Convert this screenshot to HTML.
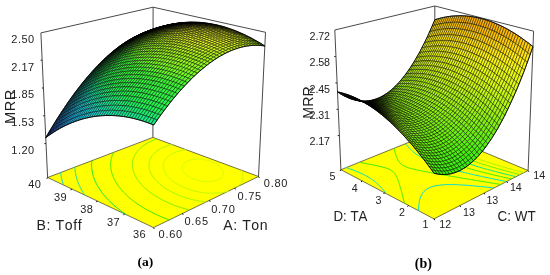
<!DOCTYPE html>
<html><head><meta charset="utf-8"><title>MRR response surfaces</title>
<style>html,body{margin:0;padding:0;background:#fff}svg{display:block}text{font-family:"Liberation Sans",Arial,sans-serif;fill:#222;font-kerning:none}text.cap{font-family:"Liberation Serif",serif;font-weight:bold;fill:#000}</style>
</head><body>
<svg width="550" height="275" viewBox="0 0 550 275">
<rect width="550" height="275" fill="#fff"/>
<g><path d="M153.5 227.6 L258.5 176.5 L152.9 137.4 L47.6 177.5 z" fill="#ffff00" stroke="#3a3a20" stroke-width="0.7"/>
<polyline points="60.6,172.5 60.7,173.2 60.8,173.8 60.9,174.6 61,175.5 61.2,176.3 61.3,176.9 61.4,177.5 61.6,178.2 61.8,179.2 62,180 62.2,180.6 62.3,181.3 62.6,182 62.9,183 63.1,183.7 63.3,184.3 63.6,185.1 63.6,185.1" fill="none" stroke="#00d7e1" stroke-width="1"/>
<polyline points="74.9,167.1 74.9,167.7 75,168.4 75,169.1 75.1,169.9 75.2,170.7 75.2,171.5 75.3,172.2 75.4,172.8 75.5,173.4 75.6,174.1 75.8,175 76,175.9 76.2,176.5 76.3,177.2 76.5,177.8 76.7,178.6 77,179.6 77.2,180.2 77.4,180.8 77.7,181.5 78.1,182.5 78.4,183.3 78.6,183.9 78.9,184.6 79.4,185.7 79.7,186.3 80,186.9 80.4,187.8 80.9,188.7 81.2,189.3 81.6,190.1 82.2,191.1 82.6,191.7 83,192.5 83.7,193.5 84,194.1 84.7,195 84.7,195" fill="none" stroke="#00e1aa" stroke-width="1"/>
<polyline points="92,160.6 91.9,161.3 91.8,161.9 91.7,162.6 91.7,163.3 91.7,163.9 91.6,164.6 91.6,165.2 91.6,165.9 91.6,166.5 91.7,167.3 91.7,168.1 91.8,168.8 91.9,169.6 92,170.3 92.1,171 92.2,171.6 92.3,172.2 92.5,173 92.7,173.8 92.9,174.7 93.1,175.3 93.2,176 93.4,176.6 93.7,177.5 94.1,178.4 94.3,179 94.5,179.6 94.8,180.3 95.2,181.3 95.6,182.1 95.9,182.7 96.2,183.4 96.8,184.4 97.1,185 97.4,185.6 98,186.7 98.5,187.4 98.8,188 99.5,189 100,189.8 100.4,190.3 101.2,191.5 101.6,192.1 102.1,192.8 102.9,193.8 103.4,194.4 104.3,195.5 104.8,196.1 105.5,196.9 106.3,197.8 106.8,198.4 107.9,199.5 108.4,200.1 109.5,201.2 110.1,201.8 111.3,202.9 111.9,203.4 113.1,204.5 113.8,205.2 115,206.2 116.2,207.2 116.9,207.8 118.3,208.9 118.9,209.4 120.3,210.5 121.8,211.5 122.5,212.1 124,213.1 125.5,214.2 126.3,214.7" fill="none" stroke="#00e646" stroke-width="1"/>
<polyline points="113.6,152.4 113.2,153.1 112.9,153.9 112.6,154.6 112.3,155.2 112.1,155.8 111.9,156.4 111.7,157 111.6,157.6 111.4,158.3 111.2,158.9 111.1,159.6 111,160.3 110.9,161 110.8,161.7 110.7,162.4 110.7,163 110.6,163.7 110.6,164.4 110.6,165.1 110.6,165.8 110.7,166.5 110.8,167.3 110.8,168.1 110.9,168.9 111.1,169.6 111.2,170.2 111.3,170.8 111.4,171.4 111.6,172.1 111.9,173 112.1,173.9 112.3,174.6 112.6,175.2 112.8,175.8 113.1,176.6 113.5,177.5 113.8,178.2 114.1,178.8 114.4,179.5 115,180.5 115.3,181.2 115.7,181.8 116.2,182.6 116.7,183.5 117.1,184.1 117.6,184.9 118.3,185.8 118.7,186.4 119.4,187.3 120,188.1 120.5,188.7 121.4,189.8 121.9,190.4 122.6,191.2 123.4,192 124,192.6 125.1,193.7 125.6,194.2 126.7,195.3 127.3,195.9 128.5,196.9 129.1,197.5 130.4,198.5 131.2,199.2 132.3,200.1 133.7,201.2 134.4,201.7 135.8,202.7 136.8,203.5 138,204.3 139.5,205.3 140.9,206.2 141.8,206.8 143.4,207.7 145.1,208.7 146.7,209.7 147.6,210.2 149.4,211.1 151.2,212 153,213 154.9,213.9 156.8,214.8 158.8,215.7 160.8,216.5 162.8,217.4 164.9,218.2 167.1,219.1 168.2,219.5 169.3,219.9" fill="none" stroke="#3ceb00" stroke-width="1"/>
<polyline points="157,138.9 155.4,139.5 153.8,140.1 152.3,140.7 150.8,141.4 149.4,142.1 148,142.8 147.3,143.2 146.1,143.9 144.9,144.6 144.3,145 143.1,145.8 142.6,146.2 141.5,147.1 141,147.5 140,148.4 139.5,148.9 138.9,149.5 138.2,150.3 137.8,150.8 137.3,151.4 136.6,152.2 136.2,152.8 135.9,153.3 135.4,154 135,154.8 134.6,155.4 134.4,156 134.1,156.6 133.8,157.2 133.6,158 133.3,158.7 133.1,159.5 132.9,160.2 132.8,160.8 132.7,161.4 132.6,162.1 132.5,162.8 132.5,163.4 132.4,164.1 132.4,164.8 132.4,165.5 132.5,166.3 132.6,167 132.6,167.7 132.8,168.4 132.9,169 133,169.6 133.2,170.3 133.4,171 133.6,171.8 133.9,172.7 134.2,173.4 134.5,174 134.7,174.6 135.1,175.4 135.6,176.3 135.9,177 136.3,177.6 136.7,178.3 137.3,179.3 137.7,179.9 138.1,180.5 139,181.6 139.4,182.1 139.9,182.7 140.8,183.8 141.3,184.4 142.1,185.3 142.8,186 143.4,186.6 144.5,187.6 145.1,188.1 146.2,189.2 146.8,189.7 148.1,190.7 148.8,191.3 150.1,192.3 151.3,193.2 152.1,193.8 153.6,194.8 154.6,195.4 155.8,196.2 157.4,197.2 159,198.1 159.8,198.6 161.5,199.5 163.2,200.4 165,201.3 166.8,202.1 168.7,203 170.6,203.8 172.6,204.6 174.7,205.4 176.8,206.2 179,207 180.1,207.3 182.4,208 184.7,208.7 186,209.1 188.3,209.7 189.6,210" fill="none" stroke="#7df000" stroke-width="1"/>
<polyline points="258,176.8 257.9,176.3" fill="none" stroke="#a5f500" stroke-width="1"/>
<polyline points="171.9,144.4 170,144.9 168.8,145.3 167.3,145.8 165.7,146.4 164.1,147 162.6,147.7 161.6,148.1 160.5,148.7 159.2,149.5 158.1,150.2 157.4,150.7 156.3,151.5 155.7,151.9 154.8,152.8 154.2,153.3 153.7,153.9 152.9,154.7 152.5,155.2 152,155.8 151.4,156.7 151.1,157.3 150.8,157.8 150.5,158.5 150.1,159.3 149.8,160.1 149.6,160.7 149.4,161.3 149.3,161.9 149.1,162.6 149,163.2 149,163.9 148.9,164.6 148.9,165.2 148.9,165.9 149,166.7 149.1,167.4 149.2,168.2 149.4,168.9 149.6,169.7 149.8,170.5 150,171.1 150.2,171.7 150.5,172.3 150.9,173.1 151.3,174 151.7,174.7 152,175.3 152.5,176 153.2,177 153.6,177.6 154,178.2 154.9,179.2 155.4,179.8 155.9,180.4 156.9,181.4 157.5,182 158.5,183 159.2,183.5 160.2,184.5 161,185.1 162.3,186.1 162.9,186.6 164.3,187.5 165,188 166.5,189 168,189.9 169,190.5 170.4,191.3 172.1,192.1 173.8,193 175.6,193.8 177.5,194.7 179.4,195.5 181.4,196.2 183.5,197 185.6,197.7 187.1,198.1 189,198.7 191.3,199.3 192.5,199.6 195,200.2 196.5,200.5 198.9,201 200.3,201.2 202.9,201.6 204.6,201.8 206.1,202 206.1,202" fill="none" stroke="#a5f500" stroke-width="1"/>
<polyline points="237.4,186.8 238.4,186 239.5,185 239.9,184.4 240.7,183.5 241.2,182.8 241.5,182.2 242.1,181.1 242.3,180.5 242.5,179.9 242.7,179.1 242.9,178.2 243,177.4 243,176.7 243,176.1 242.9,175.4 242.9,174.7 242.7,174 242.5,173.2 242.3,172.5 242,171.7 241.7,170.9 241.3,170.1 241.3,170.1" fill="none" stroke="#c3fa00" stroke-width="1"/>
<polyline points="186.2,149.8 184.2,150 182.7,150.3 181.3,150.6 179.6,151 177.7,151.5 176.2,152 175.1,152.4 173.5,153.1 172.8,153.4 171.4,154.1 170.1,154.9 169.3,155.5 168.4,156.2 167.6,156.9 166.9,157.5 166.4,158 165.6,159 165.2,159.5 164.9,160.1 164.4,160.9 164,161.7 163.8,162.3 163.6,162.9 163.5,163.5 163.3,164.1 163.2,164.8 163.2,165.6 163.2,166.3 163.2,167 163.3,167.6 163.4,168.3 163.6,169.1 163.8,169.9 164.1,170.7 164.5,171.5 164.8,172.1 165.1,172.7 165.5,173.3 166.1,174.3 166.6,175 167,175.6 167.7,176.4 168.4,177.2 168.9,177.7 170,178.8 170.6,179.3 171.7,180.2 172.4,180.8 173.7,181.8 174.4,182.3 175.8,183.2 176.8,183.8 178.1,184.6 179.7,185.4 181.4,186.3 183.2,187.1 185,187.9 187,188.6 189,189.4 191.1,190 193.4,190.7 194.5,191 196.9,191.5 198.2,191.8 200.8,192.3 202.2,192.5 204,192.7 206.5,193 208.1,193.1 209.7,193.2 211.4,193.3 213.2,193.3 215.1,193.2 217.1,193.1 219.3,192.9 220.8,192.8 222.1,192.6 224.6,192.1 225.9,191.9 228.1,191.3 228.4,191.2" fill="none" stroke="#c3fa00" stroke-width="1"/>
<polyline points="214.4,180.9 215.6,180.6 217.5,179.9 219,179.1 220.4,178.3 220.9,177.8 221.9,176.8 222.3,176.3 222.7,175.4 223,174.5 223.2,173.9 223.2,173.2 223.2,172.6 223.1,171.9 222.9,171.1 222.6,170.3 222.2,169.5 221.7,168.8 221.3,168.2 220.9,167.7 220,166.7 219.3,166.1 218.7,165.6 217.4,164.7 216.7,164.2 215.3,163.4 213.7,162.6 212.2,161.9 211.2,161.5 210,161.1 208.3,160.6 206.3,160 204.6,159.7 202.8,159.4 201.5,159.2 199.6,159.1 197.8,159.1 196.2,159.1 194.8,159.2 192.8,159.4 191.2,159.7 189.2,160.3 188.3,160.6 187,161.2 186.1,161.7 184.8,162.5 184.2,163.1 183.4,164 183.1,164.5 182.7,165.2 182.4,166 182.2,166.8 182.1,167.5 182.2,168.2 182.3,168.9 182.5,169.6 182.7,170.3 183,170.9 183.3,171.5 183.9,172.3 184.6,173.2 185.1,173.7 186,174.5 186.9,175.2 188,176 188.9,176.6 190.4,177.5 192.1,178.3 193.9,179.1 195.9,179.7 198,180.4 200.1,180.9 201.6,181.1 203.1,181.3 205.5,181.6 207.4,181.6 209.2,181.6 210.7,181.5 212.1,181.3 214.4,180.9 214.4,180.9" fill="none" stroke="#d7fc00" stroke-width="1"/>
<line x1="47.6" y1="177.5" x2="40.9" y2="32.9" stroke="#4a4a4a" stroke-width="1"/>
<line x1="152.9" y1="137.4" x2="153.1" y2="7.2" stroke="#4a4a4a" stroke-width="1"/>
<line x1="258.5" y1="176.5" x2="265.5" y2="32.3" stroke="#4a4a4a" stroke-width="1"/>
<line x1="40.9" y1="32.9" x2="153.1" y2="7.2" stroke="#4a4a4a" stroke-width="1"/>
<line x1="153.1" y1="7.2" x2="265.5" y2="32.3" stroke="#4a4a4a" stroke-width="1"/>
<line x1="153.5" y1="227.6" x2="154.3" y2="228.9" stroke="#000" stroke-width="1"/>
<line x1="182.4" y1="213.5" x2="183.2" y2="214.8" stroke="#000" stroke-width="1"/>
<line x1="209.4" y1="200.4" x2="210.2" y2="201.7" stroke="#000" stroke-width="1"/>
<line x1="234.7" y1="188.1" x2="235.5" y2="189.4" stroke="#000" stroke-width="1"/>
<line x1="258.5" y1="176.5" x2="259.3" y2="177.8" stroke="#000" stroke-width="1"/>
<line x1="124.4" y1="213.8" x2="123.6" y2="215.1" stroke="#000" stroke-width="1"/>
<line x1="97.2" y1="200.9" x2="96.4" y2="202.2" stroke="#000" stroke-width="1"/>
<line x1="71.6" y1="188.9" x2="70.8" y2="190.2" stroke="#000" stroke-width="1"/>
<line x1="47.6" y1="177.5" x2="46.8" y2="178.8" stroke="#000" stroke-width="1"/>
<g transform="scale(0.1)" stroke="#000" stroke-width="4.6" stroke-linejoin="round"><path d="M1525 298l28-7-22 9-28 7z" fill="#000"/><path d="M1547 289l28-6-22 8-28 7z" fill="#000"/><path d="M1498 306l27-8-22 9-27 8z" fill="#000"/><path d="M1570 281l27-6-22 8-28 6z" fill="#000"/><path d="M1520 297l27-8-22 9-27 8z" fill="#000"/><path d="M1470 315l28-9-22 9-28 9z" fill="#000"/><path d="M1592 274l28-6-23 7-27 6z" fill="#000"/><path d="M1542 289l28-8-23 8-27 8z" fill="#000"/><path d="M1492 306l28-9-22 9-28 9z" fill="#000"/><path d="M1442 325l28-10-22 9-28 11z" fill="#000"/><path d="M1615 267l27-6-22 7-28 6z" fill="#000"/><path d="M1565 281l27-7-22 7-28 8z" fill="#000"/><path d="M1514 297l28-8-22 8-28 9z" fill="#000"/><path d="M1464 316l28-10-22 9-28 10z" fill="#000"/><path d="M1414 337l28-12-22 10-28 12z" fill="#000"/><path d="M1637 260l28-5-23 6-27 6z" fill="#000"/><path d="M1587 274l28-7-23 7-27 7z" fill="#000"/><path d="M1537 289l28-8-23 8-28 8z" fill="#000"/><path d="M1486 307l28-10-22 9-28 10z" fill="#000"/><path d="M1436 327l28-11-22 9-28 12z" fill="#000"/><path d="M1660 255l28-6-23 6-28 5z" fill="#000"/><path d="M1386 350l28-13-22 10-28 13z" fill="#000"/><path d="M1610 267l27-7-22 7-28 7z" fill="#000"/><path d="M1559 282l28-8-22 7-28 8z" fill="#000"/><path d="M1509 299l28-10-23 8-28 10z" fill="#000"/><path d="M1683 249l28-5-23 5-28 6z" fill="#000"/><path d="M1458 318l28-11-22 9-28 11z" fill="#000"/><path d="M1408 340l28-13-22 10-28 13z" fill="#000"/><path d="M1633 261l27-6-23 5-27 7z" fill="#000"/><path d="M1357 364l29-14-22 10-29 14z" fill="#000"/><path d="M1582 275l28-8-23 7-28 8z" fill="#000"/><path d="M1531 291l28-9-22 7-28 10z" fill="#000"/><path d="M1481 310l28-11-23 8-28 11z" fill="#000"/><path d="M1706 244l28-4-23 4-28 5z" fill="#000"/><path d="M1430 331l28-13-22 9-28 13z" fill="#000"/><path d="M1656 255l27-6-23 6-27 6z" fill="#000"/><path d="M1379 354l29-14-22 10-29 14z" fill="#000"/><path d="M1605 269l28-8-23 6-28 8z" fill="#000"/><path d="M1329 379l28-15-22 10-28 16z" fill="#000"/><path d="M1554 284l28-9-23 7-28 9z" fill="#000"/><path d="M1503 302l28-11-22 8-28 11z" fill="#000"/><path d="M1730 240l27-5-23 5-28 4z" fill="#000"/><path d="M1452 322l29-12-23 8-28 13z" fill="#000"/><path d="M1679 250l27-6-23 5-27 6z" fill="#000"/><path d="M1402 344l28-13-22 9-29 14z" fill="#000"/><path d="M1628 263l28-8-23 6-28 8z" fill="#000"/><path d="M1351 369l28-15-22 10-28 15z" fill="#000"/><path d="M1577 277l28-8-23 6-28 9z" fill="#000"/><path d="M1300 396l29-17-22 11-29 17z" fill="#000"/><path d="M1526 295l28-11-23 7-28 11z" fill="#000"/><path d="M1753 236l27-4-23 3-27 5z" fill="#000"/><path d="M1475 314l28-12-22 8-29 12z" fill="#000"/><path d="M1702 245l28-5-24 4-27 6z" fill="#000"/><path d="M1651 257l28-7-23 5-28 8z" fill="#000"/><path d="M1424 336l28-14-22 9-28 13z" fill="#000"/><path d="M1600 271l28-8-23 6-28 8z" fill="#000"/><path d="M1373 359l29-15-23 10-28 15z" fill="#000"/><path d="M1322 386l29-17-22 10-29 17z" fill="#000"/><path d="M1776 233l28-4-24 3-27 4z" fill="#000"/><path d="M1549 288l28-11-23 7-28 11z" fill="#000"/><path d="M1271 414l29-18-22 11-29 18z" fill="#000"/><path d="M1497 306l29-11-23 7-28 12z" fill="#000"/><path d="M1725 241l28-5-23 4-28 5z" fill="#000"/><path d="M1446 327l29-13-23 8-28 14z" fill="#000"/><path d="M1674 252l28-7-23 5-28 7z" fill="#000"/><path d="M1623 266l28-9-23 6-28 8z" fill="#000"/><path d="M1395 350l29-14-22 8-29 15z" fill="#000"/><path d="M1344 376l29-17-22 10-29 17z" fill="#000"/><path d="M1572 281l28-10-23 6-28 11z" fill="#000"/><path d="M1800 230l27-4-23 3-28 4z" fill="#000"/><path d="M1293 403l29-17-22 10-29 18z" fill="#000"/><path d="M1749 238l27-5-23 3-28 5z" fill="#000"/><path d="M1520 299l29-11-23 7-29 11z" fill="#000"/><path d="M1242 433l29-19-22 11-29 20z" fill="#000"/><path d="M1469 319l28-13-22 8-29 13z" fill="#000"/><path d="M1697 248l28-7-23 4-28 7z" fill="#000"/><path d="M1418 342l28-15-22 9-29 14z" fill="#000"/><path d="M1646 261l28-9-23 5-28 9z" fill="#000"/><path d="M1366 366l29-16-22 9-29 17z" fill="#000"/><path d="M1595 275l28-9-23 5-28 10z" fill="#000"/><path d="M1824 228l27-4-24 2-27 4z" fill="#000"/><path d="M1315 393l29-17-22 10-29 17z" fill="#000"/><path d="M1543 292l29-11-23 7-29 11z" fill="#000"/><path d="M1772 235l28-5-24 3-27 5z" fill="#000"/><path d="M1264 423l29-20-22 11-29 19z" fill="#000"/><path d="M1492 312l28-13-23 7-28 13z" fill="#000"/><path d="M1721 244l28-6-24 3-28 7z" fill="#000"/><path d="M1213 454l29-21-22 12-29 20z" fill="#000"/><path d="M1440 334l29-15-23 8-28 15z" fill="#000"/><path d="M1669 256l28-8-23 4-28 9z" fill="#000"/><path d="M1389 358l29-16-23 8-29 16z" fill="#000"/><path d="M1618 270l28-9-23 5-28 9z" fill="#000"/><path d="M1848 226l27-3-24 1-27 4z" fill="#000"/><path d="M1337 384l29-18-22 10-29 17z" fill="#000"/><path d="M1566 286l29-11-23 6-29 11z" fill="#000"/><path d="M1796 232l28-4-24 2-28 5z" fill="#000"/><path d="M1286 412l29-19-22 10-29 20z" fill="#000"/><path d="M1515 305l28-13-23 7-28 13z" fill="#000"/><path d="M1745 241l27-6-23 3-28 6z" fill="#000"/><path d="M1235 443l29-20-22 10-29 21z" fill="#000"/><path d="M1463 326l29-14-23 7-29 15z" fill="#000"/><path d="M1693 252l28-8-24 4-28 8z" fill="#000"/><path d="M1184 476l29-22-22 11-29 23z" fill="#000"/><path d="M1411 349l29-15-22 8-29 16z" fill="#000"/><path d="M1641 265l28-9-23 5-28 9z" fill="#000"/><path d="M1872 225l27-3-24 1-27 3z" fill="#000"/><path d="M1360 375l29-17-23 8-29 18z" fill="#000"/><path d="M1589 281l29-11-23 5-29 11z" fill="#000"/><path d="M1820 230l28-4-24 2-28 4z" fill="#000"/><path d="M1308 402l29-18-22 9-29 19z" fill="#000"/><path d="M1538 299l28-13-23 6-28 13z" fill="#000"/><path d="M1768 238l28-6-24 3-27 6z" fill="#000"/><path d="M1257 433l29-21-22 11-29 20z" fill="#000"/><path d="M1486 319l29-14-23 7-29 14z" fill="#000"/><path d="M1716 248l29-7-24 3-28 8z" fill="#000"/><path d="M1205 465l30-22-22 11-29 22z" fill="#000"/><path d="M1434 341l29-15-23 8-29 15z" fill="#000"/><path d="M1665 261l28-9-24 4-28 9z" fill="#000"/><path d="M1896 224l27-2-24 0-27 3z" fill="#000"/><path d="M1154 499l30-23-22 12-30 23z" fill="#000"/><path d="M1382 366l29-17-22 9-29 17z" fill="#000"/><path d="M1844 229l28-4-24 1-28 4z" fill="#000"/><path d="M1613 276l28-11-23 5-29 11z" fill="#000"/><path d="M1331 393l29-18-23 9-29 18z" fill="#000"/><path d="M1792 236l28-6-24 2-28 6z" fill="#000"/><path d="M1561 293l28-12-23 5-28 13z" fill="#000"/><path d="M1279 423l29-21-22 10-29 21z" fill="#010200"/><path d="M1509 312l29-13-23 6-29 14z" fill="#000"/><path d="M1740 245l28-7-23 3-29 7z" fill="#000"/><path d="M1457 334l29-15-23 7-29 15z" fill="#000"/><path d="M1227 454l30-21-22 10-30 22z" fill="#010601"/><path d="M1688 257l28-9-23 4-28 9z" fill="#000"/><path d="M1920 224l28-2-25 0-27 2z" fill="#000"/><path d="M1176 488l29-23-21 11-30 23z" fill="#020802"/><path d="M1405 358l29-17-23 8-29 17z" fill="#020400"/><path d="M1636 271l29-10-24 4-28 11z" fill="#000"/><path d="M1868 228l28-4-24 1-28 4z" fill="#000"/><path d="M1124 524l30-25-22 12-29 25z" fill="#020a03"/><path d="M1353 384l29-18-22 9-29 18z" fill="#030901"/><path d="M1816 234l28-5-24 1-28 6z" fill="#000"/><path d="M1584 288l29-12-24 5-28 12z" fill="#000"/><path d="M1301 413l30-20-23 9-29 21z" fill="#040c02"/><path d="M1764 243l28-7-24 2-28 7z" fill="#000"/><path d="M1532 306l29-13-23 6-29 13z" fill="#020300"/><path d="M1480 327l29-15-23 7-29 15z" fill="#050901"/><path d="M1945 225l27-2-24-1-28 2z" fill="#000"/><path d="M1249 444l30-21-22 10-30 21z" fill="#040f03"/><path d="M1712 254l28-9-24 3-28 9z" fill="#000"/><path d="M1428 351l29-17-23 7-29 17z" fill="#070f02"/><path d="M1198 477l29-23-22 11-29 23z" fill="#041204"/><path d="M1660 267l28-10-23 4-29 10z" fill="#000"/><path d="M1893 228l27-4-24 0-28 4z" fill="#000"/><path d="M1146 512l30-24-22 11-30 25z" fill="#041405"/><path d="M1376 376l29-18-23 8-29 18z" fill="#091303"/><path d="M1608 283l28-12-23 5-29 12z" fill="#040701"/><path d="M1840 233l28-5-24 1-28 5z" fill="#000"/><path d="M1095 550l29-26-21 12-30 26z" fill="#031506"/><path d="M1324 404l29-20-22 9-30 20z" fill="#081704"/><path d="M1555 301l29-13-23 5-29 13z" fill="#090e01"/><path d="M1788 241l28-7-24 2-28 7z" fill="#000"/><path d="M1272 434l29-21-22 10-30 21z" fill="#071a05"/><path d="M1503 321l29-15-23 6-29 15z" fill="#0c1402"/><path d="M1736 251l28-8-24 2-28 9z" fill="#000"/><path d="M1969 226l27-2-24-1-27 2z" fill="#000"/><path d="M1220 467l29-23-22 10-29 23z" fill="#061c06"/><path d="M1451 344l29-17-23 7-29 17z" fill="#0e1903"/><path d="M1684 264l28-10-24 3-28 10z" fill="#070901"/><path d="M1917 228l28-3-25-1-27 4z" fill="#000"/><path d="M1168 501l30-24-22 11-30 24z" fill="#061e07"/><path d="M1399 368l29-17-23 7-29 18z" fill="#0f1e03"/><path d="M1631 279l29-12-24 4-28 12z" fill="#0c1101"/><path d="M1865 233l28-5-25 0-28 5z" fill="#000"/><path d="M1116 538l30-26-22 12-29 26z" fill="#051f09"/><path d="M1346 396l30-20-23 8-29 20z" fill="#0e2105"/><path d="M1579 296l29-13-24 5-29 13z" fill="#101802"/><path d="M1812 240l28-7-24 1-28 7z" fill="#010100"/><path d="M1065 577l30-27-22 12-30 28z" fill="#05200a"/><path d="M1294 425l30-21-23 9-29 21z" fill="#0c2406"/><path d="M1526 315l29-14-23 5-29 15z" fill="#131e03"/><path d="M1760 249l28-8-24 2-28 8z" fill="#0a0c01"/><path d="M1994 228l27-2-25-2-27 2z" fill="#000"/><path d="M1242 457l30-23-23 10-29 23z" fill="#092608"/><path d="M1474 337l29-16-23 6-29 17z" fill="#142404"/><path d="M1707 261l29-10-24 3-28 10z" fill="#101502"/><path d="M1942 229l27-3-24-1-28 3z" fill="#000"/><path d="M1190 491l30-24-22 10-30 24z" fill="#092809"/><path d="M1421 361l30-17-23 7-29 17z" fill="#152805"/><path d="M1655 275l29-11-24 3-29 12z" fill="#151c03"/><path d="M1889 233l28-5-24 0-28 5z" fill="#010100"/><path d="M1138 527l30-26-22 11-30 26z" fill="#08290b"/><path d="M1369 388l30-20-23 8-30 20z" fill="#142c06"/><path d="M1602 291l29-12-23 4-29 13z" fill="#182303"/><path d="M1837 239l28-6-25 0-28 7z" fill="#0b0c01"/><path d="M1086 566l30-28-21 12-30 27z" fill="#07290c"/><path d="M1317 416l29-20-22 8-30 21z" fill="#112f07"/><path d="M1550 310l29-14-24 5-29 14z" fill="#1a2904"/><path d="M1784 248l28-8-24 1-28 8z" fill="#141703"/><path d="M2019 230l27-1-25-3-27 2z" fill="#000"/><path d="M1035 606l30-29-22 13-30 29z" fill="#052a0d"/><path d="M1264 447l30-22-22 9-30 23z" fill="#0d3109"/><path d="M1497 331l29-16-23 6-29 16z" fill="#1c2f05"/><path d="M1731 259l29-10-24 2-29 10z" fill="#1b2003"/><path d="M1966 231l28-3-25-2-27 3z" fill="#000"/><path d="M1212 481l30-24-22 10-30 24z" fill="#0b320b"/><path d="M1445 355l29-18-23 7-30 17z" fill="#1c3305"/><path d="M1679 272l28-11-23 3-29 11z" fill="#1f2804"/><path d="M1914 234l28-5-25-1-28 5z" fill="#0b0c01"/><path d="M1160 516l30-25-22 10-30 26z" fill="#0a330d"/><path d="M1392 380l29-19-22 7-30 20z" fill="#1b3706"/><path d="M1861 239l28-6-24 0-28 6z" fill="#161803"/><path d="M1626 288l29-13-24 4-29 12z" fill="#222e04"/><path d="M1108 554l30-27-22 11-30 28z" fill="#09330e"/><path d="M1339 408l30-20-23 8-29 20z" fill="#183a08"/><path d="M1573 305l29-14-23 5-29 14z" fill="#233404"/><path d="M2043 233l28-1-25-3-27 1z" fill="#000"/><path d="M1808 247l29-8-25 1-28 8z" fill="#1f2204"/><path d="M1056 594l30-28-21 11-30 29z" fill="#073310"/><path d="M1521 326l29-16-24 5-29 16z" fill="#243905"/><path d="M1991 233l28-3-25-2-28 3z" fill="#090a01"/><path d="M1287 439l30-23-23 9-30 22z" fill="#133b0a"/><path d="M1756 257l28-9-24 1-29 10z" fill="#262c05"/><path d="M1005 636l30-30-22 13-30 30z" fill="#063313"/><path d="M1235 471l29-24-22 10-30 24z" fill="#0f3c0d"/><path d="M1468 348l29-17-23 6-29 18z" fill="#243e06"/><path d="M1703 269l28-10-24 2-28 11z" fill="#2a3305"/><path d="M1938 235l28-4-24-2-28 5z" fill="#161703"/><path d="M1182 506l30-25-22 10-30 25z" fill="#0d3d0e"/><path d="M1415 373l30-18-24 6-29 19z" fill="#234207"/><path d="M1650 284l29-12-24 3-29 13z" fill="#2c3a06"/><path d="M1886 240l28-6-25-1-28 6z" fill="#212304"/><path d="M1130 543l30-27-22 11-30 27z" fill="#0c3d10"/><path d="M1362 401l30-21-23 8-30 20z" fill="#204509"/><path d="M1597 301l29-13-24 3-29 14z" fill="#2c3f05"/><path d="M1833 246l28-7-24 0-29 8z" fill="#2a2e05"/><path d="M2069 237l27-1-25-4-28 1z" fill="#060701"/><path d="M1078 583l30-29-22 12-30 28z" fill="#0a3d12"/><path d="M1310 430l29-22-22 8-30 23z" fill="#1a460b"/><path d="M1544 321l29-16-23 5-29 16z" fill="#2c4406"/><path d="M2016 236l27-3-24-3-28 3z" fill="#141503"/><path d="M1780 256l28-9-24 1-28 9z" fill="#313706"/><path d="M1026 624l30-30-21 12-30 30z" fill="#083d14"/><path d="M1491 343l30-17-24 5-29 17z" fill="#2c4907"/><path d="M1963 237l28-4-25-2-28 4z" fill="#202304"/><path d="M1257 462l30-23-23 8-29 24z" fill="#14470e"/><path d="M1727 267l29-10-25 2-28 10z" fill="#363f07"/><path d="M974 668l31-32-22 13-30 32z" fill="#063b1a"/><path d="M1205 496l30-25-23 10-30 25z" fill="#104810"/><path d="M1438 367l30-19-23 7-30 18z" fill="#2a4d08"/><path d="M1674 281l29-12-24 3-29 12z" fill="#384607"/><path d="M1910 241l28-6-24-1-28 6z" fill="#2c2f06"/><path d="M1152 533l30-27-22 10-30 27z" fill="#0e4812"/><path d="M1621 298l29-14-24 4-29 13z" fill="#384b07"/><path d="M2094 241l27-1-25-4-27 1z" fill="#111202"/><path d="M1385 393l30-20-23 7-30 21z" fill="#285009"/><path d="M1857 247l29-7-25-1-28 7z" fill="#363a07"/><path d="M1100 571l30-28-22 11-30 29z" fill="#0c4714"/><path d="M1333 422l29-21-23 7-29 22z" fill="#22510b"/><path d="M1568 317l29-16-24 4-29 16z" fill="#354f06"/><path d="M1804 255l29-9-25 1-28 9z" fill="#3e4308"/><path d="M2041 239l28-2-26-4-27 3z" fill="#1f2004"/><path d="M1048 612l30-29-22 11-30 30z" fill="#0a4616"/><path d="M1280 454l30-24-23 9-30 23z" fill="#1b520e"/><path d="M1515 338l29-17-23 5-30 17z" fill="#345407"/><path d="M1751 266l29-10-24 1-29 10z" fill="#434b08"/><path d="M1988 239l28-3-25-3-28 4z" fill="#2b2e06"/><path d="M996 655l30-31-21 12-31 32z" fill="#08451a"/><path d="M1227 487l30-25-22 9-30 25z" fill="#145211"/><path d="M1462 361l29-18-23 5-30 19z" fill="#335709"/><path d="M1698 279l29-12-24 2-29 12z" fill="#455209"/><path d="M1935 242l28-5-25-2-28 6z" fill="#373a08"/><path d="M944 701l30-33-21 13-30 33z" fill="#064222"/><path d="M1175 523l30-27-23 10-30 27z" fill="#115213"/><path d="M1409 387l29-20-23 6-30 20z" fill="#305b0a"/><path d="M1645 295l29-14-24 3-29 14z" fill="#445708"/><path d="M1882 248l28-7-24-1-29 7z" fill="#414509"/><path d="M2119 245l27 0-25-5-27 1z" fill="#1b1d04"/><path d="M1122 561l30-28-22 10-30 28z" fill="#0f5216"/><path d="M1356 415l29-22-23 8-29 21z" fill="#2b5d0c"/><path d="M1592 313l29-15-24 3-29 16z" fill="#415b08"/><path d="M1829 255l28-8-24-1-29 9z" fill="#4a4f0a"/><path d="M2066 243l28-2-25-4-28 2z" fill="#292c06"/><path d="M1070 601l30-30-22 12-30 29z" fill="#0d5118"/><path d="M1303 445l30-23-23 8-30 24z" fill="#235d0f"/><path d="M1538 333l30-16-24 4-29 17z" fill="#3e5f08"/><path d="M1776 265l28-10-24 1-29 10z" fill="#50580a"/><path d="M2013 242l28-3-25-3-28 3z" fill="#363a08"/><path d="M1017 643l31-31-22 12-30 31z" fill="#0a4f1a"/><path d="M1250 478l30-24-23 8-30 25z" fill="#195d12"/><path d="M1485 356l30-18-24 5-29 18z" fill="#3c6309"/><path d="M1722 278l29-12-24 1-29 12z" fill="#525e0a"/><path d="M1960 244l28-5-25-2-28 5z" fill="#424609"/><path d="M965 688l31-33-22 13-30 33z" fill="#084c23"/><path d="M1197 513l30-26-22 9-30 27z" fill="#155d15"/><path d="M1432 381l30-20-24 6-29 20z" fill="#38660b"/><path d="M1669 292l29-13-24 2-29 14z" fill="#51640a"/><path d="M1907 249l28-7-25-1-28 7z" fill="#4d510b"/><path d="M2144 251l28-1-26-5-27 0z" fill="#262805"/><path d="M914 735l30-34-21 13-31 34z" fill="#06492c"/><path d="M1144 551l31-28-23 10-30 28z" fill="#125c17"/><path d="M1379 408l30-21-24 6-29 22z" fill="#34680c"/><path d="M1616 310l29-15-24 3-29 15z" fill="#4e680a"/><path d="M1854 256l28-8-25-1-28 8z" fill="#565b0c"/><path d="M2092 247l27-2-25-4-28 2z" fill="#343707"/><path d="M1092 590l30-29-22 10-30 30z" fill="#105b19"/><path d="M1326 438l30-23-23 7-30 23z" fill="#2c690f"/><path d="M1562 329l30-16-24 4-30 16z" fill="#486a09"/><path d="M1800 265l29-10-25 0-28 10z" fill="#5c640c"/><path d="M2039 246l27-3-25-4-28 3z" fill="#42450a"/><path d="M1039 632l31-31-22 11-31 31z" fill="#0d591c"/><path d="M1273 470l30-25-23 9-30 24z" fill="#216813"/><path d="M1509 351l29-18-23 5-30 18z" fill="#456e0a"/><path d="M1747 277l29-12-25 1-29 12z" fill="#606b0c"/><path d="M1985 247l28-5-25-3-28 5z" fill="#4e520b"/><path d="M987 676l30-33-21 12-31 33z" fill="#0a5722"/><path d="M1220 504l30-26-23 9-30 26z" fill="#186716"/><path d="M1455 375l30-19-23 5-30 20z" fill="#41710b"/><path d="M1693 291l29-13-24 1-29 13z" fill="#5f700c"/><path d="M1932 251l28-7-25-2-28 7z" fill="#595d0d"/><path d="M2170 257l27 0-25-7-28 1z" fill="#303307"/><path d="M935 722l30-34-21 13-30 34z" fill="#08532d"/><path d="M1167 541l30-28-22 10-31 28z" fill="#166618"/><path d="M1402 402l30-21-23 6-30 21z" fill="#3d730d"/><path d="M1640 307l29-15-24 3-29 15z" fill="#5c740c"/><path d="M1879 257l28-8-25-1-28 8z" fill="#62670e"/><path d="M2117 252l27-1-25-6-27 2z" fill="#3f4309"/><path d="M883 771l31-36-22 13-30 36z" fill="#074f37"/><path d="M1114 580l30-29-22 10-30 29z" fill="#13651b"/><path d="M1586 326l30-16-24 3-30 16z" fill="#55770b"/><path d="M1349 431l30-23-23 7-30 23z" fill="#36740f"/><path d="M1825 265l29-9-25-1-29 10z" fill="#69700e"/><path d="M2064 250l28-3-26-4-27 3z" fill="#4d510b"/><path d="M1061 621l31-31-22 11-31 31z" fill="#0f641e"/><path d="M1295 462l31-24-23 7-30 25z" fill="#2a7413"/><path d="M1533 347l29-18-24 4-29 18z" fill="#4f790a"/><path d="M1771 276l29-11-24 0-29 12z" fill="#6e780e"/><path d="M2011 251l28-5-26-4-28 5z" fill="#5a5e0d"/><path d="M1242 496l31-26-23 8-30 26z" fill="#1e7216"/><path d="M1718 289l29-12-25 1-29 13z" fill="#6e7d0e"/><path d="M1009 664l30-32-22 11-30 33z" fill="#0c6121"/><path d="M1479 370l30-19-24 5-30 19z" fill="#4b7c0c"/><path d="M1957 253l28-6-25-3-28 7z" fill="#656a0e"/><path d="M2196 263l27 0-26-6-27 0z" fill="#3b3f08"/><path d="M1189 532l31-28-23 9-30 28z" fill="#197119"/><path d="M956 710l31-34-22 12-30 34z" fill="#0a5e2c"/><path d="M1426 396l29-21-23 6-30 21z" fill="#467e0d"/><path d="M1664 305l29-14-24 1-29 15z" fill="#6a810d"/><path d="M1904 259l28-8-25-2-28 8z" fill="#6e7410"/><path d="M2143 258l27-1-26-6-27 1z" fill="#4b4f0a"/><path d="M904 758l31-36-21 13-31 36z" fill="#085938"/><path d="M1136 570l31-29-23 10-30 29z" fill="#16701c"/><path d="M1372 425l30-23-23 6-30 23z" fill="#3f800f"/><path d="M1610 323l30-16-24 3-30 16z" fill="#64830c"/><path d="M1850 266l29-9-25-1-29 9z" fill="#757d10"/><path d="M2089 255l28-3-25-5-28 3z" fill="#595d0d"/><path d="M852 808l31-37-21 13-31 37z" fill="#085442"/><path d="M1083 611l31-31-22 10-31 31z" fill="#136e1f"/><path d="M1319 455l30-24-23 7-31 24z" fill="#348012"/><path d="M1557 343l29-17-24 3-29 18z" fill="#5a850b"/><path d="M2036 255l28-5-25-4-28 5z" fill="#666a0f"/><path d="M1796 276l29-11-25 0-29 11z" fill="#7b8411"/><path d="M1031 653l30-32-22 11-30 32z" fill="#0f6c22"/><path d="M1265 488l30-26-22 8-31 26z" fill="#277e16"/><path d="M1503 366l30-19-24 4-30 19z" fill="#55870c"/><path d="M1742 289l29-13-24 1-29 12z" fill="#7d8a10"/><path d="M1982 257l29-6-26-4-28 6z" fill="#717611"/><path d="M2221 270l28 1-26-8-27 0z" fill="#454a09"/><path d="M1212 523l30-27-22 8-31 28z" fill="#1d7c1a"/><path d="M1689 303l29-14-25 2-29 14z" fill="#798e0f"/><path d="M2168 264l28-1-26-6-27 1z" fill="#555a0c"/><path d="M978 698l31-34-22 12-31 34z" fill="#0c682b"/><path d="M1449 391l30-21-24 5-29 21z" fill="#4f890e"/><path d="M1929 261l28-8-25-2-28 8z" fill="#7a8012"/><path d="M926 745l30-35-21 12-31 36z" fill="#096437"/><path d="M1159 561l30-29-22 9-31 29z" fill="#1a7a1e"/><path d="M1395 419l31-23-24 6-30 23z" fill="#498b10"/><path d="M1635 321l29-16-24 2-30 16z" fill="#72910e"/><path d="M1875 268l29-9-25-2-29 9z" fill="#828912"/><path d="M2115 261l28-3-26-6-28 3z" fill="#64690f"/><path d="M873 795l31-37-21 13-31 37z" fill="#085e44"/><path d="M1342 448l30-23-23 6-30 24z" fill="#3f8b12"/><path d="M1106 601l30-31-22 10-31 31z" fill="#167821"/><path d="M1581 340l29-17-24 3-29 17z" fill="#68920d"/><path d="M1821 277l29-11-25-1-29 11z" fill="#889113"/><path d="M2061 259l28-4-25-5-28 5z" fill="#717611"/><path d="M821 846l31-38-21 13-31 39z" fill="#08584f"/><path d="M1053 643l30-32-22 10-30 32z" fill="#127624"/><path d="M1288 481l31-26-24 7-30 26z" fill="#318917"/><path d="M1527 362l30-19-24 4-30 19z" fill="#60930d"/><path d="M1767 289l29-13-25 0-29 13z" fill="#8c9712"/><path d="M2008 260l28-5-25-4-29 6z" fill="#7d8213"/><path d="M2247 278l27 1-25-8-28-1z" fill="#50560b"/><path d="M1000 687l31-34-22 11-31 34z" fill="#0e7329"/><path d="M1235 515l30-27-23 8-30 27z" fill="#22871b"/><path d="M1473 387l30-21-24 4-30 21z" fill="#5a950e"/><path d="M1713 303l29-14-24 0-29 14z" fill="#899b11"/><path d="M1954 264l28-7-25-4-28 8z" fill="#878d14"/><path d="M2194 271l27-1-25-7-28 1z" fill="#60660e"/><path d="M947 733l31-35-22 12-30 35z" fill="#0b6e37"/><path d="M1181 552l31-29-23 9-30 29z" fill="#1d851f"/><path d="M1419 413l30-22-23 5-31 23z" fill="#529610"/><path d="M1659 319l30-16-25 2-29 16z" fill="#829e10"/><path d="M1900 270l29-9-25-2-29 9z" fill="#8f9615"/><path d="M2141 267l27-3-25-6-28 3z" fill="#707511"/><path d="M895 782l31-37-22 13-31 37z" fill="#096944"/><path d="M1128 591l31-30-23 9-30 31z" fill="#198322"/><path d="M1365 442l30-23-23 6-30 23z" fill="#4a9712"/><path d="M1605 338l30-17-25 2-29 17z" fill="#789f0f"/><path d="M1846 278l29-10-25-2-29 11z" fill="#959d15"/><path d="M2087 265l28-4-26-6-28 4z" fill="#7e8312"/><path d="M843 833l30-38-21 13-31 38z" fill="#096251"/><path d="M1075 632l31-31-23 10-30 32z" fill="#158125"/><path d="M1311 474l31-26-23 7-31 26z" fill="#3c9516"/><path d="M1551 359l30-19-24 3-30 19z" fill="#6b9f0d"/><path d="M1792 289l29-12-25-1-29 13z" fill="#99a415"/><path d="M2033 265l28-6-25-4-28 5z" fill="#898f15"/><path d="M2273 287l27 1-26-9-27-1z" fill="#585f0c"/><path d="M791 886l30-40-21 14-30 40z" fill="#095c5d"/><path d="M1022 676l31-33-22 10-31 34z" fill="#117e28"/><path d="M1258 508l30-27-23 7-30 27z" fill="#2c931b"/><path d="M1497 382l30-20-24 4-30 21z" fill="#64a00e"/><path d="M1738 302l29-13-25 0-29 14z" fill="#9aa914"/><path d="M1979 268l29-8-26-3-28 7z" fill="#949a16"/><path d="M2220 279l27-1-26-8-27 1z" fill="#6c720f"/><path d="M969 722l31-35-22 11-31 35z" fill="#0d7935"/><path d="M1204 544l31-29-23 8-31 29z" fill="#22911f"/><path d="M1443 408l30-21-24 4-30 22z" fill="#5da210"/><path d="M1684 318l29-15-24 0-30 16z" fill="#92ab12"/><path d="M1925 273l29-9-25-3-29 9z" fill="#9ca317"/><path d="M2166 274l28-3-26-7-27 3z" fill="#7b8112"/><path d="M916 770l31-37-21 12-31 37z" fill="#0a7343"/><path d="M1151 582l30-30-22 9-31 30z" fill="#1d8e23"/><path d="M1389 437l30-24-24 6-30 23z" fill="#53a212"/><path d="M1629 336l30-17-24 2-30 17z" fill="#88ac11"/><path d="M1871 280l29-10-25-2-29 10z" fill="#a2aa17"/><path d="M2113 271l28-4-26-6-28 4z" fill="#8a8f15"/><path d="M864 820l31-38-22 13-30 38z" fill="#0a6d52"/><path d="M1097 623l31-32-22 10-31 31z" fill="#198b26"/><path d="M1335 467l30-25-23 6-31 26z" fill="#47a215"/><path d="M1575 356l30-18-24 2-30 19z" fill="#7aab0f"/><path d="M1817 290l29-12-25-1-29 12z" fill="#a6b117"/><path d="M2059 270l28-5-26-6-28 6z" fill="#969c17"/><path d="M2299 296l27 1-26-9-27-1z" fill="#60670d"/><path d="M812 873l31-40-22 13-30 40z" fill="#09665f"/><path d="M1044 666l31-34-22 11-31 33z" fill="#14882a"/><path d="M1281 501l30-27-23 7-30 27z" fill="#379f1b"/><path d="M1521 379l30-20-24 3-30 20z" fill="#6fac0f"/><path d="M1763 302l29-13-25 0-29 13z" fill="#a8b616"/><path d="M2005 272l28-7-25-5-29 8z" fill="#a0a618"/><path d="M2246 287l27 0-26-9-27 1z" fill="#767e10"/><path d="M760 927l31-41-21 14-31 41z" fill="#0a5e66"/><path d="M991 711l31-35-22 11-31 35z" fill="#0f8432"/><path d="M1227 536l31-28-23 7-31 29z" fill="#269c20"/><path d="M1467 404l30-22-24 5-30 21z" fill="#67ad11"/><path d="M1708 317l30-15-25 1-29 15z" fill="#a3b814"/><path d="M2192 281l28-2-26-8-28 3z" fill="#878e13"/><path d="M1951 276l28-8-25-4-29 9z" fill="#a9b019"/><path d="M938 758l31-36-22 11-31 37z" fill="#0c7e42"/><path d="M1173 574l31-30-23 8-30 30z" fill="#219924"/><path d="M1412 432l31-24-24 5-30 24z" fill="#5eae13"/><path d="M1654 334l30-16-25 1-30 17z" fill="#98ba13"/><path d="M2139 277l27-3-25-7-28 4z" fill="#969c16"/><path d="M1896 283l29-10-25-3-29 10z" fill="#afb71a"/><path d="M1120 614l31-32-23 9-31 32z" fill="#1c9627"/><path d="M1358 462l31-25-24 5-30 25z" fill="#54ae15"/><path d="M1600 354l29-18-24 2-30 18z" fill="#8ab911"/><path d="M1842 292l29-12-25-2-29 12z" fill="#b3be19"/><path d="M2326 306l27 1-27-10-27-1z" fill="#67700d"/><path d="M885 808l31-38-21 12-31 38z" fill="#0a7851"/><path d="M2085 276l28-5-26-6-28 5z" fill="#a2a818"/><path d="M833 860l31-40-21 13-31 40z" fill="#0a7060"/><path d="M1066 656l31-33-22 9-31 34z" fill="#17932c"/><path d="M1304 494l31-27-24 7-30 27z" fill="#42ab1a"/><path d="M1788 303l29-13-25-1-29 13z" fill="#b6c318"/><path d="M1545 376l30-20-24 3-30 20z" fill="#7bb80f"/><path d="M2031 277l28-7-26-5-28 7z" fill="#adb31a"/><path d="M2272 296l27 0-26-9-27 0z" fill="#7e8611"/><path d="M781 914l31-41-21 13-31 41z" fill="#0a696c"/><path d="M1250 529l31-28-23 7-31 28z" fill="#2fa820"/><path d="M1733 317l30-15-25 0-30 15z" fill="#b4c617"/><path d="M1013 701l31-35-22 10-31 35z" fill="#128f2f"/><path d="M1491 401l30-22-24 3-30 22z" fill="#72b911"/><path d="M1976 280l29-8-26-4-28 8z" fill="#b6bd1b"/><path d="M2219 289l27-2-26-8-28 2z" fill="#929a15"/><path d="M729 970l31-43-21 14-31 43z" fill="#0b606f"/><path d="M1436 427l31-23-24 4-31 24z" fill="#69ba13"/><path d="M960 747l31-36-22 11-31 36z" fill="#0e8940"/><path d="M1196 566l31-30-23 8-31 30z" fill="#26a524"/><path d="M1679 334l29-17-24 1-30 16z" fill="#a9c715"/><path d="M1922 286l29-10-26-3-29 10z" fill="#bcc51c"/><path d="M2165 284l27-3-26-7-27 3z" fill="#a1a818"/><path d="M1382 457l30-25-23 5-31 25z" fill="#5eb916"/><path d="M907 796l31-38-22 12-31 38z" fill="#0b8350"/><path d="M1143 605l30-31-22 8-31 32z" fill="#20a128"/><path d="M1624 353l30-19-25 2-29 18z" fill="#9bc713"/><path d="M1867 294l29-11-25-3-29 12z" fill="#c1cb1c"/><path d="M2111 282l28-5-26-6-28 5z" fill="#afb51a"/><path d="M2352 316l27 2-26-11-27-1z" fill="#6d770e"/><path d="M854 848l31-40-21 12-31 40z" fill="#0b7b60"/><path d="M1089 647l31-33-23 9-31 33z" fill="#1b9e2d"/><path d="M1328 488l30-26-23 5-31 27z" fill="#4eb81a"/><path d="M1570 374l30-20-25 2-30 20z" fill="#8ac511"/><path d="M1813 305l29-13-25-2-29 13z" fill="#c3d01b"/><path d="M2056 282l29-6-26-6-28 7z" fill="#bac01d"/><path d="M2299 306l27 0-27-10-27 0z" fill="#858f12"/><path d="M802 901l31-41-21 13-31 41z" fill="#0b7370"/><path d="M1035 691l31-35-22 10-31 35z" fill="#169a30"/><path d="M1274 522l30-28-23 7-31 28z" fill="#3ab41f"/><path d="M1758 318l30-15-25-1-30 15z" fill="#c4d419"/><path d="M2245 298l27-2-26-9-27 2z" fill="#9da616"/><path d="M1515 397l30-21-24 3-30 22z" fill="#7ec512"/><path d="M2002 285l29-8-26-5-29 8z" fill="#c3ca1d"/><path d="M749 957l32-43-21 13-31 43z" fill="#0b6a75"/><path d="M982 737l31-36-22 10-31 36z" fill="#11943c"/><path d="M1219 558l31-29-23 7-31 30z" fill="#2ab025"/><path d="M1460 423l31-22-24 3-31 23z" fill="#74c513"/><path d="M1704 334l29-17-25 0-29 17z" fill="#bbd518"/><path d="M2191 292l28-3-27-8-27 3z" fill="#adb51a"/><path d="M1947 290l29-10-25-4-29 10z" fill="#cad21e"/><path d="M697 1014l32-44-21 14-31 44z" fill="#0c6078"/><path d="M929 785l31-38-22 11-31 38z" fill="#0d8e4e"/><path d="M1406 452l30-25-24 5-30 25z" fill="#69c515"/><path d="M1893 297l29-11-26-3-29 11z" fill="#ced91f"/><path d="M2379 327l26 2-26-11-27-2z" fill="#717f0f"/><path d="M1165 597l31-31-23 8-30 31z" fill="#24ac2a"/><path d="M1649 352l30-18-25 0-30 19z" fill="#acd415"/><path d="M2137 289l28-5-26-7-28 5z" fill="#bbc21c"/><path d="M876 836l31-40-22 12-31 40z" fill="#0c8660"/><path d="M1351 483l31-26-24 5-30 26z" fill="#5bc418"/><path d="M1838 307l29-13-25-2-29 13z" fill="#d1de1e"/><path d="M2325 316l27 0-26-10-27 0z" fill="#8c9712"/><path d="M1112 638l31-33-23 9-31 33z" fill="#1fa82e"/><path d="M1594 372l30-19-24 1-30 20z" fill="#9bd213"/><path d="M2082 288l29-6-26-6-29 6z" fill="#c6ce1f"/><path d="M1058 681l31-34-23 9-31 35z" fill="#19a532"/><path d="M823 888l31-40-21 12-31 41z" fill="#0b7e70"/><path d="M1297 516l31-28-24 6-30 28z" fill="#46c01f"/><path d="M1539 395l31-21-25 2-30 21z" fill="#8ad112"/><path d="M1783 319l30-14-25-2-30 15z" fill="#d2e11c"/><path d="M2028 290l28-8-25-5-29 8z" fill="#d1d720"/><path d="M2271 307l28-1-27-10-27 2z" fill="#a4ae17"/><path d="M1004 727l31-36-22 10-31 36z" fill="#13a038"/><path d="M771 943l31-42-21 13-32 43z" fill="#0c747b"/><path d="M1243 551l31-29-24 7-31 29z" fill="#30bb25"/><path d="M1485 420l30-23-24 4-31 22z" fill="#7fd114"/><path d="M1729 334l29-16-25-1-29 17z" fill="#cde31a"/><path d="M1973 294l29-9-26-5-29 10z" fill="#d8df20"/><path d="M2217 300l28-2-26-9-28 3z" fill="#b9c21b"/><path d="M718 1001l31-44-20 13-32 44z" fill="#0c6a7f"/><path d="M951 774l31-37-22 10-31 38z" fill="#10994c"/><path d="M1188 589l31-31-23 8-31 31z" fill="#29b82a"/><path d="M1430 448l30-25-24 4-30 25z" fill="#73d116"/><path d="M1674 351l30-17-25 0-30 18z" fill="#bee318"/><path d="M1918 301l29-11-25-4-29 11z" fill="#dce620"/><path d="M2163 296l28-4-26-8-28 5z" fill="#c7cf1e"/><path d="M2405 339l27 2-27-12-26-2z" fill="#74860f"/><path d="M666 1060l31-46-20 14-31 46z" fill="#0d5f81"/><path d="M898 824l31-39-22 11-31 40z" fill="#0d915e"/><path d="M1134 630l31-33-22 8-31 33z" fill="#23b42f"/><path d="M1375 478l31-26-24 5-31 26z" fill="#67d118"/><path d="M1619 371l30-19-25 1-30 19z" fill="#ace116"/><path d="M1864 310l29-13-26-3-29 13z" fill="#dfeb20"/><path d="M2108 295l29-6-26-7-29 6z" fill="#d3db21"/><path d="M2351 327l28 0-27-11-27 0z" fill="#939f13"/><path d="M845 876l31-40-22 12-31 40z" fill="#0c8870"/><path d="M1080 672l32-34-23 9-31 34z" fill="#1db033"/><path d="M1321 510l30-27-23 5-31 28z" fill="#53cc1e"/><path d="M1564 393l30-21-24 2-31 21z" fill="#97dd12"/><path d="M1809 321l29-14-25-2-30 14z" fill="#e0ef1f"/><path d="M2054 296l28-8-26-6-28 8z" fill="#dee522"/><path d="M2297 317l28-1-26-10-28 1z" fill="#abb718"/><path d="M792 931l31-43-21 13-31 42z" fill="#0c8081"/><path d="M1027 717l31-36-23 10-31 36z" fill="#17ab37"/><path d="M1266 545l31-29-23 6-31 29z" fill="#3cc825"/><path d="M1509 417l30-22-24 2-30 23z" fill="#8bdd14"/><path d="M1754 335l29-16-25-1-29 16z" fill="#dff21c"/><path d="M1999 299l29-9-26-5-29 9z" fill="#e5ed23"/><path d="M2243 309l28-2-26-9-28 2z" fill="#c4cf1c"/><path d="M739 987l32-44-22 14-31 44z" fill="#0d7584"/><path d="M973 764l31-37-22 10-31 37z" fill="#12a448"/><path d="M1212 582l31-31-24 7-31 31z" fill="#2ec42a"/><path d="M1454 444l31-24-25 3-30 25z" fill="#7fdd16"/><path d="M1699 351l30-17-25 0-30 17z" fill="#d0f11b"/><path d="M1944 305l29-11-26-4-29 11z" fill="#eaf423"/><path d="M2189 305l28-5-26-8-28 4z" fill="#d3dd1f"/><path d="M2432 351l27 2-27-12-27-2z" fill="#778d0f"/><path d="M687 1046l31-45-21 13-31 46z" fill="#0d6a88"/><path d="M919 813l32-39-22 11-31 39z" fill="#0e9d5c"/><path d="M1157 622l31-33-23 8-31 33z" fill="#27bf2f"/><path d="M1399 474l31-26-24 4-31 26z" fill="#72dc19"/><path d="M1644 370l30-19-25 1-30 19z" fill="#beef18"/><path d="M1889 313l29-12-25-4-29 13z" fill="#edf922"/><path d="M2134 302l29-6-26-7-29 6z" fill="#e0e822"/><path d="M2378 338l27 1-26-12-28 0z" fill="#96a613"/><path d="M635 1107l31-47-20 14-32 47z" fill="#0f5b86"/><path d="M866 865l32-41-22 12-31 40z" fill="#0d936f"/><path d="M1103 664l31-34-22 8-32 34z" fill="#21bb33"/><path d="M1344 505l31-27-24 5-30 27z" fill="#60d91d"/><path d="M1588 392l31-21-25 1-30 21z" fill="#a8ec15"/><path d="M1834 324l30-14-26-3-29 14z" fill="#eefd21"/><path d="M2080 302l28-7-26-7-28 8z" fill="#ebf324"/><path d="M2324 327l27 0-26-11-28 1z" fill="#b2bf18"/><path d="M813 919l32-43-22 12-31 43z" fill="#0d8a82"/><path d="M1049 708l31-36-22 9-31 36z" fill="#1ab638"/><path d="M1290 539l31-29-24 6-31 29z" fill="#48d424"/><path d="M1533 415l31-22-25 2-30 22z" fill="#97ea14"/><path d="M1779 337l30-16-26-2-29 16z" fill="#edff1f"/><path d="M2025 305l29-9-26-6-29 9z" fill="#f3fb25"/><path d="M2270 319l27-2-26-10-28 2z" fill="#cbd71d"/><path d="M760 975l32-44-21 12-32 44z" fill="#0d808a"/><path d="M995 754l32-37-23 10-31 37z" fill="#15b044"/><path d="M1235 576l31-31-23 6-31 31z" fill="#32cf2b"/><path d="M1478 441l31-24-24 3-31 24z" fill="#8be917"/><path d="M1724 352l30-17-25-1-30 17z" fill="#e1fe1d"/><path d="M1970 309l29-10-26-5-29 11z" fill="#f6ff25"/><path d="M2215 313l28-4-26-9-28 5z" fill="#e0ea21"/><path d="M2459 364l26 2-26-13-27-2z" fill="#78940f"/><path d="M708 1033l31-46-21 14-31 45z" fill="#0e748e"/><path d="M942 803l31-39-22 10-32 39z" fill="#10a859"/><path d="M1180 615l32-33-24 7-31 33z" fill="#2ccb2f"/><path d="M1423 470l31-26-24 4-31 26z" fill="#7de819"/><path d="M1668 370l31-19-25 0-30 19z" fill="#cefb1a"/><path d="M1915 317l29-12-26-4-29 12z" fill="#f4ff24"/><path d="M2405 350l27 1-27-12-27-1z" fill="#98ad13"/><path d="M2161 310l28-5-26-9-29 6z" fill="#ecf624"/><path d="M655 1093l32-47-21 14-31 47z" fill="#0f6690"/><path d="M888 854l31-41-21 11-32 41z" fill="#0e9f6d"/><path d="M1126 656l31-34-23 8-31 34z" fill="#25c735"/><path d="M1368 501l31-27-24 4-31 27z" fill="#6ee71c"/><path d="M1613 391l31-21-25 1-31 21z" fill="#b9f817"/><path d="M1860 327l29-14-25-3-30 14z" fill="#f1ff22"/><path d="M2106 309l28-7-26-7-28 7z" fill="#f6ff26"/><path d="M2351 339l27-1-27-11-27 0z" fill="#b8c618"/><path d="M603 1155l32-48-21 14-31 48z" fill="#11558b"/><path d="M835 907l31-42-21 11-32 43z" fill="#0e9582"/><path d="M1313 534l31-29-23 5-31 29z" fill="#55e123"/><path d="M1558 414l30-22-24 1-31 22z" fill="#a3f514"/><path d="M1072 699l31-35-23 8-31 36z" fill="#1ec239"/><path d="M1804 339l30-15-25-3-30 16z" fill="#eeff20"/><path d="M2051 311l29-9-26-6-29 9z" fill="#f7ff26"/><path d="M2296 330l28-3-27-10-27 2z" fill="#d2df1d"/><path d="M782 962l31-43-21 12-32 44z" fill="#0e8b90"/><path d="M1259 570l31-31-24 6-31 31z" fill="#3cdc2b"/><path d="M1503 439l30-24-24 2-31 24z" fill="#97f517"/><path d="M1996 315l29-10-26-6-29 10z" fill="#f6ff25"/><path d="M1018 745l31-37-22 9-32 37z" fill="#17bc3f"/><path d="M1749 354l30-17-25-2-30 17z" fill="#e6fe1d"/><path d="M2242 323l28-4-27-10-28 4z" fill="#ecf722"/><path d="M2486 378l26 2-27-14-26-2z" fill="#78990f"/><path d="M964 793l31-39-22 10-31 39z" fill="#13b455"/><path d="M1448 467l30-26-24 3-31 26z" fill="#89f41a"/><path d="M729 1020l31-45-21 12-31 46z" fill="#0f7f95"/><path d="M1204 608l31-32-23 6-32 33z" fill="#30d730"/><path d="M1694 371l30-19-25-1-31 19z" fill="#d5fc1b"/><path d="M1941 321l29-12-26-4-29 12z" fill="#f4ff24"/><path d="M2187 319l28-6-26-8-28 5z" fill="#f5ff24"/><path d="M2432 363l27 1-27-13-27-1z" fill="#99b313"/><path d="M910 843l32-40-23 10-31 41z" fill="#0fab6b"/><path d="M676 1079l32-46-21 13-32 47z" fill="#0f7399"/><path d="M1149 648l31-33-23 7-31 34z" fill="#29d235"/><path d="M1392 497l31-27-24 4-31 27z" fill="#7af21c"/><path d="M1638 391l30-21-24 0-31 21z" fill="#c1f918"/><path d="M1885 330l30-13-26-4-29 14z" fill="#f2ff23"/><path d="M2132 317l29-7-27-8-28 7z" fill="#f6ff25"/><path d="M2378 351l27-1-27-12-27 1z" fill="#bbce18"/><path d="M1583 413l30-22-25 1-30 22z" fill="#a9f615"/><path d="M624 1141l31-48-20 14-32 48z" fill="#116094"/><path d="M857 896l31-42-22 11-31 42z" fill="#0ea180"/><path d="M1095 691l31-35-23 8-31 35z" fill="#23cd3a"/><path d="M1337 530l31-29-24 4-31 29z" fill="#63ef22"/><path d="M1830 342l30-15-26-3-30 15z" fill="#efff21"/><path d="M2077 318l29-9-26-7-29 9z" fill="#f6ff26"/><path d="M2323 341l28-2-27-12-28 3z" fill="#d7e71d"/><path d="M572 1205l31-50-20 14-31 50z" fill="#124e8f"/><path d="M803 950l32-43-22 12-31 43z" fill="#0e9696"/><path d="M1040 736l32-37-23 9-31 37z" fill="#1bc73f"/><path d="M1282 565l31-31-23 5-31 31z" fill="#49e829"/><path d="M1527 437l31-23-25 1-30 24z" fill="#9cf616"/><path d="M1774 356l30-17-25-2-30 17z" fill="#ebff1e"/><path d="M2022 321l29-10-26-6-29 10z" fill="#f6ff25"/><path d="M2269 333l27-3-26-11-28 4z" fill="#f1ff22"/><path d="M2513 392l26 3-27-15-26-2z" fill="#789f0f"/><path d="M750 1007l32-45-22 13-31 45z" fill="#0f8a9b"/><path d="M986 784l32-39-23 9-31 39z" fill="#16c051"/><path d="M1227 602l32-32-24 6-31 32z" fill="#35e331"/><path d="M1472 464l31-25-25 2-30 26z" fill="#8ff719"/><path d="M1719 372l30-18-25-2-30 19z" fill="#dbfd1c"/><path d="M1967 327l29-12-26-6-29 12z" fill="#f5ff25"/><path d="M2214 328l28-5-27-10-28 6z" fill="#f4ff24"/><path d="M2459 376l27 2-27-14-27-1z" fill="#99b913"/><path d="M697 1066l32-46-21 13-32 46z" fill="#107e9f"/><path d="M932 833l32-40-22 10-32 40z" fill="#10b668"/><path d="M1172 642l32-34-24 7-31 33z" fill="#2edd36"/><path d="M1417 494l31-27-25 3-31 27z" fill="#82f91c"/><path d="M1911 335l30-14-26-4-30 13z" fill="#f3ff23"/><path d="M2404 363l28 0-27-13-27 1z" fill="#bcd418"/><path d="M1663 391l31-20-26-1-30 21z" fill="#c8fa19"/><path d="M2159 325l28-6-26-9-29 7z" fill="#f5ff25"/><path d="M645 1127l31-48-21 14-31 48z" fill="#116d9e"/><path d="M878 885l32-42-22 11-31 42z" fill="#0fac7f"/><path d="M1118 684l31-36-23 8-31 35z" fill="#26d83c"/><path d="M1608 412l30-21-25 0-30 22z" fill="#b2f716"/><path d="M1361 526l31-29-24 4-31 29z" fill="#70f921"/><path d="M1856 345l29-15-25-3-30 15z" fill="#f0ff21"/><path d="M2104 325l28-8-26-8-29 9z" fill="#f6ff25"/><path d="M2350 352l28-1-27-12-28 2z" fill="#dcee1d"/><path d="M592 1191l32-50-21 14-31 50z" fill="#135998"/><path d="M1063 728l32-37-23 8-32 37z" fill="#1fd340"/><path d="M1552 436l31-23-25 1-31 23z" fill="#a0f615"/><path d="M2048 328l29-10-26-7-29 10z" fill="#f6ff25"/><path d="M2540 407l26 3-27-15-26-3z" fill="#76a40f"/><path d="M825 939l32-43-22 11-32 43z" fill="#0fa295"/><path d="M1306 560l31-30-24 4-31 31z" fill="#56f529"/><path d="M1800 358l30-16-26-3-30 17z" fill="#ecff1f"/><path d="M2295 344l28-3-27-11-27 3z" fill="#f0ff21"/><path d="M540 1256l32-51-20 14-32 52z" fill="#154693"/><path d="M772 995l31-45-21 12-32 45z" fill="#0f96a0"/><path d="M1009 775l31-39-22 9-32 39z" fill="#18cc4c"/><path d="M1251 596l31-31-23 5-32 32z" fill="#3aef31"/><path d="M1497 462l30-25-24 2-31 25z" fill="#94f718"/><path d="M1744 374l30-18-25-2-30 18z" fill="#e0fd1c"/><path d="M1993 332l29-11-26-6-29 12z" fill="#f5ff25"/><path d="M2240 338l29-5-27-10-28 5z" fill="#f3ff23"/><path d="M2486 391l27 1-27-14-27-2z" fill="#98bf13"/><path d="M719 1054l31-47-21 13-32 46z" fill="#1088a5"/><path d="M1196 635l31-33-23 6-32 34z" fill="#33e936"/><path d="M955 824l31-40-22 9-32 40z" fill="#13c264"/><path d="M1441 491l31-27-24 3-31 27z" fill="#87f81b"/><path d="M1689 392l30-20-25-1-31 20z" fill="#cefb1a"/><path d="M1937 340l30-13-26-6-30 14z" fill="#f3ff24"/><path d="M2185 334l29-6-27-9-28 6z" fill="#f4ff24"/><path d="M2431 376l28 0-27-13-28 0z" fill="#bcda18"/><path d="M666 1114l31-48-21 13-31 48z" fill="#127aa7"/><path d="M901 875l31-42-22 10-32 42z" fill="#10b87c"/><path d="M1141 677l31-35-23 6-31 36z" fill="#2be43c"/><path d="M1385 522l32-28-25 3-31 29z" fill="#78fa1e"/><path d="M1633 413l30-22-25 0-30 21z" fill="#b9f817"/><path d="M1881 349l30-14-26-5-29 15z" fill="#f1ff22"/><path d="M2130 333l29-8-27-8-28 8z" fill="#f5ff25"/><path d="M2377 365l27-2-26-12-28 1z" fill="#e1f51d"/><path d="M613 1177l32-50-21 14-32 50z" fill="#1365a2"/><path d="M847 928l31-43-21 11-32 43z" fill="#10ad93"/><path d="M1086 720l32-36-23 7-32 37z" fill="#23de42"/><path d="M1330 556l31-30-24 4-31 30z" fill="#60f826"/><path d="M1577 436l31-24-25 1-31 23z" fill="#a3f514"/><path d="M1826 362l30-17-26-3-30 16z" fill="#edff20"/><path d="M2075 335l29-10-27-7-29 10z" fill="#f6ff25"/><path d="M2322 355l28-3-27-11-28 3z" fill="#eeff20"/><path d="M2567 423l27 3-28-16-26-3z" fill="#73a90e"/><path d="M561 1242l31-51-20 14-32 51z" fill="#15519c"/><path d="M793 984l32-45-22 11-31 45z" fill="#0fa1a6"/><path d="M1032 766l31-38-23 8-31 39z" fill="#1bd847"/><path d="M1275 591l31-31-24 5-31 31z" fill="#45f62f"/><path d="M1521 461l31-25-25 1-30 25z" fill="#98f617"/><path d="M1770 376l30-18-26-2-30 18z" fill="#e5fe1d"/><path d="M2019 339l29-11-26-7-29 11z" fill="#f5ff25"/><path d="M2267 349l28-5-26-11-29 5z" fill="#f1ff22"/><path d="M2513 405l27 2-27-15-27-1z" fill="#95c312"/><path d="M509 1308l31-52-20 15-31 52z" fill="#123893"/><path d="M740 1042l32-47-22 12-31 47z" fill="#1194ab"/><path d="M977 815l32-40-23 9-31 40z" fill="#16ce60"/><path d="M1219 630l32-34-24 6-31 33z" fill="#37f537"/><path d="M1466 489l31-27-25 2-31 27z" fill="#8bf81a"/><path d="M1714 394l30-20-25-2-30 20z" fill="#d4fc1b"/><path d="M1963 345l30-13-26-5-30 13z" fill="#f4ff24"/><path d="M2212 344l28-6-26-10-29 6z" fill="#f3ff24"/><path d="M2459 390l27 1-27-15-28 0z" fill="#badf17"/><path d="M687 1102l32-48-22 12-31 48z" fill="#1286b0"/><path d="M923 865l32-41-23 9-31 42z" fill="#11c479"/><path d="M1164 670l32-35-24 7-31 35z" fill="#2ff03d"/><path d="M1410 519l31-28-24 3-32 28z" fill="#7df91d"/><path d="M1658 413l31-21-26-1-30 22z" fill="#c0f918"/><path d="M1907 354l30-14-26-5-30 14z" fill="#f1ff22"/><path d="M2404 378l27-2-27-13-27 2z" fill="#e0fb1d"/><path d="M2157 342l28-8-26-9-29 8z" fill="#f5ff24"/><path d="M634 1164l32-50-21 13-32 50z" fill="#1372ac"/><path d="M869 918l32-43-23 10-31 43z" fill="#11b991"/><path d="M1109 713l32-36-23 7-32 36z" fill="#27ea42"/><path d="M1354 552l31-30-24 4-31 30z" fill="#68f923"/><path d="M1602 436l31-23-25-1-31 24z" fill="#a9f615"/><path d="M1852 366l29-17-25-4-30 17z" fill="#eeff20"/><path d="M2101 343l29-10-26-8-29 10z" fill="#f5ff25"/><path d="M2594 439l27 4-27-17-27-3z" fill="#73ae0f"/><path d="M2349 368l28-3-27-13-28 3z" fill="#ecff1f"/><path d="M581 1228l32-51-21 14-31 51z" fill="#155ca6"/><path d="M815 973l32-45-22 11-32 45z" fill="#10ada9"/><path d="M1055 759l31-39-23 8-31 38z" fill="#1fe348"/><path d="M1546 460l31-24-25 0-31 25z" fill="#9cf616"/><path d="M2045 346l30-11-27-7-29 11z" fill="#f5ff25"/><path d="M1299 587l31-31-24 4-31 31z" fill="#4ef62c"/><path d="M1796 380l30-18-26-4-30 18z" fill="#e9ff1e"/><path d="M2294 360l28-5-27-11-28 5z" fill="#f0ff21"/><path d="M2540 421l27 2-27-16-27-2z" fill="#91c912"/><path d="M529 1294l32-52-21 14-31 52z" fill="#15459f"/><path d="M761 1030l32-46-21 11-32 47z" fill="#119fb1"/><path d="M1000 806l32-40-23 9-32 40z" fill="#19db5b"/><path d="M1243 625l32-34-24 5-32 34z" fill="#3af534"/><path d="M1490 487l31-26-24 1-31 27z" fill="#8ff719"/><path d="M1990 352l29-13-26-7-30 13z" fill="#f4ff24"/><path d="M1740 396l30-20-26-2-30 20z" fill="#d9fc1b"/><path d="M2239 355l28-6-27-11-28 6z" fill="#f2ff23"/><path d="M2486 405l27 0-27-14-27-1z" fill="#b7e417"/><path d="M477 1362l32-54-20 15-32 54z" fill="#0e2891"/><path d="M708 1090l32-48-21 12-32 48z" fill="#1291b6"/><path d="M1188 664l31-34-23 5-32 35z" fill="#33f43b"/><path d="M1683 415l31-21-25-2-31 21z" fill="#c6fa19"/><path d="M945 856l32-41-22 9-32 41z" fill="#14d175"/><path d="M1434 517l32-28-25 2-31 28z" fill="#82f91c"/><path d="M1934 360l29-15-26-5-30 14z" fill="#f2ff22"/><path d="M2431 391l28-1-28-14-27 2z" fill="#dafd1c"/><path d="M2183 352l29-8-27-10-28 8z" fill="#f4ff24"/><path d="M655 1151l32-49-21 12-32 50z" fill="#147fb6"/><path d="M1133 707l31-37-23 7-32 36z" fill="#2cf342"/><path d="M1627 436l31-23-25 0-31 23z" fill="#b0f716"/><path d="M891 908l32-43-22 10-32 43z" fill="#11c58f"/><path d="M1379 549l31-30-25 3-31 30z" fill="#70f921"/><path d="M1878 370l29-16-26-5-29 17z" fill="#efff21"/><path d="M2128 352l29-10-27-9-29 10z" fill="#f4ff24"/><path d="M2376 380l28-2-27-13-28 3z" fill="#e9ff1e"/><path d="M2622 456l26 4-27-17-27-4z" fill="#72b510"/><path d="M602 1215l32-51-21 13-32 51z" fill="#1568b0"/><path d="M837 963l32-45-22 10-32 45z" fill="#11b9a7"/><path d="M1078 751l31-38-23 7-31 39z" fill="#23ef49"/><path d="M1323 583l31-31-24 4-31 31z" fill="#57f729"/><path d="M1571 460l31-24-25 0-31 24z" fill="#9ff615"/><path d="M2072 354l29-11-26-8-30 11z" fill="#f4ff24"/><path d="M2568 437l26 2-27-16-27-2z" fill="#8dcd12"/><path d="M1821 383l31-17-26-4-30 18z" fill="#ebff1e"/><path d="M2321 372l28-4-27-13-28 5z" fill="#eeff20"/><path d="M783 1019l32-46-22 11-32 46z" fill="#11acb6"/><path d="M550 1280l31-52-20 14-32 52z" fill="#1752aa"/><path d="M1023 798l32-39-23 7-32 40z" fill="#1ce855"/><path d="M1515 486l31-26-25 1-31 26z" fill="#93f718"/><path d="M1267 620l32-33-24 4-32 34z" fill="#3cf532"/><path d="M1765 399l31-19-26-4-30 20z" fill="#ddfd1c"/><path d="M2016 358l29-12-26-7-29 13z" fill="#f4ff24"/><path d="M2266 366l28-6-27-11-28 6z" fill="#f1ff22"/><path d="M2513 420l27 1-27-16-27 0z" fill="#b2e916"/><path d="M498 1348l31-54-20 14-32 54z" fill="#11359d"/><path d="M968 847l32-41-23 9-32 41z" fill="#16dc71"/><path d="M1459 515l31-28-24 2-32 28z" fill="#86f81b"/><path d="M1709 417l31-21-26-2-31 21z" fill="#cbfa19"/><path d="M730 1078l31-48-21 12-32 48z" fill="#129cbc"/><path d="M1212 659l31-34-24 5-31 34z" fill="#35f439"/><path d="M1960 366l30-14-27-7-29 15z" fill="#f2ff23"/><path d="M2210 362l29-7-27-11-29 8z" fill="#f2ff23"/><path d="M2458 406l28-1-27-15-28 1z" fill="#d1fb1a"/><path d="M676 1139l32-49-21 12-32 49z" fill="#148cc0"/><path d="M913 899l32-43-22 9-32 43z" fill="#12d18c"/><path d="M1156 701l32-37-24 6-31 37z" fill="#2ef440"/><path d="M1403 546l31-29-24 2-31 30z" fill="#78fa1e"/><path d="M1653 437l30-22-25-2-31 23z" fill="#b6f716"/><path d="M1904 375l30-15-27-6-29 16z" fill="#efff21"/><path d="M2154 361l29-9-26-10-29 10z" fill="#f4ff24"/><path d="M2404 394l27-3-27-13-28 2z" fill="#e1fe1d"/><path d="M623 1202l32-51-21 13-32 51z" fill="#1675b9"/><path d="M1101 745l32-38-24 6-31 38z" fill="#26f348"/><path d="M859 953l32-45-22 10-32 45z" fill="#12c4a6"/><path d="M1347 580l32-31-25 3-31 31z" fill="#5ff826"/><path d="M1596 460l31-24-25 0-31 24z" fill="#a2f515"/><path d="M1847 388l31-18-26-4-31 17z" fill="#ecff1f"/><path d="M2099 362l29-10-27-9-29 11z" fill="#f4ff24"/><path d="M2348 384l28-4-27-12-28 4z" fill="#ecff1f"/><path d="M2595 454l27 2-28-17-26-2z" fill="#8bd212"/><path d="M570 1267l32-52-21 13-31 52z" fill="#185db3"/><path d="M805 1009l32-46-22 10-32 46z" fill="#11b8bc"/><path d="M1046 791l32-40-23 8-32 39z" fill="#1ef250"/><path d="M1291 616l32-33-24 4-32 33z" fill="#44f62f"/><path d="M1540 486l31-26-25 0-31 26z" fill="#97f717"/><path d="M1791 402l30-19-25-3-31 19z" fill="#e1fe1d"/><path d="M2042 366l30-12-27-8-29 12z" fill="#f3ff24"/><path d="M2541 436l27 1-28-16-27-1z" fill="#aded15"/><path d="M2293 377l28-5-27-12-28 6z" fill="#efff21"/><path d="M518 1334l32-54-21 14-31 54z" fill="#1542a9"/><path d="M751 1067l32-48-22 11-31 48z" fill="#12a8c2"/><path d="M991 839l32-41-23 8-32 41z" fill="#19e96b"/><path d="M1235 654l32-34-24 5-31 34z" fill="#37f537"/><path d="M1484 514l31-28-25 1-31 28z" fill="#8af81a"/><path d="M1735 420l30-21-25-3-31 21z" fill="#d0fb1a"/><path d="M1986 372l30-14-26-6-30 14z" fill="#f2ff23"/><path d="M2237 373l29-7-27-11-29 7z" fill="#f1ff22"/><path d="M2486 421l27-1-27-15-28 1z" fill="#c8fa19"/><path d="M698 1127l32-49-22 12-32 49z" fill="#1499c7"/><path d="M936 890l32-43-23 9-32 43z" fill="#13de88"/><path d="M1180 695l32-36-24 5-32 37z" fill="#30f43e"/><path d="M1428 544l31-29-25 2-31 29z" fill="#7cfa1d"/><path d="M1678 439l31-22-26-2-30 22z" fill="#bcf817"/><path d="M1930 381l30-15-26-6-30 15z" fill="#f0ff21"/><path d="M2181 371l29-9-27-10-29 9z" fill="#f2ff23"/><path d="M2431 408l27-2-27-15-27 3z" fill="#d9fc1b"/><path d="M644 1190l32-51-21 12-32 51z" fill="#1682c3"/><path d="M1124 738l32-37-23 6-32 38z" fill="#29f345"/><path d="M1622 462l31-25-26-1-31 24z" fill="#a5f514"/><path d="M2125 371l29-10-26-9-29 10z" fill="#f3ff23"/><path d="M881 943l32-44-22 9-32 45z" fill="#13d1a3"/><path d="M1372 577l31-31-24 3-32 31z" fill="#67f924"/><path d="M1874 393l30-18-26-5-31 18z" fill="#edff1f"/><path d="M2376 398l28-4-28-14-28 4z" fill="#e7fe1d"/><path d="M591 1254l32-52-21 13-32 52z" fill="#1869bd"/><path d="M827 999l32-46-22 10-32 46z" fill="#12c4be"/><path d="M1069 784l32-39-23 6-32 40z" fill="#21f24d"/><path d="M1315 613l32-33-24 3-32 33z" fill="#4df62c"/><path d="M1565 486l31-26-25 0-31 26z" fill="#9af616"/><path d="M1817 407l30-19-26-5-30 19z" fill="#e4fe1d"/><path d="M2069 374l30-12-27-8-30 12z" fill="#f3ff23"/><path d="M2320 390l28-6-27-12-28 5z" fill="#edff1f"/><path d="M2568 453l27 1-27-17-27-1z" fill="#a6f115"/><path d="M773 1056l32-47-22 10-32 48z" fill="#13b5c7"/><path d="M1259 650l32-34-24 4-32 34z" fill="#39f535"/><path d="M1760 423l31-21-26-3-30 21z" fill="#d4fc1b"/><path d="M538 1321l32-54-20 13-32 54z" fill="#1950b5"/><path d="M1014 832l32-41-23 7-32 41z" fill="#1bef63"/><path d="M1509 513l31-27-25 0-31 28z" fill="#8ef819"/><path d="M2013 380l29-14-26-8-30 14z" fill="#f2ff22"/><path d="M2513 437l28-1-28-16-27 1z" fill="#bdf817"/><path d="M2264 384l29-7-27-11-29 7z" fill="#f0ff21"/><path d="M719 1116l32-49-21 11-32 49z" fill="#15a4cd"/><path d="M959 882l32-43-23 8-32 43z" fill="#16ea83"/><path d="M1452 543l32-29-25 1-31 29z" fill="#80f91c"/><path d="M1704 442l31-22-26-3-31 22z" fill="#c1f918"/><path d="M2208 381l29-8-27-11-29 9z" fill="#f1ff22"/><path d="M1204 690l31-36-23 5-32 36z" fill="#33f43b"/><path d="M1956 388l30-16-26-6-30 15z" fill="#f0ff21"/><path d="M2458 423l28-2-28-15-27 2z" fill="#d0fb1a"/><path d="M666 1178l32-51-22 12-32 51z" fill="#168fce"/><path d="M904 934l32-44-23 9-32 44z" fill="#14dea0"/><path d="M1148 733l32-38-24 6-32 37z" fill="#2bf343"/><path d="M1396 575l32-31-25 2-31 31z" fill="#6ef921"/><path d="M1647 463l31-24-25-2-31 25z" fill="#abf615"/><path d="M2152 381l29-10-27-10-29 10z" fill="#f2ff23"/><path d="M1900 398l30-17-26-6-30 18z" fill="#edff1f"/><path d="M2403 412l28-4-27-14-28 4z" fill="#dffd1c"/><path d="M612 1242l32-52-21 12-32 52z" fill="#1876c7"/><path d="M1092 778l32-40-23 7-32 39z" fill="#24f34a"/><path d="M849 989l32-46-22 10-32 46z" fill="#13d0bc"/><path d="M1340 610l32-33-25 3-32 33z" fill="#55f72a"/><path d="M1591 487l31-25-26-2-31 26z" fill="#9df616"/><path d="M1843 411l31-18-27-5-30 19z" fill="#e6fe1d"/><path d="M2096 383l29-12-26-9-30 12z" fill="#f2ff23"/><path d="M2347 403l29-5-28-14-28 6z" fill="#ebff1e"/><path d="M559 1308l32-54-21 13-32 54z" fill="#1a5ec1"/><path d="M1037 825l32-41-23 7-32 41z" fill="#1df159"/><path d="M1786 427l31-20-26-5-31 21z" fill="#d7fc1b"/><path d="M795 1046l32-47-22 10-32 47z" fill="#13c1cd"/><path d="M1284 647l31-34-24 3-32 34z" fill="#3bf533"/><path d="M1534 514l31-28-25 0-31 27z" fill="#91f718"/><path d="M2039 388l30-14-27-8-29 14z" fill="#f1ff22"/><path d="M2292 397l28-7-27-13-29 7z" fill="#eeff20"/><path d="M2541 453l27 0-27-17-28 1z" fill="#b3f716"/><path d="M741 1105l32-49-22 11-32 49z" fill="#15b0d4"/><path d="M982 874l32-42-23 7-32 43z" fill="#17eb78"/><path d="M1228 686l31-36-24 4-31 36z" fill="#35f439"/><path d="M1477 542l32-29-25 1-32 29z" fill="#84f91b"/><path d="M1730 445l30-22-25-3-31 22z" fill="#c5fa19"/><path d="M1983 395l30-15-27-8-30 16z" fill="#f0ff21"/><path d="M2235 393l29-9-27-11-29 8z" fill="#f0ff21"/><path d="M2486 439l27-2-27-16-28 2z" fill="#c6fa19"/><path d="M687 1166l32-50-21 11-32 51z" fill="#169ed8"/><path d="M927 926l32-44-23 8-32 44z" fill="#14e599"/><path d="M1172 728l32-38-24 5-32 38z" fill="#2ef440"/><path d="M1421 574l31-31-24 1-32 31z" fill="#75fa1f"/><path d="M1673 466l31-24-26-3-31 24z" fill="#b0f716"/><path d="M1926 405l30-17-26-7-30 17z" fill="#edff1f"/><path d="M2179 391l29-10-27-10-29 10z" fill="#f1ff22"/><path d="M2430 426l28-3-27-15-28 4z" fill="#d6fc1b"/><path d="M633 1230l33-52-22 12-32 52z" fill="#1884d1"/><path d="M872 980l32-46-23 9-32 46z" fill="#14dcba"/><path d="M1116 772l32-39-24 5-32 40z" fill="#26f348"/><path d="M1364 607l32-32-24 2-32 33z" fill="#5cf827"/><path d="M1616 489l31-26-25-1-31 25z" fill="#a0f615"/><path d="M1869 417l31-19-26-5-31 18z" fill="#e8ff1e"/><path d="M2123 393l29-12-27-10-29 12z" fill="#f1ff22"/><path d="M2375 417l28-5-27-14-29 5z" fill="#e3fe1d"/><path d="M580 1295l32-53-21 12-32 54z" fill="#1b6aca"/><path d="M817 1036l32-47-22 10-32 47z" fill="#13ced3"/><path d="M1060 818l32-40-23 6-32 41z" fill="#1ef250"/><path d="M1308 644l32-34-25 3-31 34z" fill="#42f530"/><path d="M1559 514l32-27-26-1-31 28z" fill="#94f718"/><path d="M1813 431l30-20-26-4-31 20z" fill="#d9fc1b"/><path d="M2066 396l30-13-27-9-30 14z" fill="#f1ff22"/><path d="M2319 409l28-6-27-13-28 7z" fill="#ecff1f"/><path d="M763 1095l32-49-22 10-32 49z" fill="#15bcd9"/><path d="M1005 867l32-42-23 7-32 42z" fill="#19ed6e"/><path d="M1252 682l32-35-25 3-31 36z" fill="#37f437"/><path d="M1503 542l31-28-25-1-32 29z" fill="#88f81a"/><path d="M1756 449l30-22-26-4-30 22z" fill="#c8fa19"/><path d="M2263 405l29-8-28-13-29 9z" fill="#eeff20"/><path d="M2010 403l29-15-26-8-30 15z" fill="#efff21"/><path d="M2514 455l27-2-28-16-27 2z" fill="#bbf817"/><path d="M709 1156l32-51-22 11-32 50z" fill="#17abdf"/><path d="M1196 723l32-37-24 4-32 38z" fill="#30f43e"/><path d="M1699 468l31-23-26-3-31 24z" fill="#b5f716"/><path d="M949 918l33-44-23 8-32 44z" fill="#14e78f"/><path d="M1446 573l31-31-25 1-31 31z" fill="#7afa1e"/><path d="M1953 412l30-17-27-7-30 17z" fill="#edff1f"/><path d="M2206 403l29-10-27-12-29 10z" fill="#efff21"/><path d="M2458 442l28-3-28-16-28 3z" fill="#ccfb1a"/><path d="M655 1218l32-52-21 12-33 52z" fill="#1992db"/><path d="M894 972l33-46-23 8-32 46z" fill="#14e0b0"/><path d="M1389 606l32-32-25 1-32 32z" fill="#63f825"/><path d="M1140 767l32-39-24 5-32 39z" fill="#28f346"/><path d="M1642 491l31-25-26-3-31 26z" fill="#a2f515"/><path d="M2150 403l29-12-27-10-29 12z" fill="#f0ff21"/><path d="M1896 423l30-18-26-7-31 19z" fill="#e8ff1e"/><path d="M2402 431l28-5-27-14-28 5z" fill="#dbfd1c"/><path d="M839 1027l33-47-23 9-32 47z" fill="#14d8d3"/><path d="M1333 641l31-34-24 3-32 34z" fill="#49f62e"/><path d="M1839 437l30-20-26-6-30 20z" fill="#dbfd1c"/><path d="M601 1283l32-53-21 12-32 53z" fill="#1b77d4"/><path d="M1084 812l32-40-24 6-32 40z" fill="#21f24d"/><path d="M1585 516l31-27-25-2-32 27z" fill="#97f717"/><path d="M2093 406l30-13-27-10-30 13z" fill="#f0ff21"/><path d="M2346 423l29-6-28-14-28 6z" fill="#e6fe1d"/><path d="M785 1085l32-49-22 10-32 49z" fill="#16c8df"/><path d="M1028 861l32-43-23 7-32 42z" fill="#1bef64"/><path d="M1782 453l31-22-27-4-30 22z" fill="#cbfa19"/><path d="M2290 417l29-8-27-12-29 8z" fill="#ecff1f"/><path d="M1276 679l32-35-24 3-32 35z" fill="#39f535"/><path d="M1528 543l31-29-25 0-31 28z" fill="#8bf81a"/><path d="M2036 411l30-15-27-8-29 15z" fill="#efff21"/><path d="M730 1145l33-50-22 10-32 51z" fill="#17b7e5"/><path d="M972 911l33-44-23 7-33 44z" fill="#15e984"/><path d="M1220 719l32-37-24 4-32 37z" fill="#32f43c"/><path d="M1725 472l31-23-26-4-31 23z" fill="#b9f817"/><path d="M2234 414l29-9-28-12-29 10z" fill="#eeff20"/><path d="M1471 573l32-31-26 0-31 31z" fill="#7ef91d"/><path d="M1979 419l31-16-27-8-30 17z" fill="#edff1f"/><path d="M2486 458l28-3-28-16-28 3z" fill="#c2f918"/><path d="M676 1207l33-51-22 10-32 52z" fill="#19a0e6"/><path d="M1163 762l33-39-24 5-32 39z" fill="#2bf343"/><path d="M917 964l32-46-22 8-33 46z" fill="#14e2a5"/><path d="M1414 605l32-32-25 1-32 32z" fill="#6af923"/><path d="M1668 493l31-25-26-2-31 25z" fill="#a4f514"/><path d="M1922 430l31-18-27-7-30 18z" fill="#e9ff1e"/><path d="M2177 414l29-11-27-12-29 12z" fill="#efff20"/><path d="M2430 446l28-4-28-16-28 5z" fill="#d1fb1a"/><path d="M623 1272l32-54-22 12-32 53z" fill="#1b84df"/><path d="M862 1019l32-47-22 8-33 47z" fill="#14dbc7"/><path d="M1107 807l33-40-24 5-32 40z" fill="#23f34b"/><path d="M1357 639l32-33-25 1-31 34z" fill="#51f72b"/><path d="M1610 517l32-26-26-2-31 27z" fill="#9af617"/><path d="M1865 443l31-20-27-6-30 20z" fill="#dcfd1c"/><path d="M2120 416l30-13-27-10-30 13z" fill="#efff21"/><path d="M2374 437l28-6-27-14-29 6z" fill="#defd1c"/><path d="M807 1076l32-49-22 9-32 49z" fill="#15d0de"/><path d="M1051 855l33-43-24 6-32 43z" fill="#1cf05b"/><path d="M1301 677l32-36-25 3-32 35z" fill="#3af534"/><path d="M1553 544l32-28-26-2-31 29z" fill="#8ef819"/><path d="M1808 458l31-21-26-6-31 22z" fill="#cdfb1a"/><path d="M2063 420l30-14-27-10-30 15z" fill="#eeff20"/><path d="M2318 431l28-8-27-14-29 8z" fill="#e8ff1e"/><path d="M752 1135l33-50-22 10-33 50z" fill="#17c3eb"/><path d="M996 904l32-43-23 6-33 44z" fill="#17eb7b"/><path d="M1244 716l32-37-24 3-32 37z" fill="#34f43a"/><path d="M1496 573l32-30-25-1-32 31z" fill="#81f91c"/><path d="M1751 476l31-23-26-4-31 23z" fill="#bcf817"/><path d="M2006 427l30-16-26-8-31 16z" fill="#ecff1f"/><path d="M2261 427l29-10-27-12-29 9z" fill="#ecff1f"/><path d="M698 1197l32-52-21 11-33 51z" fill="#19aff0"/><path d="M940 956l32-45-23 7-32 46z" fill="#14e59b"/><path d="M1187 758l33-39-24 4-33 39z" fill="#2df341"/><path d="M1439 604l32-31-25 0-32 32z" fill="#70f921"/><path d="M1694 497l31-25-26-4-31 25z" fill="#a7f514"/><path d="M2204 425l30-11-28-11-29 11z" fill="#edff1f"/><path d="M1949 437l30-18-26-7-31 18z" fill="#e8ff1e"/><path d="M2458 462l28-4-28-16-28 4z" fill="#c7fa19"/><path d="M644 1261l32-54-21 11-32 54z" fill="#1b92e9"/><path d="M885 1011l32-47-23 8-32 47z" fill="#14ddbd"/><path d="M1131 802l32-40-23 5-33 40z" fill="#25f349"/><path d="M1382 638l32-33-25 1-32 33z" fill="#57f729"/><path d="M1636 520l32-27-26-2-32 26z" fill="#9cf616"/><path d="M1892 449l30-19-26-7-31 20z" fill="#ddfd1c"/><path d="M2148 427l29-13-27-11-30 13z" fill="#eeff20"/><path d="M2402 452l28-6-28-15-28 6z" fill="#d5fc1b"/><path d="M830 1067l32-48-23 8-32 49z" fill="#14d4da"/><path d="M1325 675l32-36-24 2-32 36z" fill="#3df532"/><path d="M1835 464l30-21-26-6-31 21z" fill="#cffb1a"/><path d="M1075 849l32-42-23 5-33 43z" fill="#1ef252"/><path d="M1579 546l31-29-25-1-32 28z" fill="#91f719"/><path d="M2090 430l30-14-27-10-30 14z" fill="#edff1f"/><path d="M2345 445l29-8-28-14-28 8z" fill="#e0fd1c"/><path d="M775 1126l32-50-22 9-33 50z" fill="#17c8e8"/><path d="M1268 713l33-36-25 2-32 37z" fill="#36f438"/><path d="M1777 481l31-23-26-5-31 23z" fill="#bef918"/><path d="M1019 898l32-43-23 6-32 43z" fill="#18ec71"/><path d="M1522 574l31-30-25-1-32 30z" fill="#84f91b"/><path d="M2033 436l30-16-27-9-30 16z" fill="#ecff1f"/><path d="M2289 440l29-9-28-14-29 10z" fill="#e8ff1e"/><path d="M963 950l33-46-24 7-32 45z" fill="#14e791"/><path d="M720 1187l32-52-22 10-32 52z" fill="#19bbf6"/><path d="M1212 755l32-39-24 3-33 39z" fill="#2ff43f"/><path d="M1464 604l32-31-25 0-32 31z" fill="#75fa1f"/><path d="M1720 501l31-25-26-4-31 25z" fill="#abf615"/><path d="M2232 438l29-11-27-13-30 11z" fill="#ecff1e"/><path d="M1976 445l30-18-27-8-30 18z" fill="#e7fe1d"/><path d="M907 1003l33-47-23 8-32 47z" fill="#14dfb2"/><path d="M666 1250l32-53-22 10-32 54z" fill="#1ba1f3"/><path d="M1155 798l32-40-24 4-32 40z" fill="#27f347"/><path d="M1407 638l32-34-25 1-32 33z" fill="#5ef827"/><path d="M1662 523l32-26-26-4-32 27z" fill="#9ef616"/><path d="M1919 456l30-19-27-7-30 19z" fill="#ddfd1c"/><path d="M2175 438l29-13-27-11-29 13z" fill="#ecff1f"/><path d="M2429 468l29-6-28-16-28 6z" fill="#cbfa19"/><path d="M852 1059l33-48-23 8-32 48z" fill="#14d7d5"/><path d="M1099 844l32-42-24 5-32 42z" fill="#20f24e"/><path d="M1861 470l31-21-27-6-30 21z" fill="#d0fb1a"/><path d="M2373 460l29-8-28-15-29 8z" fill="#d7fc1b"/><path d="M1350 673l32-35-25 1-32 36z" fill="#44f62f"/><path d="M1605 548l31-28-26-3-31 29z" fill="#93f718"/><path d="M2118 441l30-14-28-11-30 14z" fill="#ecff1f"/><path d="M797 1117l33-50-23 9-32 50z" fill="#16cce3"/><path d="M1293 711l32-36-24 2-33 36z" fill="#37f537"/><path d="M1042 893l33-44-24 6-32 43z" fill="#1aee68"/><path d="M1547 575l32-29-26-2-31 30z" fill="#87f81b"/><path d="M1804 487l31-23-27-6-31 23z" fill="#c0f918"/><path d="M2060 446l30-16-27-10-30 16z" fill="#ebff1e"/><path d="M2316 454l29-9-27-14-29 9z" fill="#e0fd1c"/><path d="M742 1178l33-52-23 9-32 52z" fill="#18bff1"/><path d="M1236 752l32-39-24 3-32 39z" fill="#31f43d"/><path d="M986 943l33-45-23 6-33 46z" fill="#15e988"/><path d="M1490 605l32-31-26-1-32 31z" fill="#7afa1e"/><path d="M1746 506l31-25-26-5-31 25z" fill="#adf615"/><path d="M2003 454l30-18-27-9-30 18z" fill="#e5fe1d"/><path d="M2259 451l30-11-28-13-29 11z" fill="#e6fe1d"/><path d="M687 1240l33-53-22 10-32 53z" fill="#1bacf8"/><path d="M931 996l32-46-23 6-33 47z" fill="#14e2a8"/><path d="M1179 795l33-40-25 3-32 40z" fill="#2af344"/><path d="M1432 638l32-34-25 0-32 34z" fill="#63f825"/><path d="M1688 527l32-26-26-4-32 26z" fill="#9ff615"/><path d="M1945 464l31-19-27-8-30 19z" fill="#dcfd1c"/><path d="M2202 450l30-12-28-13-29 13z" fill="#e9ff1e"/><path d="M875 1052l32-49-22 8-33 48z" fill="#14dacb"/><path d="M1123 840l32-42-24 4-32 42z" fill="#22f24c"/><path d="M1375 672l32-34-25 0-32 35z" fill="#4af62d"/><path d="M1631 551l31-28-26-3-31 28z" fill="#95f718"/><path d="M1888 477l31-21-27-7-31 21z" fill="#d0fb1a"/><path d="M2145 452l30-14-27-11-30 14z" fill="#eaff1e"/><path d="M2401 475l28-7-27-16-29 8z" fill="#cefb1a"/><path d="M819 1109l33-50-22 8-33 50z" fill="#15cfdf"/><path d="M1066 888l33-44-24 5-33 44z" fill="#1bef5f"/><path d="M1318 710l32-37-25 2-32 36z" fill="#39f535"/><path d="M1573 578l32-30-26-2-32 29z" fill="#89f81a"/><path d="M1830 493l31-23-26-6-31 23z" fill="#c1f918"/><path d="M2344 468l29-8-28-15-29 9z" fill="#d8fc1b"/><path d="M2088 456l30-15-28-11-30 16z" fill="#e7fe1d"/><path d="M764 1169l33-52-22 9-33 52z" fill="#17c3ed"/><path d="M1010 938l32-45-23 5-33 45z" fill="#16ea7e"/><path d="M1261 749l32-38-25 2-32 39z" fill="#33f43b"/><path d="M1515 607l32-32-25-1-32 31z" fill="#7df91d"/><path d="M1772 511l32-24-27-6-31 25z" fill="#aff615"/><path d="M2030 463l30-17-27-10-30 18z" fill="#e2fe1d"/><path d="M2287 464l29-10-27-14-30 11z" fill="#dffd1c"/><path d="M709 1231l33-53-22 9-33 53z" fill="#1ab3f8"/><path d="M954 990l32-47-23 7-32 46z" fill="#14e49f"/><path d="M1204 792l32-40-24 3-33 40z" fill="#2bf343"/><path d="M1458 638l32-33-26-1-32 34z" fill="#69f923"/><path d="M1715 532l31-26-26-5-32 26z" fill="#a1f515"/><path d="M1972 473l31-19-27-9-31 19z" fill="#dafd1c"/><path d="M2230 463l29-12-27-13-30 12z" fill="#e3fe1d"/><path d="M898 1045l33-49-24 7-32 49z" fill="#14dcc0"/><path d="M1915 485l30-21-26-8-31 21z" fill="#cffb1a"/><path d="M1147 836l32-41-24 3-32 42z" fill="#24f34a"/><path d="M1400 672l32-34-25 0-32 34z" fill="#50f72b"/><path d="M1657 555l31-28-26-4-31 28z" fill="#97f717"/><path d="M2173 464l29-14-27-12-30 14z" fill="#e4fe1d"/><path d="M842 1101l33-49-23 7-33 50z" fill="#15d3dc"/><path d="M1343 709l32-37-25 1-32 37z" fill="#3bf533"/><path d="M1090 883l33-43-24 4-33 44z" fill="#1df157"/><path d="M1599 580l32-29-26-3-32 30z" fill="#8cf81a"/><path d="M1857 500l31-23-27-7-31 23z" fill="#c1f918"/><path d="M2115 467l30-15-27-11-30 15z" fill="#e3fe1d"/><path d="M2372 484l29-9-28-15-29 8z" fill="#cffb1a"/><path d="M1033 932l33-44-24 5-32 45z" fill="#18ec76"/><path d="M787 1161l32-52-22 8-33 52z" fill="#17c7e9"/><path d="M1285 748l33-38-25 1-32 38z" fill="#34f43a"/><path d="M1541 609l32-31-26-3-32 32z" fill="#7ff91c"/><path d="M1799 517l31-24-26-6-32 24z" fill="#b1f716"/><path d="M2315 479l29-11-28-14-29 10z" fill="#d7fc1b"/><path d="M2057 473l31-17-28-10-30 17z" fill="#dffd1c"/><path d="M732 1222l32-53-22 9-33 53z" fill="#19baf7"/><path d="M1228 789l33-40-25 3-32 40z" fill="#2df441"/><path d="M2000 482l30-19-27-9-31 19z" fill="#d8fc1b"/><path d="M977 984l33-46-24 5-32 47z" fill="#14e696"/><path d="M1483 639l32-32-25-2-32 33z" fill="#6ef921"/><path d="M1741 537l31-26-26-5-31 26z" fill="#a2f515"/><path d="M2258 476l29-12-28-13-29 12z" fill="#dcfd1c"/><path d="M921 1038l33-48-23 6-33 49z" fill="#14deb7"/><path d="M1171 833l33-41-25 3-32 41z" fill="#26f348"/><path d="M1942 493l30-20-27-9-30 21z" fill="#cefb1a"/><path d="M1426 673l32-35-26 0-32 34z" fill="#56f729"/><path d="M1683 559l32-27-27-5-31 28z" fill="#98f617"/><path d="M2200 476l30-13-28-13-29 14z" fill="#defd1c"/><path d="M865 1094l33-49-23 7-33 49z" fill="#14d6d8"/><path d="M1114 879l33-43-24 4-33 43z" fill="#1ef250"/><path d="M1368 708l32-36-25 0-32 37z" fill="#3cf532"/><path d="M1625 584l32-29-26-4-32 29z" fill="#8df819"/><path d="M1884 507l31-22-27-8-31 23z" fill="#c1f918"/><path d="M2143 479l30-15-28-12-30 15z" fill="#defd1c"/><path d="M809 1153l33-52-23 8-32 52z" fill="#16cae5"/><path d="M1057 928l33-45-24 5-33 44z" fill="#19ed6d"/><path d="M1310 747l33-38-25 1-33 38z" fill="#36f438"/><path d="M1567 611l32-31-26-2-32 31z" fill="#81f91c"/><path d="M1826 524l31-24-27-7-31 24z" fill="#b1f716"/><path d="M2085 484l30-17-27-11-31 17z" fill="#dbfd1c"/><path d="M2343 494l29-10-28-16-29 11z" fill="#cefb1a"/><path d="M754 1213l33-52-23 8-32 53z" fill="#18bef3"/><path d="M1001 979l32-47-23 6-33 46z" fill="#14e88d"/><path d="M1253 787l32-39-24 1-33 40z" fill="#2ff43f"/><path d="M1509 641l32-32-26-2-32 32z" fill="#72f920"/><path d="M1767 543l32-26-27-6-31 26z" fill="#a2f515"/><path d="M2027 492l30-19-27-10-30 19z" fill="#d5fc1b"/><path d="M2286 490l29-11-28-15-29 12z" fill="#d4fc1b"/><path d="M944 1032l33-48-23 6-33 48z" fill="#14e0ad"/><path d="M1195 830l33-41-24 3-33 41z" fill="#28f346"/><path d="M1451 674l32-35-25-1-32 35z" fill="#5bf828"/><path d="M1709 564l32-27-26-5-32 27z" fill="#99f617"/><path d="M1969 502l31-20-28-9-30 20z" fill="#ccfb1a"/><path d="M2228 490l30-14-28-13-30 13z" fill="#d8fc1b"/><path d="M888 1088l33-50-23 7-33 49z" fill="#14d9cf"/><path d="M1138 876l33-43-24 3-33 43z" fill="#20f24e"/><path d="M1393 709l33-36-26-1-32 36z" fill="#42f530"/><path d="M1651 588l32-29-26-4-32 29z" fill="#8ff719"/><path d="M1911 515l31-22-27-8-31 22z" fill="#c0f918"/><path d="M2170 491l30-15-27-12-30 15z" fill="#d8fc1b"/><path d="M832 1146l33-52-23 7-33 52z" fill="#16cee1"/><path d="M1081 924l33-45-24 4-33 45z" fill="#1aee65"/><path d="M1335 746l33-38-25 1-33 38z" fill="#37f537"/><path d="M1593 615l32-31-26-4-32 31z" fill="#83f91b"/><path d="M1852 531l32-24-27-7-31 24z" fill="#b1f716"/><path d="M2112 496l31-17-28-12-30 17z" fill="#d6fc1b"/><path d="M777 1206l32-53-22 8-33 52z" fill="#18c1ef"/><path d="M1024 974l33-46-24 4-32 47z" fill="#15e984"/><path d="M1278 786l32-39-25 1-32 39z" fill="#31f43d"/><path d="M1535 644l32-33-26-2-32 32z" fill="#76fa1f"/><path d="M2054 503l31-19-28-11-30 19z" fill="#d1fb1a"/><path d="M1794 549l32-25-27-7-32 26z" fill="#a3f514"/><path d="M2314 505l29-11-28-15-29 11z" fill="#ccfb1a"/><path d="M968 1027l33-48-24 5-33 48z" fill="#14e2a4"/><path d="M1220 828l33-41-25 2-33 41z" fill="#2af344"/><path d="M1477 676l32-35-26-2-32 35z" fill="#60f826"/><path d="M1736 570l31-27-26-6-32 27z" fill="#9af616"/><path d="M1996 512l31-20-27-10-31 20z" fill="#c9fa19"/><path d="M2256 504l30-14-28-14-30 14z" fill="#d0fb1a"/><path d="M911 1082l33-50-23 6-33 50z" fill="#14dbc6"/><path d="M1163 873l32-43-24 3-33 43z" fill="#22f24c"/><path d="M1419 710l32-36-25-1-33 36z" fill="#47f62e"/><path d="M1938 524l31-22-27-9-31 22z" fill="#bef918"/><path d="M1677 593l32-29-26-5-32 29z" fill="#90f719"/><path d="M2198 505l30-15-28-14-30 15z" fill="#d2fb1a"/><path d="M1105 920l33-44-24 3-33 45z" fill="#1cf05d"/><path d="M855 1139l33-51-23 6-33 52z" fill="#15d1dd"/><path d="M1361 746l32-37-25-1-33 38z" fill="#39f535"/><path d="M1619 619l32-31-26-4-32 31z" fill="#85f91b"/><path d="M1879 539l32-24-27-8-32 24z" fill="#b1f716"/><path d="M2140 508l30-17-27-12-31 17z" fill="#d1fb1a"/><path d="M799 1198l33-52-23 7-32 53z" fill="#17c5eb"/><path d="M2082 514l30-18-27-12-31 19z" fill="#ccfb1a"/><path d="M1048 970l33-46-24 4-33 46z" fill="#17eb7c"/><path d="M1303 786l32-40-25 1-32 39z" fill="#32f43c"/><path d="M1561 647l32-32-26-4-32 33z" fill="#79fa1e"/><path d="M1821 556l31-25-26-7-32 25z" fill="#a3f514"/><path d="M991 1022l33-48-23 5-33 48z" fill="#14e49c"/><path d="M2024 523l30-20-27-11-31 20z" fill="#c6fa19"/><path d="M1245 827l33-41-25 1-33 41z" fill="#2bf343"/><path d="M1502 678l33-34-26-3-32 35z" fill="#64f825"/><path d="M1763 576l31-27-27-6-31 27z" fill="#9bf616"/><path d="M2284 518l30-13-28-15-30 14z" fill="#c8fa19"/><path d="M935 1076l33-49-24 5-33 50z" fill="#14ddbd"/><path d="M1187 871l33-43-25 2-32 43z" fill="#24f34a"/><path d="M1444 711l33-35-26-2-32 36z" fill="#4cf62d"/><path d="M1704 598l32-28-27-6-32 29z" fill="#91f718"/><path d="M1965 534l31-22-27-10-31 22z" fill="#bcf817"/><path d="M2226 518l30-14-28-14-30 15z" fill="#cbfa19"/><path d="M878 1133l33-51-23 6-33 51z" fill="#14d4da"/><path d="M1130 918l33-45-25 3-33 44z" fill="#1df156"/><path d="M1386 747l33-37-26-1-32 37z" fill="#3af534"/><path d="M1645 623l32-30-26-5-32 31z" fill="#87f81b"/><path d="M1907 548l31-24-27-9-32 24z" fill="#aff615"/><path d="M2168 521l30-16-28-14-30 17z" fill="#cafa19"/><path d="M822 1191l33-52-23 7-33 52z" fill="#16c8e7"/><path d="M1072 966l33-46-24 4-33 46z" fill="#18ec74"/><path d="M1328 786l33-40-26 0-32 40z" fill="#34f43a"/><path d="M1587 651l32-32-26-4-32 32z" fill="#7bfa1d"/><path d="M1848 564l31-25-27-8-31 25z" fill="#a3f514"/><path d="M2110 526l30-18-28-12-30 18z" fill="#c7fa19"/><path d="M1015 1018l33-48-24 4-33 48z" fill="#14e694"/><path d="M1270 826l33-40-25 0-33 41z" fill="#2df341"/><path d="M1528 681l33-34-26-3-33 34z" fill="#67f924"/><path d="M1789 583l32-27-27-7-31 27z" fill="#9bf616"/><path d="M2051 534l31-20-28-11-30 20z" fill="#c1f918"/><path d="M958 1071l33-49-23 5-33 49z" fill="#14dfb4"/><path d="M1212 870l33-43-25 1-33 43z" fill="#26f348"/><path d="M1470 713l32-35-25-2-33 35z" fill="#50f72b"/><path d="M1993 544l31-21-28-11-31 22z" fill="#b9f817"/><path d="M1731 605l32-29-27-6-32 28z" fill="#92f718"/><path d="M2254 533l30-15-28-14-30 14z" fill="#c3f918"/><path d="M902 1127l33-51-24 6-33 51z" fill="#14d7d6"/><path d="M1154 915l33-44-24 2-33 45z" fill="#1ef250"/><path d="M1412 749l32-38-25-1-33 37z" fill="#3bf533"/><path d="M1672 629l32-31-27-5-32 30z" fill="#88f81b"/><path d="M1934 557l31-23-27-10-31 24z" fill="#adf615"/><path d="M2196 534l30-16-28-13-30 16z" fill="#c4f918"/><path d="M1097 963l33-45-25 2-33 46z" fill="#19ed6d"/><path d="M845 1185l33-52-23 6-33 52z" fill="#16cce3"/><path d="M1353 786l33-39-25-1-33 40z" fill="#35f439"/><path d="M1613 655l32-32-26-4-32 32z" fill="#7cfa1d"/><path d="M1875 573l32-25-28-9-31 25z" fill="#a2f515"/><path d="M2137 539l31-18-28-13-30 18z" fill="#c1f918"/><path d="M1039 1014l33-48-24 4-33 48z" fill="#14e88c"/><path d="M1295 826l33-40-25 0-33 40z" fill="#2ef440"/><path d="M1555 685l32-34-26-4-33 34z" fill="#6af923"/><path d="M1816 591l32-27-27-8-32 27z" fill="#9bf616"/><path d="M2079 546l31-20-28-12-31 20z" fill="#bdf817"/><path d="M982 1067l33-49-24 4-33 49z" fill="#14e1ab"/><path d="M1237 869l33-43-25 1-33 43z" fill="#27f347"/><path d="M1496 716l32-35-26-3-32 35z" fill="#54f72a"/><path d="M2020 555l31-21-27-11-31 21z" fill="#b5f716"/><path d="M1757 611l32-28-26-7-32 29z" fill="#92f718"/><path d="M925 1122l33-51-23 5-33 51z" fill="#14d9cd"/><path d="M1179 914l33-44-25 1-33 44z" fill="#20f24e"/><path d="M1437 751l33-38-26-2-32 38z" fill="#3cf532"/><path d="M1699 635l32-30-27-7-32 31z" fill="#88f81a"/><path d="M1961 567l32-23-28-10-31 23z" fill="#aaf615"/><path d="M2224 549l30-16-28-15-30 16z" fill="#bcf817"/><path d="M869 1180l33-53-24 6-33 52z" fill="#15cfe0"/><path d="M2165 552l31-18-28-13-31 18z" fill="#bbf817"/><path d="M1121 961l33-46-24 3-33 45z" fill="#1aee66"/><path d="M1379 787l33-38-26-2-33 39z" fill="#36f438"/><path d="M1640 660l32-31-27-6-32 32z" fill="#7df91d"/><path d="M1902 582l32-25-27-9-32 25z" fill="#a2f515"/><path d="M1064 1011l33-48-25 3-33 48z" fill="#15e984"/><path d="M1320 827l33-41-25 0-33 40z" fill="#30f43e"/><path d="M1581 689l32-34-26-4-32 34z" fill="#6df922"/><path d="M1843 599l32-26-27-9-32 27z" fill="#9bf616"/><path d="M2107 558l30-19-27-13-31 20z" fill="#b7f817"/><path d="M1006 1063l33-49-24 4-33 49z" fill="#14e3a4"/><path d="M1262 869l33-43-25 0-33 43z" fill="#29f345"/><path d="M1522 720l33-35-27-4-32 35z" fill="#58f729"/><path d="M1784 619l32-28-27-8-32 28z" fill="#92f718"/><path d="M2048 567l31-21-28-12-31 21z" fill="#b0f716"/><path d="M949 1118l33-51-24 4-33 51z" fill="#14dbc4"/><path d="M1204 913l33-44-25 1-33 44z" fill="#22f24c"/><path d="M1463 753l33-37-26-3-33 38z" fill="#40f531"/><path d="M1725 641l32-30-26-6-32 30z" fill="#89f81a"/><path d="M1989 578l31-23-27-11-32 23z" fill="#a7f514"/><path d="M892 1174l33-52-23 5-33 53z" fill="#15d2dd"/><path d="M1146 959l33-45-25 1-33 46z" fill="#1bef5f"/><path d="M1404 789l33-38-25-2-33 38z" fill="#37f537"/><path d="M1666 666l33-31-27-6-32 31z" fill="#7ef91d"/><path d="M1930 592l31-25-27-10-32 25z" fill="#a0f615"/><path d="M2193 566l31-17-28-15-31 18z" fill="#b4f716"/><path d="M1088 1008l33-47-24 2-33 48z" fill="#17eb7d"/><path d="M1346 828l33-41-26-1-33 41z" fill="#31f43d"/><path d="M1607 694l33-34-27-5-32 34z" fill="#6ff921"/><path d="M2135 571l30-19-28-13-30 19z" fill="#b1f716"/><path d="M1871 608l31-26-27-9-32 26z" fill="#9af616"/><path d="M1030 1060l34-49-25 3-33 49z" fill="#14e49c"/><path d="M1548 724l33-35-26-4-33 35z" fill="#5af828"/><path d="M1287 869l33-42-25-1-33 43z" fill="#2af344"/><path d="M1812 627l31-28-27-8-32 28z" fill="#92f718"/><path d="M2076 579l31-21-28-12-31 21z" fill="#abf615"/><path d="M973 1114l33-51-24 4-33 51z" fill="#14ddbc"/><path d="M1229 912l33-43-25 0-33 44z" fill="#23f34b"/><path d="M1489 757l33-37-26-4-33 37z" fill="#44f62f"/><path d="M1752 649l32-30-27-8-32 30z" fill="#89f81a"/><path d="M2017 589l31-22-28-12-31 23z" fill="#a4f514"/><path d="M916 1170l33-52-24 4-33 52z" fill="#14d5da"/><path d="M1171 958l33-45-25 1-33 45z" fill="#1df159"/><path d="M1430 792l33-39-26-2-33 38z" fill="#38f536"/><path d="M1693 673l32-32-26-6-33 31z" fill="#7ff91c"/><path d="M1957 602l32-24-28-11-31 25z" fill="#9ff615"/><path d="M1113 1007l33-48-25 2-33 47z" fill="#18ec76"/><path d="M1371 830l33-41-25-2-33 41z" fill="#32f43c"/><path d="M1634 699l32-33-26-6-33 34z" fill="#71f920"/><path d="M1898 618l32-26-28-10-31 26z" fill="#99f617"/><path d="M2163 585l30-19-28-14-30 19z" fill="#aaf615"/><path d="M1055 1057l33-49-24 3-34 49z" fill="#14e695"/><path d="M1313 870l33-42-26-1-33 42z" fill="#2cf342"/><path d="M1575 729l32-35-26-5-33 35z" fill="#5df827"/><path d="M2104 592l31-21-28-13-31 21z" fill="#a5f514"/><path d="M1839 636l32-28-28-9-31 28z" fill="#92f718"/><path d="M997 1111l33-51-24 3-33 51z" fill="#14dfb4"/><path d="M1254 913l33-44-25 0-33 43z" fill="#25f349"/><path d="M1515 761l33-37-26-4-33 37z" fill="#47f62e"/><path d="M1780 657l32-30-28-8-32 30z" fill="#89f81a"/><path d="M2045 601l31-22-28-12-31 22z" fill="#a2f515"/><path d="M939 1166l34-52-24 4-33 52z" fill="#14d7d6"/><path d="M1196 958l33-46-25 1-33 45z" fill="#1ef253"/><path d="M1456 795l33-38-26-4-33 39z" fill="#39f535"/><path d="M1720 680l32-31-27-8-32 32z" fill="#7ff91c"/><path d="M1985 613l32-24-28-11-32 24z" fill="#9df616"/><path d="M1137 1005l34-47-25 1-33 48z" fill="#19ed70"/><path d="M1397 832l33-40-26-3-33 41z" fill="#33f43b"/><path d="M1661 706l32-33-27-7-32 33z" fill="#72fa20"/><path d="M1926 628l31-26-27-10-32 26z" fill="#98f617"/><path d="M1079 1055l34-48-25 1-33 49z" fill="#14e88e"/><path d="M1338 871l33-41-25-2-33 42z" fill="#2df341"/><path d="M1601 734l33-35-27-5-32 35z" fill="#5ff826"/><path d="M2132 606l31-21-28-14-31 21z" fill="#a2f515"/><path d="M1866 645l32-27-27-10-32 28z" fill="#91f718"/><path d="M1021 1108l34-51-25 3-33 51z" fill="#14e1ad"/><path d="M1279 913l34-43-26-1-33 44z" fill="#26f348"/><path d="M1542 765l33-36-27-5-33 37z" fill="#49f62e"/><path d="M1807 665l32-29-27-9-32 30z" fill="#89f81a"/><path d="M2073 614l31-22-28-13-31 22z" fill="#9ff615"/><path d="M963 1163l34-52-24 3-34 52z" fill="#14d9ce"/><path d="M1221 958l33-45-25-1-33 46z" fill="#1ff24f"/><path d="M1483 799l32-38-26-4-33 38z" fill="#3af534"/><path d="M1747 688l33-31-28-8-32 31z" fill="#7ff91c"/><path d="M2013 625l32-24-28-12-32 24z" fill="#9bf616"/><path d="M1162 1005l34-47-25 0-34 47z" fill="#1aee6a"/><path d="M1423 835l33-40-26-3-33 40z" fill="#34f43a"/><path d="M1688 713l32-33-27-7-32 33z" fill="#73fa20"/><path d="M1954 639l31-26-28-11-31 26z" fill="#96f717"/><path d="M1628 740l33-34-27-7-33 35z" fill="#60f826"/><path d="M1104 1054l33-49-24 2-34 48z" fill="#15e987"/><path d="M1364 874l33-42-26-2-33 41z" fill="#2ef440"/><path d="M1894 656l32-28-28-10-32 27z" fill="#90f719"/><path d="M1046 1106l33-51-24 2-34 51z" fill="#14e2a6"/><path d="M1305 915l33-44-25-1-34 43z" fill="#27f347"/><path d="M1568 771l33-37-26-5-33 36z" fill="#4cf62d"/><path d="M1834 675l32-30-27-9-32 29z" fill="#88f81a"/><path d="M2101 628l31-22-28-14-31 22z" fill="#9df616"/><path d="M988 1160l33-52-24 3-34 52z" fill="#14dbc6"/><path d="M1246 959l33-46-25 0-33 45z" fill="#20f24e"/><path d="M1509 803l33-38-27-4-32 38z" fill="#3af534"/><path d="M1774 696l33-31-27-8-33 31z" fill="#7ff91c"/><path d="M2041 638l32-24-28-13-32 24z" fill="#99f617"/><path d="M1187 1005l34-47-25 0-34 47z" fill="#1bef64"/><path d="M1449 839l34-40-27-4-33 40z" fill="#35f439"/><path d="M1715 720l32-32-27-8-32 33z" fill="#73fa20"/><path d="M1981 651l32-26-28-12-31 26z" fill="#94f718"/><path d="M1129 1053l33-48-25 0-33 49z" fill="#16ea81"/><path d="M1390 877l33-42-26-3-33 42z" fill="#2ff43f"/><path d="M1655 747l33-34-27-7-33 34z" fill="#61f826"/><path d="M1922 667l32-28-28-11-32 28z" fill="#8ef819"/><path d="M1070 1104l34-50-25 1-33 51z" fill="#14e49f"/><path d="M1331 917l33-43-26-3-33 44z" fill="#28f346"/><path d="M1595 777l33-37-27-6-33 37z" fill="#4df62c"/><path d="M1862 685l32-29-28-11-32 30z" fill="#87f81b"/><path d="M1012 1158l34-52-25 2-33 52z" fill="#14dcbf"/><path d="M1272 960l33-45-26-2-33 46z" fill="#21f24d"/><path d="M1535 809l33-38-26-6-33 38z" fill="#3bf533"/><path d="M1802 705l32-30-27-10-33 31z" fill="#7ff91d"/><path d="M2069 652l32-24-28-14-32 24z" fill="#97f717"/><path d="M1213 1005l33-46-25-1-34 47z" fill="#1cf05f"/><path d="M1476 843l33-40-26-4-34 40z" fill="#35f439"/><path d="M1742 729l32-33-27-8-32 32z" fill="#73fa20"/><path d="M2009 664l32-26-28-13-32 26z" fill="#92f718"/><path d="M1154 1053l33-48-25 0-33 48z" fill="#17eb7b"/><path d="M1416 880l33-41-26-4-33 42z" fill="#30f43e"/><path d="M1682 755l33-35-27-7-33 34z" fill="#62f825"/><path d="M1950 678l31-27-27-12-32 28z" fill="#8df819"/><path d="M1095 1103l34-50-25 1-34 50z" fill="#14e599"/><path d="M1357 920l33-43-26-3-33 43z" fill="#29f345"/><path d="M1622 783l33-36-27-7-33 37z" fill="#4ef72c"/><path d="M1890 695l32-28-28-11-32 29z" fill="#86f81b"/><path d="M1036 1156l34-52-24 2-34 52z" fill="#14deb8"/><path d="M1297 962l34-45-26-2-33 45z" fill="#23f24b"/><path d="M1562 814l33-37-27-6-33 38z" fill="#3bf533"/><path d="M1829 715l33-30-28-10-32 30z" fill="#7ef91d"/><path d="M1238 1007l34-47-26-1-33 46z" fill="#1cf05a"/><path d="M1502 848l33-39-26-6-33 40z" fill="#36f438"/><path d="M1769 738l33-33-28-9-32 33z" fill="#72fa20"/><path d="M2038 677l31-25-28-14-32 26z" fill="#90f719"/><path d="M1179 1054l34-49-26 0-33 48z" fill="#18ec76"/><path d="M1442 884l34-41-27-4-33 41z" fill="#30f43e"/><path d="M1709 763l33-34-27-9-33 35z" fill="#62f825"/><path d="M1978 691l31-27-28-13-31 27z" fill="#8bf81a"/><path d="M1120 1103l34-50-25 0-34 50z" fill="#14e693"/><path d="M1383 923l33-43-26-3-33 43z" fill="#2af344"/><path d="M1649 791l33-36-27-8-33 36z" fill="#4ff72c"/><path d="M1917 707l33-29-28-11-32 28z" fill="#84f91b"/><path d="M1061 1155l34-52-25 1-34 52z" fill="#14dfb2"/><path d="M1323 965l34-45-26-3-34 45z" fill="#24f34a"/><path d="M1589 821l33-38-27-6-33 37z" fill="#3cf532"/><path d="M1857 726l33-31-28-10-33 30z" fill="#7df91d"/><path d="M1264 1009l33-47-25-2-34 47z" fill="#1df155"/><path d="M1529 854l33-40-27-5-33 39z" fill="#37f437"/><path d="M1797 748l32-33-27-10-33 33z" fill="#71f920"/><path d="M1204 1055l34-48-25-2-34 49z" fill="#19ed71"/><path d="M1469 889l33-41-26-5-34 41z" fill="#31f43d"/><path d="M1737 772l32-34-27-9-33 34z" fill="#61f826"/><path d="M2006 704l32-27-29-13-31 27z" fill="#88f81a"/><path d="M1145 1104l34-50-25-1-34 50z" fill="#14e88e"/><path d="M1409 927l33-43-26-4-33 43z" fill="#2bf343"/><path d="M1676 799l33-36-27-8-33 36z" fill="#4ff72c"/><path d="M1945 719l33-28-28-13-33 29z" fill="#82f91c"/><path d="M1086 1155l34-52-25 0-34 52z" fill="#14e1ac"/><path d="M1349 968l34-45-26-3-34 45z" fill="#24f34a"/><path d="M1616 828l33-37-27-8-33 38z" fill="#3cf532"/><path d="M1885 737l32-30-27-12-33 31z" fill="#7bfa1d"/><path d="M1289 1011l34-46-26-3-33 47z" fill="#1ef251"/><path d="M1556 860l33-39-27-7-33 40z" fill="#37f437"/><path d="M1825 758l32-32-28-11-32 33z" fill="#70f921"/><path d="M1230 1057l34-48-26-2-34 48z" fill="#19ed6c"/><path d="M1496 895l33-41-27-6-33 41z" fill="#31f43d"/><path d="M1764 781l33-33-28-10-32 34z" fill="#60f826"/><path d="M1170 1105l34-50-25-1-34 50z" fill="#15e989"/><path d="M1435 932l34-43-27-5-33 43z" fill="#2cf342"/><path d="M1704 807l33-35-28-9-33 36z" fill="#4ff72c"/><path d="M1974 732l32-28-28-13-33 28z" fill="#80f91c"/><path d="M1111 1155l34-51-25-1-34 52z" fill="#14e2a6"/><path d="M1375 972l34-45-26-4-34 45z" fill="#25f349"/><path d="M1643 836l33-37-27-8-33 37z" fill="#3cf532"/><path d="M1913 749l32-30-28-12-32 30z" fill="#79fa1e"/><path d="M1315 1014l34-46-26-3-34 46z" fill="#1ff24f"/><path d="M1583 867l33-39-27-7-33 39z" fill="#37f537"/><path d="M1853 769l32-32-28-11-32 32z" fill="#6ef921"/><path d="M1256 1059l33-48-25-2-34 48z" fill="#1aee68"/><path d="M1522 901l34-41-27-6-33 41z" fill="#32f43c"/><path d="M1792 792l33-34-28-10-33 33z" fill="#5ff826"/><path d="M1196 1106l34-49-26-2-34 50z" fill="#15e984"/><path d="M1462 938l34-43-27-6-34 43z" fill="#2cf342"/><path d="M1731 817l33-36-27-9-33 35z" fill="#4ef72c"/><path d="M1136 1156l34-51-25-1-34 51z" fill="#14e3a1"/><path d="M1402 977l33-45-26-5-34 45z" fill="#26f348"/><path d="M1671 845l33-38-28-8-33 37z" fill="#3cf532"/><path d="M1941 762l33-30-29-13-32 30z" fill="#77fa1e"/><path d="M1342 1018l33-46-26-4-34 46z" fill="#1ff24f"/><path d="M1610 875l33-39-27-8-33 39z" fill="#37f537"/><path d="M1881 781l32-32-28-12-32 32z" fill="#6bf922"/><path d="M1820 803l33-34-28-11-33 34z" fill="#5df827"/><path d="M1282 1062l33-48-26-3-33 48z" fill="#1bef64"/><path d="M1549 908l34-41-27-7-34 41z" fill="#32f43c"/><path d="M1222 1109l34-50-26-2-34 49z" fill="#16ea80"/><path d="M1489 944l33-43-26-6-34 43z" fill="#2df341"/><path d="M1759 827l33-35-28-11-33 36z" fill="#4df62c"/><path d="M1162 1158l34-52-26-1-34 51z" fill="#14e49c"/><path d="M1428 982l34-44-27-6-33 45z" fill="#27f347"/><path d="M1698 854l33-37-27-10-33 38z" fill="#3cf532"/><path d="M1368 1023l34-46-27-5-33 46z" fill="#20f24e"/><path d="M1637 884l34-39-28-9-33 39z" fill="#37f537"/><path d="M1909 794l32-32-28-13-32 32z" fill="#68f923"/><path d="M1308 1066l34-48-27-4-33 48z" fill="#1bef61"/><path d="M1576 916l34-41-27-8-34 41z" fill="#32f43c"/><path d="M1848 814l33-33-28-12-33 34z" fill="#5bf828"/><path d="M1247 1112l35-50-26-3-34 50z" fill="#17eb7c"/><path d="M1516 951l33-43-27-7-33 43z" fill="#2df441"/><path d="M1787 838l33-35-28-11-33 35z" fill="#4bf62d"/><path d="M1187 1160l35-51-26-3-34 52z" fill="#14e598"/><path d="M1455 988l34-44-27-6-34 44z" fill="#27f347"/><path d="M1726 864l33-37-28-10-33 37z" fill="#3cf532"/><path d="M1394 1028l34-46-26-5-34 46z" fill="#21f24d"/><path d="M1665 893l33-39-27-9-34 39z" fill="#37f537"/><path d="M1334 1070l34-47-26-5-34 48z" fill="#1cf05e"/><path d="M1604 924l33-40-27-9-34 41z" fill="#32f43c"/><path d="M1876 827l33-33-28-13-33 33z" fill="#58f729"/><path d="M1274 1115l34-49-26-4-35 50z" fill="#17eb78"/><path d="M1543 958l33-42-27-8-33 43z" fill="#2df441"/><path d="M1815 849l33-35-28-11-33 35z" fill="#49f62e"/><path d="M1213 1163l34-51-25-3-35 51z" fill="#14e694"/><path d="M1482 995l34-44-27-7-34 44z" fill="#28f346"/><path d="M1754 875l33-37-28-11-33 37z" fill="#3bf533"/><path d="M1421 1034l34-46-27-6-34 46z" fill="#21f24d"/><path d="M1692 903l34-39-28-10-33 39z" fill="#37f537"/><path d="M1360 1075l34-47-26-5-34 47z" fill="#1cf05b"/><path d="M1631 933l34-40-28-9-33 40z" fill="#32f43c"/><path d="M1300 1120l34-50-26-4-34 49z" fill="#18ec75"/><path d="M1570 966l34-42-28-8-33 42z" fill="#2df441"/><path d="M1843 862l33-35-28-13-33 35z" fill="#47f62e"/><path d="M1239 1166l35-51-27-3-34 51z" fill="#14e790"/><path d="M1509 1002l34-44-27-7-34 44z" fill="#28f346"/><path d="M1782 886l33-37-28-11-33 37z" fill="#3bf533"/><path d="M1448 1040l34-45-27-7-34 46z" fill="#22f24c"/><path d="M1720 913l34-38-28-11-34 39z" fill="#37f437"/><path d="M1387 1081l34-47-27-6-34 47z" fill="#1cf059"/><path d="M1659 943l33-40-27-10-34 40z" fill="#32f43c"/><path d="M1326 1124l34-49-26-5-34 50z" fill="#18ec72"/><path d="M1597 975l34-42-27-9-34 42z" fill="#2df441"/><path d="M1265 1170l35-50-26-5-35 51z" fill="#14e88d"/><path d="M1536 1010l34-44-27-8-34 44z" fill="#28f346"/><path d="M1810 898l33-36-28-13-33 37z" fill="#3af534"/><path d="M1475 1047l34-45-27-7-34 45z" fill="#22f24c"/><path d="M1748 924l34-38-28-11-34 38z" fill="#36f438"/><path d="M1414 1087l34-47-27-6-34 47z" fill="#1df157"/><path d="M1687 953l33-40-28-10-33 40z" fill="#32f43c"/><path d="M1353 1130l34-49-27-6-34 49z" fill="#19ed70"/><path d="M1625 985l34-42-28-10-34 42z" fill="#2df441"/><path d="M1292 1175l34-51-26-4-35 50z" fill="#14e88a"/><path d="M1564 1019l33-44-27-9-34 44z" fill="#28f346"/><path d="M1502 1055l34-45-27-8-34 45z" fill="#22f24c"/><path d="M1776 936l34-38-28-12-34 38z" fill="#36f438"/><path d="M1441 1095l34-48-27-7-34 47z" fill="#1df156"/><path d="M1715 964l33-40-28-11-33 40z" fill="#32f43c"/><path d="M1379 1136l35-49-27-6-34 49z" fill="#19ed6e"/><path d="M1653 995l34-42-28-10-34 42z" fill="#2df441"/><path d="M1318 1181l35-51-27-6-34 51z" fill="#15e987"/><path d="M1591 1028l34-43-28-10-33 44z" fill="#28f346"/><path d="M1529 1064l35-45-28-9-34 45z" fill="#23f24b"/><path d="M1468 1102l34-47-27-8-34 48z" fill="#1df155"/><path d="M1743 976l33-40-28-12-33 40z" fill="#31f43d"/><path d="M1681 1006l34-42-28-11-34 42z" fill="#2df341"/><path d="M1406 1143l35-48-27-8-35 49z" fill="#19ed6c"/><path d="M1345 1187l34-51-26-6-35 51z" fill="#15e985"/><path d="M1619 1038l34-43-28-10-34 43z" fill="#28f346"/><path d="M1557 1073l34-45-27-9-35 45z" fill="#23f24b"/><path d="M1495 1111l34-47-27-9-34 47z" fill="#1df154"/><path d="M1433 1151l35-49-27-7-35 48z" fill="#1aee6b"/><path d="M1709 1018l34-42-28-12-34 42z" fill="#2cf342"/><path d="M1372 1194l34-51-27-7-34 51z" fill="#15e983"/><path d="M1647 1049l34-43-28-11-34 43z" fill="#28f346"/><path d="M1585 1083l34-45-28-10-34 45z" fill="#23f24b"/><path d="M1523 1120l34-47-28-9-34 47z" fill="#1df154"/><path d="M1461 1160l34-49-27-9-35 49z" fill="#1aee6a"/><path d="M1399 1201l34-50-27-8-34 51z" fill="#16ea82"/><path d="M1675 1061l34-43-28-12-34 43z" fill="#27f347"/><path d="M1613 1094l34-45-28-11-34 45z" fill="#22f24c"/><path d="M1550 1130l35-47-28-10-34 47z" fill="#1df154"/><path d="M1488 1169l35-49-28-9-34 49z" fill="#1aee6a"/><path d="M1426 1210l35-50-28-9-34 50z" fill="#16ea81"/><path d="M1641 1106l34-45-28-12-34 45z" fill="#22f24c"/><path d="M1578 1141l35-47-28-11-35 47z" fill="#1df155"/><path d="M1516 1178l34-48-27-10-35 49z" fill="#1aee6a"/><path d="M1454 1219l34-50-27-9-35 50z" fill="#16ea80"/><path d="M1606 1152l35-46-28-12-35 47z" fill="#1df156"/><path d="M1544 1189l34-48-28-11-34 48z" fill="#1aee6a"/><path d="M1481 1229l35-51-28-9-34 50z" fill="#16ea80"/><path d="M1572 1200l34-48-28-11-34 48z" fill="#1aee6b"/><path d="M1509 1239l35-50-28-11-35 51z" fill="#16ea81"/><path d="M1537 1250l35-50-28-11-35 50z" fill="#16ea81"/></g>
<polyline points="153.7,125 151.6,124.2 149.5,123.4 147.4,122.6 145.4,121.9 143.3,121.2 141.3,120.6 139.2,120 137.2,119.4 135.2,118.9 133.2,118.4 131.2,117.9 129.2,117.5 127.2,117.2 125.2,116.8 123.3,116.5 121.3,116.3 119.4,116 117.5,115.9 115.5,115.7 113.6,115.6 111.7,115.5 109.9,115.5 108,115.5 106.1,115.5 104.3,115.6 102.4,115.7 100.6,115.8 98.8,116 96.9,116.2 95.1,116.4 93.3,116.7 91.6,117 89.8,117.3 88,117.7 86.3,118.1 84.5,118.5 82.8,119 81.1,119.5 79.4,120 77.7,120.6 76,121.1 74.3,121.8 72.6,122.4 70.9,123.1 69.3,123.8 67.7,124.5 66,125.3 64.4,126.1 62.8,126.9 61.2,127.7 59.6,128.6 58,129.5 56.4,130.5 54.9,131.4 53.3,132.4 51.8,133.4 50.3,134.4 48.7,135.5 47.2,136.6 45.7,137.7" fill="none" stroke="#000" stroke-width="0.9"/>
<polyline points="153.7,125 155.8,122 157.9,119.1 159.9,116.2 162,113.3 164.1,110.6 166.1,107.9 168.2,105.2 170.2,102.6 172.2,100.1 174.3,97.6 176.3,95.2 178.3,92.9 180.3,90.6 182.3,88.4 184.3,86.2 186.3,84.1 188.3,82 190.2,80 192.2,78.1 194.1,76.2 196.1,74.4 198,72.6 199.9,70.9 201.9,69.3 203.8,67.7 205.7,66.2 207.6,64.7 209.4,63.3 211.3,61.9 213.2,60.6 215,59.3 216.9,58.1 218.7,57 220.6,55.9 222.4,54.9 224.2,53.9 226,53 227.8,52.1 229.6,51.3 231.4,50.5 233.1,49.8 234.9,49.2 236.6,48.6 238.4,48 240.1,47.5 241.8,47.1 243.5,46.7 245.2,46.3 246.9,46 248.6,45.8 250.2,45.6 251.9,45.4 253.6,45.3 255.2,45.3 256.8,45.3 258.4,45.3 260.1,45.4 261.7,45.6 263.2,45.8 264.8,46" fill="none" stroke="#000" stroke-width="0.9"/>
<polyline points="264.8,46 262.8,44.7 260.7,43.4 258.7,42.2 256.6,41 254.6,39.9 252.6,38.8 250.6,37.7 248.5,36.6 246.5,35.7 244.5,34.7 242.5,33.8 240.5,32.9 238.6,32 236.6,31.2 234.6,30.4 232.6,29.7 230.7,29 228.7,28.3 226.8,27.7 224.9,27.1 222.9,26.5 221,26 219.1,25.5 217.2,25 215.3,24.6 213.4,24.2 211.5,23.9 209.6,23.6 207.7,23.3 205.8,23 204,22.8 202.1,22.6 200.3,22.4 198.4,22.3 196.6,22.2 194.8,22.2 192.9,22.2 191.1,22.2 189.3,22.2 187.5,22.3 185.7,22.4 183.9,22.5 182.2,22.7 180.4,22.9 178.6,23.1 176.9,23.3 175.1,23.6 173.4,24 171.6,24.3 169.9,24.7 168.2,25.1 166.5,25.5 164.8,26 163.1,26.5 161.4,27 159.7,27.5 158,28.1 156.4,28.7 154.7,29.3 153.1,30" fill="none" stroke="#000" stroke-width="0.9"/>
<polyline points="45.7,137.7 47.6,134.5 49.5,131.2 51.4,128.1 53.3,125 55.2,121.9 57,118.9 58.9,116 60.8,113.1 62.7,110.2 64.6,107.4 66.4,104.7 68.3,101.9 70.2,99.3 72,96.7 73.9,94.1 75.7,91.6 77.6,89.2 79.4,86.8 81.3,84.4 83.1,82.1 85,79.9 86.8,77.7 88.6,75.5 90.5,73.4 92.3,71.4 94.1,69.4 95.9,67.4 97.7,65.5 99.5,63.7 101.3,61.9 103.1,60.1 104.9,58.4 106.7,56.8 108.5,55.2 110.3,53.6 112.1,52.1 113.8,50.6 115.6,49.2 117.4,47.9 119.1,46.5 120.9,45.3 122.6,44 124.4,42.9 126.1,41.7 127.8,40.7 129.5,39.6 131.3,38.7 133,37.7 134.7,36.8 136.4,36 138.1,35.2 139.8,34.4 141.4,33.7 143.1,33 144.8,32.4 146.5,31.8 148.1,31.3 149.8,30.8 151.4,30.4 153.1,30" fill="none" stroke="#000" stroke-width="0.9"/></g>
<g><path d="M434 218.9 L528.1 170.5 L435 131.8 L340.9 169.7 z" fill="#ffff00" stroke="#3a3a20" stroke-width="0.7"/>
<polyline points="418.5,210.7 418.6,209.8 418.6,208.9 418.6,208 418.7,207.2 418.7,206.3 418.8,205.4 418.9,204.6 419,203.8 419.1,203 419.2,202.2 419.4,201.4 419.5,200.6 419.7,199.8 419.9,199 420.2,198 420.6,197.1 421,196.2 421.3,195.5 421.6,194.8 422.2,193.9 422.8,192.9 423.3,192.3 424.1,191.4 424.9,190.7 426,189.7 426.8,189.2 428.2,188.3 429.9,187.5 431.7,186.8 432.9,186.4 434.8,186 436.2,185.7 438.3,185.3 439.6,185.2 440.9,185 442.9,184.8 444.8,184.7 446.6,184.6 448.1,184.6 449.7,184.6 451.3,184.6 452.9,184.6 454.6,184.6 456.3,184.7 457.8,184.7 459.3,184.8 460.8,184.9 462.3,185 463.7,185.1 465.4,185.2 467.3,185.3 469.2,185.5 470.9,185.6 472.3,185.7 473.7,185.8 475.2,186 477.2,186.2 479.2,186.4 480.5,186.5 481.9,186.6 483.4,186.8 485.6,187 487.3,187.2 488.7,187.4 490,187.5 492,187.8 494.1,188 494.1,188" fill="none" stroke="#00d7e1" stroke-width="1"/>
<polyline points="404.5,203.3 404.3,202.4 404.1,201.7 403.9,201 403.7,200.2 403.5,199.2 403.2,198.2 403,197.4 402.8,196.7 402.6,196 402.4,195.2 402.2,194.2 401.9,193.2 401.7,192.5 401.6,191.8 401.4,191.1 401.1,190.3 400.9,189.3 400.6,188.4 400.4,187.7 400.2,187.1 400,186.4 399.7,185.4 399.5,184.5 399.3,183.8 399.1,183.2 398.8,182.5 398.5,181.5 398.2,180.6 398,180 397.7,179.4 397.4,178.6 397,177.6 396.7,177 396.4,176.4 395.9,175.5 395.5,174.7 395.1,174.2 394.4,173.1 393.9,172.6 393,171.7 392.4,171.2 391.2,170.4 389.9,169.6 388.3,168.9 386.7,168.3 385.1,167.8 384,167.5 382.1,166.9 381.1,166.7 379.1,166.2 378.1,166 376,165.5 375,165.3 373.3,165 371.9,164.7 370.7,164.5 368.7,164.1 367.6,163.9 365.8,163.5 364.4,163.3 363.4,163.1 361.2,162.7 360.2,162.5 359.1,162.3" fill="none" stroke="#3ceb00" stroke-width="1"/>
<polyline points="393.8,148.4 393.9,148.9 394.1,149.4 394.2,150 394.5,150.7 394.7,151.5 394.9,152.1 395.1,152.7 395.3,153.2 395.5,154 395.8,154.8 396,155.4 396.2,155.9 396.4,156.5 396.8,157.3 397.1,158.1 397.3,158.6 397.6,159.2 398.1,160.1 398.4,160.7 398.8,161.2 399.4,162.2 399.8,162.7 400.5,163.4 401.2,164.1 402.3,165 402.9,165.4 404.3,166.1 405.8,166.8 407.3,167.4 408.4,167.8 410.2,168.3 411.5,168.6 413.2,169.1 414.7,169.4 416.3,169.8 417.6,170.1 419.4,170.5 420.5,170.7 422.7,171.1 423.8,171.4 425.7,171.7 427.1,172 428.3,172.2 430.5,172.6 431.7,172.8 433.3,173.1 435.1,173.4 436.2,173.6 438.3,174 439.7,174.3 440.8,174.5 443.1,174.9 444.3,175.1 445.8,175.3 447.8,175.7 449,175.9 450.8,176.2 452.5,176.5 453.7,176.7 455.8,177 457.2,177.3 458.4,177.5 460.7,177.8 462,178.1 463.2,178.3 465.6,178.7 466.8,178.9 468.2,179.1 470.4,179.5 471.6,179.7 473.2,179.9 475.2,180.3 476.4,180.5 478.2,180.8 480,181.1 481.2,181.3 483.2,181.6 484.9,181.9 486.1,182.1 488.2,182.4 489.8,182.7 491,182.9 493.3,183.3 494.7,183.5 495.9,183.7 498.3,184.1 499.6,184.3 500.9,184.5" fill="none" stroke="#3ceb00" stroke-width="1"/>
<polyline points="385.9,193.5 385.2,192.4 384.7,191.8 383.9,190.7 383.5,190.1 382.6,189.1 382.1,188.5 381.3,187.6 380.7,186.9 379.7,185.9 379.2,185.4 378.2,184.4 377.6,183.9 376.6,183 375.5,182 374.9,181.6 373.7,180.7 372.5,179.8 371.6,179.2 370.6,178.5 369.3,177.7 368,176.9 366.6,176.1 365.2,175.4 363.8,174.6 362.3,173.9 360.8,173.2 359.3,172.5 357.7,171.8 356.5,171.3 355.3,170.9 353.7,170.2 352,169.6 350.8,169.2 349.5,168.7 347.8,168.1 346.5,167.7 346,167.6" fill="none" stroke="#00e1c8" stroke-width="1"/>
<polyline points="405.5,143.7 405.8,144.1 406.5,145 406.9,145.4 407.4,146 408.1,146.8 408.5,147.2 409.3,148.1 409.7,148.5 410.6,149.4 411.1,149.8 412,150.7 412.5,151.1 413.4,151.9 413.9,152.3 415,153.1 415.9,153.8 416.6,154.4 417.8,155.2 418.8,155.8 419.6,156.3 420.8,157.1 422.1,157.8 423.4,158.6 424.1,158.9 425.5,159.7 426.9,160.4 428.4,161.1 429.9,161.7 431.5,162.4 433.1,163.1 433.9,163.4 435.6,164 437.3,164.6 439,165.3 440.8,165.9 441.7,166.2 443.5,166.8 445.3,167.3 446.3,167.6 448.1,168.2 450.1,168.7 451,169 453,169.6 454.4,169.9 456,170.4 458,170.9 459,171.2 461,171.7 462.1,172 464.2,172.5 465.2,172.7 467.3,173.2 468.4,173.5 470.5,174 471.6,174.2 473.7,174.7 474.8,175 477,175.5 478.1,175.7 480.3,176.2 481.4,176.4 483.6,176.9 484.8,177.1 487,177.6 488.1,177.8 489.9,178.2 491.5,178.5 492.9,178.8 495,179.3 496.1,179.5 498.4,179.9 499.6,180.2 501.6,180.6 503.1,180.9 504.5,181.1 506.6,181.6 506.6,181.6" fill="none" stroke="#00e1c8" stroke-width="1"/>
<polyline points="413.3,140.5 414.2,141.3 414.6,141.7 415.5,142.6 415.9,143 416.8,143.8 417.3,144.2 418.3,145 418.7,145.4 419.7,146.2 420.2,146.6 421.3,147.4 422.3,148.2 422.9,148.6 424,149.4 424.8,149.9 425.7,150.5 426.9,151.3 428.1,152 428.7,152.4 430,153.2 431.3,153.9 432.6,154.6 433.9,155.3 434.7,155.7 436.1,156.4 437.5,157.1 439,157.8 440.5,158.5 442,159.1 443.6,159.8 445.2,160.4 446.8,161.1 447.7,161.5 449.3,162.1 450.9,162.7 452.7,163.3 454.4,163.9 455.7,164.4 457.1,164.8 458.9,165.4 460.7,166 461.6,166.3 463.5,166.9 465.4,167.5 466.4,167.7 468.3,168.3 470.2,168.9 471.2,169.1 473.2,169.7 474.9,170.2 476.2,170.5 478.2,171.1 479.2,171.3 481.3,171.9 482.6,172.2 484.4,172.7 486.3,173.1 487.5,173.4 489.6,174 490.7,174.2 492.8,174.7 493.9,175 496.1,175.5 497.2,175.7 499.3,176.3 500.4,176.5 502.6,177 503.7,177.3 506,177.8 507.1,178 509.3,178.5 510.5,178.7 511.6,179" fill="none" stroke="#3ceb00" stroke-width="1"/>
<polyline points="419.7,137.9 420.3,138.5 421,139.1 421.8,139.8 422.4,140.3 423.4,141.1 423.9,141.5 424.9,142.3 425.4,142.7 426.5,143.4 427.2,144 428.1,144.6 429.2,145.4 429.7,145.7 430.9,146.5 432,147.2 432.7,147.6 433.8,148.3 435.1,149.1 436.3,149.8 437,150.2 438.3,150.9 439.6,151.6 440.9,152.3 442.3,153 443.7,153.7 444.5,154.1 445.9,154.8 447.3,155.4 448.8,156.1 450.4,156.8 451.9,157.4 453.5,158.1 454.9,158.7 455.9,159.1 457.5,159.7 459.2,160.3 460.9,161 462.6,161.6 464.3,162.2 465.2,162.5 466.9,163.1 468.7,163.7 470.5,164.3 471.6,164.7 473.3,165.2 475.2,165.8 477,166.4 478,166.7 479.9,167.2 481.8,167.8 482.8,168.1 484.7,168.7 486.4,169.1 487.7,169.5 489.7,170 490.7,170.3 492.8,170.9 494.7,171.4 495.8,171.7 497.9,172.2 498.9,172.5 501,173 502.3,173.4 504.2,173.8 506,174.3 507.4,174.6 509.5,175.1 510.6,175.4 512.8,175.9 513.9,176.2 516.1,176.7 516.1,176.7" fill="none" stroke="#00e696" stroke-width="1"/>
<polyline points="425,135.8 426,136.5 426.5,137 427.4,137.7 428.2,138.3 428.9,138.8 430,139.6 430.5,140 431.6,140.7 432.4,141.3 433.2,141.9 434.3,142.6 434.9,143 436,143.7 437.2,144.4 438,145 439,145.5 440.2,146.3 441.5,147 442.1,147.3 443.4,148.1 444.7,148.8 446.1,149.5 447.4,150.2 448.8,150.9 449.5,151.2 450.9,151.9 452.4,152.6 453.8,153.2 455.3,153.9 456.8,154.6 458.4,155.2 459.9,155.9 461.5,156.5 463.1,157.2 464.7,157.8 466.4,158.5 467.2,158.8 468.9,159.4 470.6,160 472.3,160.6 474,161.3 475.6,161.8 476.7,162.2 478.5,162.8 480.3,163.4 482.1,164 483,164.3 484.9,164.9 486.8,165.4 487.7,165.7 489.6,166.3 491.5,166.9 492.8,167.2 494.5,167.7 496.4,168.3 497.5,168.6 499.4,169.1 501.4,169.7 502.4,170 504.4,170.5 506.1,171 507.5,171.4 509.6,171.9 510.6,172.2 512.7,172.7 514.1,173.1 515.9,173.5 517.9,174 519.1,174.3 520.1,174.6" fill="none" stroke="#64f000" stroke-width="1"/>
<polyline points="429.8,133.9 430.8,134.6 431.3,135 432.3,135.7 432.8,136.1 433.8,136.9 434.7,137.5 435.4,138 436.5,138.7 437,139.1 438.2,139.8 439.3,140.5 439.9,140.9 441,141.6 442.2,142.3 442.9,142.8 444,143.4 445.3,144.1 446.5,144.8 447.2,145.2 448.5,145.9 449.8,146.6 451.1,147.3 452.5,148 453.6,148.5 454.5,149 455.9,149.7 457.4,150.4 458.8,151 460.3,151.7 461.8,152.4 463.3,153 464.9,153.7 466.4,154.3 468,155 469.6,155.6 471.2,156.3 472.8,156.9 474.5,157.5 475.4,157.9 477,158.5 478.7,159.1 480.5,159.7 482.2,160.3 484,160.9 484.9,161.2 486.7,161.8 488.5,162.4 490.3,163 491.2,163.3 493.1,163.9 495,164.5 496.8,165.1 497.8,165.4 499.7,165.9 501.6,166.5 502.6,166.8 504.6,167.4 506.5,167.9 507.5,168.2 509.5,168.8 511.4,169.3 512.5,169.6 514.6,170.2 515.8,170.5 517.7,171 519.7,171.6 520.8,171.8 522.9,172.4 523.9,172.7" fill="none" stroke="#aaf500" stroke-width="1"/>
<line x1="340.9" y1="169.7" x2="334.8" y2="30" stroke="#4a4a4a" stroke-width="1"/>
<line x1="435" y1="131.8" x2="434.8" y2="6" stroke="#4a4a4a" stroke-width="1"/>
<line x1="528.1" y1="170.5" x2="533.6" y2="31.2" stroke="#4a4a4a" stroke-width="1"/>
<line x1="334.8" y1="30" x2="434.8" y2="6" stroke="#4a4a4a" stroke-width="1"/>
<line x1="434.8" y1="6" x2="533.6" y2="31.2" stroke="#4a4a4a" stroke-width="1"/>
<line x1="434" y1="218.9" x2="434.8" y2="220.2" stroke="#000" stroke-width="1"/>
<line x1="459.9" y1="205.6" x2="460.7" y2="206.9" stroke="#000" stroke-width="1"/>
<line x1="484.1" y1="193.1" x2="484.9" y2="194.4" stroke="#000" stroke-width="1"/>
<line x1="506.8" y1="181.5" x2="507.6" y2="182.8" stroke="#000" stroke-width="1"/>
<line x1="528.1" y1="170.5" x2="528.9" y2="171.8" stroke="#000" stroke-width="1"/>
<line x1="408.4" y1="205.4" x2="407.6" y2="206.7" stroke="#000" stroke-width="1"/>
<line x1="384.5" y1="192.7" x2="383.7" y2="194" stroke="#000" stroke-width="1"/>
<line x1="362" y1="180.8" x2="361.2" y2="182.1" stroke="#000" stroke-width="1"/>
<line x1="340.9" y1="169.7" x2="340.1" y2="171" stroke="#000" stroke-width="1"/>
<g transform="scale(0.1)" stroke="#000" stroke-width="4.6" stroke-linejoin="round"><path d="M4342 253l26-62-20 7-26 61z" fill="#ffd309"/><path d="M4362 248l26-62-20 5-26 62z" fill="#ffd009"/><path d="M4316 312l26-59-20 6-26 59z" fill="#ffe20c"/><path d="M4382 243l26-63-20 6-26 62z" fill="#ffcc08"/><path d="M4336 307l26-59-20 5-26 59z" fill="#ffdf0c"/><path d="M4290 369l26-57-20 6-26 56z" fill="#fff00f"/><path d="M4402 239l26-63-20 4-26 63z" fill="#ffc907"/><path d="M4356 303l26-60-20 5-26 59z" fill="#ffdc0b"/><path d="M4310 364l26-57-20 5-26 57z" fill="#ffed0e"/><path d="M4264 423l26-54-20 5-26 54z" fill="#f6f50f"/><path d="M4422 235l26-63-20 4-26 63z" fill="#ffc607"/><path d="M4376 299l26-60-20 4-26 60z" fill="#ffda0b"/><path d="M4330 360l26-57-20 4-26 57z" fill="#ffea0e"/><path d="M4284 419l26-55-20 5-26 54z" fill="#f8f40f"/><path d="M4443 231l26-63-21 4-26 63z" fill="#ffc306"/><path d="M4238 475l26-52-20 5-26 51z" fill="#edf90f"/><path d="M4396 295l26-60-20 4-26 60z" fill="#ffd70a"/><path d="M4350 357l26-58-20 4-26 57z" fill="#ffe80d"/><path d="M4304 415l26-55-20 4-26 55z" fill="#faf30f"/><path d="M4463 229l26-64-20 3-26 63z" fill="#ffc005"/><path d="M4257 471l27-52-20 4-26 52z" fill="#eff80f"/><path d="M4416 293l27-62-21 4-26 60z" fill="#ffd409"/><path d="M4211 525l27-50-20 4-26 50z" fill="#e5fa0f"/><path d="M4370 354l26-59-20 4-26 58z" fill="#ffe50d"/><path d="M4324 412l26-55-20 3-26 55z" fill="#fcf20f"/><path d="M4484 227l26-65-21 3-26 64z" fill="#ffbe05"/><path d="M4277 468l27-53-20 4-27 52z" fill="#f1f70f"/><path d="M4437 290l26-61-20 2-27 62z" fill="#ffd209"/><path d="M4231 521l26-50-19 4-27 50z" fill="#e7fa0f"/><path d="M4390 351l26-58-20 2-26 59z" fill="#ffe30c"/><path d="M4185 572l26-47-19 4-27 47z" fill="#ddfa0f"/><path d="M4344 410l26-56-20 3-26 55z" fill="#fdf10f"/><path d="M4505 225l26-65-21 2-26 65z" fill="#ffbc05"/><path d="M4297 465l27-53-20 3-27 53z" fill="#f3f60f"/><path d="M4458 289l26-62-21 2-26 61z" fill="#ffcf08"/><path d="M4251 518l26-50-20 3-26 50z" fill="#e9fa0f"/><path d="M4411 349l26-59-21 3-26 58z" fill="#ffe10c"/><path d="M4205 569l26-48-20 4-26 47z" fill="#dffa0f"/><path d="M4364 408l26-57-20 3-26 56z" fill="#fff00f"/><path d="M4525 224l27-65-21 1-26 65z" fill="#feba04"/><path d="M4158 617l27-45-20 4-26 44z" fill="#d5fa0f"/><path d="M4317 463l27-53-20 2-27 53z" fill="#f4f50f"/><path d="M4478 287l27-62-21 2-26 62z" fill="#ffcd08"/><path d="M4271 516l26-51-20 3-26 50z" fill="#eafa0f"/><path d="M4431 348l27-59-21 1-26 59z" fill="#ffdf0c"/><path d="M4224 566l27-48-20 3-26 48z" fill="#e1fa0f"/><path d="M4384 406l27-57-21 2-26 57z" fill="#ffee0f"/><path d="M4546 223l27-65-21 1-27 65z" fill="#feb804"/><path d="M4178 614l27-45-20 3-27 45z" fill="#d8fa0f"/><path d="M4337 462l27-54-20 2-27 53z" fill="#f6f50f"/><path d="M4499 287l26-63-20 1-27 62z" fill="#ffcb08"/><path d="M4132 659l26-42-19 3-27 42z" fill="#caf90f"/><path d="M4291 514l26-51-20 2-26 51z" fill="#ecf90f"/><path d="M4452 347l26-60-20 2-27 59z" fill="#ffdd0b"/><path d="M4244 564l27-48-20 2-27 48z" fill="#e3fa0f"/><path d="M4405 405l26-57-20 1-27 57z" fill="#ffec0e"/><path d="M4568 223l26-66-21 1-27 65z" fill="#feb704"/><path d="M4198 612l26-46-19 3-27 45z" fill="#dafa0f"/><path d="M4358 460l26-54-20 2-27 54z" fill="#f7f40f"/><path d="M4520 287l26-64-21 1-26 63z" fill="#ffc907"/><path d="M4151 657l27-43-20 3-26 42z" fill="#cdf90f"/><path d="M4311 513l26-51-20 1-26 51z" fill="#eef90f"/><path d="M4473 347l26-60-21 0-26 60z" fill="#ffdb0b"/><path d="M4105 699l27-40-20 3-26 40z" fill="#c0f80f"/><path d="M4264 563l27-49-20 2-27 48z" fill="#e4fa0f"/><path d="M4425 405l27-58-21 1-26 57z" fill="#ffea0e"/><path d="M4589 224l26-67-21 0-26 66z" fill="#fdb503"/><path d="M4218 610l26-46-20 2-26 46z" fill="#dbfa0f"/><path d="M4378 460l27-55-21 1-26 54z" fill="#f9f30f"/><path d="M4541 287l27-64-22 0-26 64z" fill="#ffc707"/><path d="M4171 655l27-43-20 2-27 43z" fill="#d0f90f"/><path d="M4331 512l27-52-21 2-26 51z" fill="#eff80f"/><path d="M4493 347l27-60-21 0-26 60z" fill="#ffd90a"/><path d="M4125 697l26-40-19 2-27 40z" fill="#c2f80f"/><path d="M4284 562l27-49-20 1-27 49z" fill="#e6fa0f"/><path d="M4446 405l27-58-21 0-27 58z" fill="#ffe90e"/><path d="M4078 737l27-38-19 3-27 37z" fill="#b6f70f"/><path d="M4610 225l27-67-22-1-26 67z" fill="#fdb403"/><path d="M4238 609l26-46-20 1-26 46z" fill="#ddfa0f"/><path d="M4399 460l26-55-20 0-27 55z" fill="#faf30f"/><path d="M4562 288l27-64-21-1-27 64z" fill="#ffc506"/><path d="M4191 654l27-44-20 2-27 43z" fill="#d2fa0f"/><path d="M4352 512l26-52-20 0-27 52z" fill="#f0f70f"/><path d="M4514 348l27-61-21 0-27 60z" fill="#ffd80a"/><path d="M4144 696l27-41-20 2-26 40z" fill="#c5f80f"/><path d="M4305 562l26-50-20 1-27 49z" fill="#e7fa0f"/><path d="M4467 406l26-59-20 0-27 58z" fill="#ffe70d"/><path d="M4098 736l27-39-20 2-27 38z" fill="#b9f70f"/><path d="M4632 227l26-68-21-1-27 67z" fill="#fdb303"/><path d="M4258 609l26-47-20 1-26 46z" fill="#defa0f"/><path d="M4419 460l27-55-21 0-26 55z" fill="#fbf20f"/><path d="M4051 773l27-36-19 2-27 35z" fill="#adf60f"/><path d="M4583 290l27-65-21-1-27 64z" fill="#ffc406"/><path d="M4211 653l27-44-20 1-27 44z" fill="#d5fa0f"/><path d="M4372 513l27-53-21 0-26 52z" fill="#f1f70f"/><path d="M4536 350l26-62-21-1-27 61z" fill="#ffd60a"/><path d="M4164 695l27-41-20 1-27 41z" fill="#c8f80f"/><path d="M4325 562l27-50-21 0-26 50z" fill="#e8fa0f"/><path d="M4488 407l26-59-21-1-26 59z" fill="#ffe60d"/><path d="M4117 734l27-38-19 1-27 39z" fill="#bbf70f"/><path d="M4653 229l27-68-22-2-26 68z" fill="#fdb203"/><path d="M4278 609l27-47-21 0-26 47z" fill="#dffa0f"/><path d="M4440 462l27-56-21-1-27 55z" fill="#fcf10f"/><path d="M4071 771l27-35-20 1-27 36z" fill="#b0f60f"/><path d="M4605 292l27-65-22-2-27 65z" fill="#ffc306"/><path d="M4231 653l27-44-20 0-27 44z" fill="#d7fa0f"/><path d="M4393 513l26-53-20 0-27 53z" fill="#f3f60f"/><path d="M4024 806l27-33-19 1-27 33z" fill="#a4f30f"/><path d="M4557 352l26-62-21-2-26 62z" fill="#ffd50a"/><path d="M4184 695l27-42-20 1-27 41z" fill="#caf90f"/><path d="M4345 563l27-50-20-1-27 50z" fill="#e9fa0f"/><path d="M4509 409l27-59-22-2-26 59z" fill="#ffe40d"/><path d="M4137 734l27-39-20 1-27 38z" fill="#bef70f"/><path d="M4675 232l27-68-22-3-27 68z" fill="#fcb102"/><path d="M4298 609l27-47-20 0-27 47z" fill="#e1fa0f"/><path d="M4461 463l27-56-21-1-27 56z" fill="#fdf10f"/><path d="M4090 771l27-37-19 2-27 35z" fill="#b2f60f"/><path d="M4626 295l27-66-21-2-27 65z" fill="#ffc206"/><path d="M4251 653l27-44-20 0-27 44z" fill="#d8fa0f"/><path d="M4413 515l27-53-21-2-26 53z" fill="#f4f60f"/><path d="M4043 805l28-34-20 2-27 33z" fill="#a8f50f"/><path d="M4578 354l27-62-22-2-26 62z" fill="#ffd409"/><path d="M4204 695l27-42-20 0-27 42z" fill="#ccf90f"/><path d="M4366 564l27-51-21 0-27 50z" fill="#eafa0f"/><path d="M3996 836l28-30-19 1-28 30z" fill="#97e90e"/><path d="M4530 411l27-59-21-2-27 59z" fill="#ffe30c"/><path d="M4157 734l27-39-20 0-27 39z" fill="#c0f80f"/><path d="M4697 236l26-69-21-3-27 68z" fill="#fcb002"/><path d="M4319 611l26-48-20-1-27 47z" fill="#e2fa0f"/><path d="M4482 465l27-56-21-2-27 56z" fill="#fef10f"/><path d="M4110 770l27-36-20 0-27 37z" fill="#b5f70f"/><path d="M4648 298l27-66-22-3-27 66z" fill="#ffc106"/><path d="M4271 654l27-45-20 0-27 44z" fill="#dafa0f"/><path d="M4434 517l27-54-21-1-27 53z" fill="#f4f50f"/><path d="M4063 804l27-33-19 0-28 34z" fill="#aaf60f"/><path d="M4600 357l26-62-21-3-27 62z" fill="#ffd309"/><path d="M4224 696l27-43-20 0-27 42z" fill="#cef90f"/><path d="M4387 566l26-51-20-2-27 51z" fill="#ebfa0f"/><path d="M4016 836l27-31-19 1-28 30z" fill="#a0f50f"/><path d="M4551 414l27-60-21-2-27 59z" fill="#ffe20c"/><path d="M4177 734l27-39-20 0-27 39z" fill="#c2f80f"/><path d="M4719 240l26-69-22-4-26 69z" fill="#fcb002"/><path d="M4339 612l27-48-21-1-26 48z" fill="#e3fa0f"/><path d="M3969 864l27-28-19 1-27 28z" fill="#8adf0e"/><path d="M4503 468l27-57-21-2-27 56z" fill="#fff00f"/><path d="M4130 771l27-37-20 0-27 36z" fill="#b7f70f"/><path d="M4670 302l27-66-22-4-27 66z" fill="#ffc005"/><path d="M4292 656l27-45-21-2-27 45z" fill="#dbfa0f"/><path d="M4455 520l27-55-21-2-27 54z" fill="#f5f50f"/><path d="M4082 804l28-34-20 1-27 33z" fill="#adf60f"/><path d="M4621 361l27-63-22-3-26 62z" fill="#ffd209"/><path d="M4244 697l27-43-20-1-27 43z" fill="#d0f90f"/><path d="M4408 568l26-51-21-2-26 51z" fill="#ecf90f"/><path d="M4035 835l28-31-20 1-27 31z" fill="#a3f50f"/><path d="M4573 418l27-61-22-3-27 60z" fill="#ffe10c"/><path d="M4197 736l27-40-20-1-27 39z" fill="#c4f80f"/><path d="M4741 244l27-69-23-4-26 69z" fill="#fcaf02"/><path d="M4360 614l27-48-21-2-27 48z" fill="#e4fa0f"/><path d="M3988 864l28-28-20 0-27 28z" fill="#95ec0f"/><path d="M4525 472l26-58-21-3-27 57z" fill="#fff00f"/><path d="M4150 772l27-38-20 0-27 37z" fill="#b9f70f"/><path d="M4692 306l27-66-22-4-27 66z" fill="#ffbf05"/><path d="M4312 658l27-46-20-1-27 45z" fill="#dcfa0f"/><path d="M3941 890l28-26-19 1-28 26z" fill="#7ed20d"/><path d="M4476 523l27-55-21-3-27 55z" fill="#f6f50f"/><path d="M4102 805l28-34-20-1-28 34z" fill="#aff60f"/><path d="M4643 366l27-64-22-4-27 63z" fill="#ffd109"/><path d="M4265 699l27-43-21-2-27 43z" fill="#d2fa0f"/><path d="M4428 571l27-51-21-3-26 51z" fill="#edf90f"/><path d="M4055 836l27-32-19 0-28 31z" fill="#a5f50f"/><path d="M4594 422l27-61-21-4-27 61z" fill="#ffe10c"/><path d="M4217 737l27-40-20-1-27 40z" fill="#c6f80f"/><path d="M4763 250l27-70-22-5-27 69z" fill="#fcaf02"/><path d="M4381 617l27-49-21-2-27 48z" fill="#e4fa0f"/><path d="M4008 864l27-29-19 1-28 28z" fill="#9cf40f"/><path d="M4546 476l27-58-22-4-26 58z" fill="#ffef0f"/><path d="M4170 773l27-37-20-2-27 38z" fill="#bbf70f"/><path d="M4714 311l27-67-22-4-27 66z" fill="#ffbf05"/><path d="M4333 661l27-47-21-2-27 46z" fill="#dcfa0f"/><path d="M3960 890l28-26-19 0-28 26z" fill="#88e00e"/><path d="M4498 527l27-55-22-4-27 55z" fill="#f6f40f"/><path d="M4122 806l28-34-20-1-28 34z" fill="#b1f60f"/><path d="M4665 370l27-64-22-4-27 64z" fill="#ffd109"/><path d="M4285 701l27-43-20-2-27 43z" fill="#d4fa0f"/><path d="M3913 914l28-24-19 1-28 23z" fill="#72c50c"/><path d="M4450 575l26-52-21-3-27 51z" fill="#eef90f"/><path d="M4075 837l27-32-20-1-27 32z" fill="#a7f50f"/><path d="M4616 427l27-61-22-5-27 61z" fill="#ffe00c"/><path d="M4237 739l28-40-21-2-27 40z" fill="#c8f80f"/><path d="M4785 256l27-71-22-5-27 70z" fill="#fcaf02"/><path d="M4401 621l27-50-20-3-27 49z" fill="#e5fa0f"/><path d="M4027 865l28-29-20-1-27 29z" fill="#9ef40f"/><path d="M4567 480l27-58-21-4-27 58z" fill="#ffee0f"/><path d="M4190 775l27-38-20-1-27 37z" fill="#bdf70f"/><path d="M4736 317l27-67-22-6-27 67z" fill="#ffbf05"/><path d="M4354 664l27-47-21-3-27 47z" fill="#ddfa0f"/><path d="M3980 891l28-27-20 0-28 26z" fill="#93ee0f"/><path d="M4519 531l27-55-21-4-27 55z" fill="#f7f40f"/><path d="M4142 808l28-35-20-1-28 34z" fill="#b3f60f"/><path d="M4687 376l27-65-22-5-27 64z" fill="#ffd109"/><path d="M4306 704l27-43-21-3-27 43z" fill="#d5fa0f"/><path d="M3932 914l28-24-19 0-28 24z" fill="#7cd30d"/><path d="M4471 579l27-52-22-4-26 52z" fill="#eef80f"/><path d="M4095 838l27-32-20-1-27 32z" fill="#a9f50f"/><path d="M4638 432l27-62-22-4-27 61z" fill="#ffe00c"/><path d="M4258 742l27-41-20-2-28 40z" fill="#c9f90f"/><path d="M3885 935l28-21-19 0-28 21z" fill="#66b40b"/><path d="M4807 262l27-71-22-6-27 71z" fill="#fcaf02"/><path d="M4422 625l28-50-22-4-27 50z" fill="#e6fa0f"/><path d="M4047 866l28-29-20-1-28 29z" fill="#a0f50f"/><path d="M4589 485l27-58-22-5-27 58z" fill="#ffee0f"/><path d="M4210 777l27-38-20-2-27 38z" fill="#bef80f"/><path d="M4758 324l27-68-22-6-27 67z" fill="#ffbf05"/><path d="M4374 668l27-47-20-4-27 47z" fill="#defa0f"/><path d="M3999 892l28-27-19-1-28 27z" fill="#99f40f"/><path d="M4540 536l27-56-21-4-27 55z" fill="#f7f40f"/><path d="M4162 810l28-35-20-2-28 35z" fill="#b4f70f"/><path d="M4709 382l27-65-22-6-27 65z" fill="#ffd009"/><path d="M4326 708l28-44-21-3-27 43z" fill="#d6fa0f"/><path d="M3952 915l28-24-20-1-28 24z" fill="#86e10e"/><path d="M4492 584l27-53-21-4-27 52z" fill="#eff80f"/><path d="M4115 841l27-33-20-2-27 32z" fill="#abf60f"/><path d="M4660 438l27-62-22-6-27 62z" fill="#ffe00c"/><path d="M4278 746l28-42-21-3-27 41z" fill="#cbf90f"/><path d="M3904 935l28-21-19 0-28 21z" fill="#70c30c"/><path d="M4830 269l27-71-23-7-27 71z" fill="#fcaf02"/><path d="M4444 629l27-50-21-4-28 50z" fill="#e6fa0f"/><path d="M4067 868l28-30-20-1-28 29z" fill="#a2f50f"/><path d="M4611 491l27-59-22-5-27 58z" fill="#ffee0f"/><path d="M4230 781l28-39-21-3-27 38z" fill="#c0f80f"/><path d="M3856 953l29-18-19 0-29 18z" fill="#5aa30a"/><path d="M4780 330l27-68-22-6-27 68z" fill="#ffbf05"/><path d="M4395 672l27-47-21-4-27 47z" fill="#defa0f"/><path d="M4019 893l28-27-20-1-28 27z" fill="#9bf40f"/><path d="M4562 542l27-57-22-5-27 56z" fill="#f8f40f"/><path d="M4183 813l27-36-20-2-28 35z" fill="#b6f70f"/><path d="M4731 389l27-65-22-7-27 65z" fill="#ffd009"/><path d="M4347 712l27-44-20-4-28 44z" fill="#d7fa0f"/><path d="M3971 916l28-24-19-1-28 24z" fill="#92ef0f"/><path d="M4513 589l27-53-21-5-27 53z" fill="#eff80f"/><path d="M4135 843l27-33-20-2-27 33z" fill="#acf60f"/><path d="M4682 445l27-63-22-6-27 62z" fill="#ffe00c"/><path d="M4299 749l27-41-20-4-28 42z" fill="#ccf90f"/><path d="M3924 936l28-21-20-1-28 21z" fill="#7ad30d"/><path d="M4852 277l28-72-23-7-27 71z" fill="#fcaf02"/><path d="M4465 634l27-50-21-5-27 50z" fill="#e7fa0f"/><path d="M4087 871l28-30-20-3-28 30z" fill="#a4f50f"/><path d="M4633 498l27-60-22-6-27 59z" fill="#ffed0e"/><path d="M4251 784l27-38-20-4-28 39z" fill="#c1f80f"/><path d="M3876 954l28-19-19 0-29 18z" fill="#64b20b"/><path d="M4803 338l27-69-23-7-27 68z" fill="#ffbf05"/><path d="M4416 677l28-48-22-4-27 47z" fill="#dffa0f"/><path d="M4039 896l28-28-20-2-28 27z" fill="#9cf40f"/><path d="M4584 548l27-57-22-6-27 57z" fill="#f8f40f"/><path d="M4203 817l27-36-20-4-27 36z" fill="#b7f70f"/><path d="M3828 969l28-16-19 0-28 16z" fill="#4d8e09"/><path d="M4753 396l27-66-22-6-27 65z" fill="#ffd109"/><path d="M4368 717l27-45-21-4-27 44z" fill="#d8fa0f"/><path d="M3991 918l28-25-20-1-28 24z" fill="#95f30f"/><path d="M4535 595l27-53-22-6-27 53z" fill="#eff80f"/><path d="M4155 846l28-33-21-3-27 33z" fill="#aef60f"/><path d="M4704 452l27-63-22-7-27 63z" fill="#ffe00c"/><path d="M4320 754l27-42-21-4-27 41z" fill="#cdf90f"/><path d="M3943 938l28-22-19-1-28 21z" fill="#85e20e"/><path d="M4875 285l27-72-22-8-28 72z" fill="#fcb002"/><path d="M4486 640l27-51-21-5-27 50z" fill="#e7fa0f"/><path d="M4107 874l28-31-20-2-28 30z" fill="#a6f50f"/><path d="M4655 505l27-60-22-7-27 60z" fill="#ffed0e"/><path d="M4272 789l27-40-21-3-27 38z" fill="#c2f80f"/><path d="M3895 956l29-20-20-1-28 19z" fill="#6ec10c"/><path d="M4825 346l27-69-22-8-27 69z" fill="#ffc005"/><path d="M4438 682l27-48-21-5-28 48z" fill="#dffa0f"/><path d="M4059 898l28-27-20-3-28 28z" fill="#9ef40f"/><path d="M4605 555l28-57-22-7-27 57z" fill="#f8f40f"/><path d="M4223 821l28-37-21-3-27 36z" fill="#b8f70f"/><path d="M3847 971l29-17-20-1-28 16z" fill="#579e0a"/><path d="M4775 404l28-66-23-8-27 66z" fill="#ffd109"/><path d="M4389 722l27-45-21-5-27 45z" fill="#d8fa0f"/><path d="M4011 921l28-25-20-3-28 25z" fill="#97f40f"/><path d="M4557 602l27-54-22-6-27 53z" fill="#eff80f"/><path d="M4175 850l28-33-20-4-28 33z" fill="#aff60f"/><path d="M3799 983l29-14-19 0-29 13z" fill="#407707"/><path d="M4726 460l27-64-22-7-27 63z" fill="#ffe00c"/><path d="M4341 759l27-42-21-5-27 42z" fill="#cdf90f"/><path d="M3963 940l28-22-20-2-28 22z" fill="#90f10f"/><path d="M4898 294l27-72-23-9-27 72z" fill="#fcb102"/><path d="M4508 647l27-52-22-6-27 51z" fill="#e7fa0f"/><path d="M4127 877l28-31-20-3-28 31z" fill="#a7f50f"/><path d="M4677 512l27-60-22-7-27 60z" fill="#ffee0f"/><path d="M4292 794l28-40-21-5-27 40z" fill="#c3f80f"/><path d="M3915 958l28-20-19-2-29 20z" fill="#79d10d"/><path d="M4848 355l27-70-23-8-27 69z" fill="#ffc005"/><path d="M4459 689l27-49-21-6-27 48z" fill="#dffa0f"/><path d="M4079 902l28-28-20-3-28 27z" fill="#9ff40f"/><path d="M4627 562l28-57-22-7-28 57z" fill="#f8f40f"/><path d="M4244 825l28-36-21-5-28 37z" fill="#b9f70f"/><path d="M3866 972l29-16-19-2-29 17z" fill="#61ae0b"/><path d="M4798 413l27-67-22-8-28 66z" fill="#ffd109"/><path d="M4410 728l28-46-22-5-27 45z" fill="#d8fa0f"/><path d="M4031 924l28-26-20-2-28 25z" fill="#99f40f"/><path d="M4578 609l27-54-21-7-27 54z" fill="#eff80f"/><path d="M4196 855l27-34-20-4-28 33z" fill="#b0f60f"/><path d="M3818 985l29-14-19-2-29 14z" fill="#4a8808"/><path d="M4748 468l27-64-22-8-27 64z" fill="#ffe00c"/><path d="M4362 765l27-43-21-5-27 42z" fill="#cef90f"/><path d="M3983 943l28-22-20-3-28 22z" fill="#93f30f"/><path d="M4921 304l27-73-23-9-27 72z" fill="#fcb102"/><path d="M4529 654l28-52-22-7-27 52z" fill="#e7fa0f"/><path d="M4148 881l27-31-20-4-28 31z" fill="#a8f50f"/><path d="M3770 994l29-11-19-1-29 11z" fill="#325d06"/><path d="M4699 520l27-60-22-8-27 60z" fill="#ffee0f"/><path d="M4313 799l28-40-21-5-28 40z" fill="#c4f80f"/><path d="M3934 960l29-20-20-2-28 20z" fill="#84e10e"/><path d="M4871 364l27-70-23-9-27 70z" fill="#ffc106"/><path d="M4480 695l28-48-22-7-27 49z" fill="#e0fa0f"/><path d="M4099 906l28-29-20-3-28 28z" fill="#a1f50f"/><path d="M4649 570l28-58-22-7-28 57z" fill="#f8f40f"/><path d="M4265 831l27-37-20-5-28 36z" fill="#baf70f"/><path d="M3886 975l29-17-20-2-29 16z" fill="#6cbe0c"/><path d="M4821 422l27-67-23-9-27 67z" fill="#ffd209"/><path d="M4432 735l27-46-21-7-28 46z" fill="#d8fa0f"/><path d="M4051 927l28-25-20-4-28 26z" fill="#9af40f"/><path d="M4600 617l27-55-22-7-27 54z" fill="#eff80f"/><path d="M4216 860l28-35-21-4-27 34z" fill="#b1f60f"/><path d="M3837 986l29-14-19-1-29 14z" fill="#549909"/><path d="M4771 477l27-64-23-9-27 64z" fill="#ffe10c"/><path d="M4383 771l27-43-21-6-27 43z" fill="#cef90f"/><path d="M4002 947l29-23-20-3-28 22z" fill="#94f30f"/><path d="M4944 314l27-73-23-10-27 73z" fill="#fdb203"/><path d="M4551 661l27-52-21-7-28 52z" fill="#e7fa0f"/><path d="M4168 886l28-31-21-5-27 31z" fill="#a9f50f"/><path d="M3789 996l29-11-19-2-29 11z" fill="#3c6f07"/><path d="M4721 529l27-61-22-8-27 60z" fill="#ffee0f"/><path d="M4334 805l28-40-21-6-28 40z" fill="#c4f80f"/><path d="M3954 963l29-20-20-3-29 20z" fill="#8ef10f"/><path d="M4893 375l28-71-23-10-27 70z" fill="#ffc206"/><path d="M4502 703l27-49-21-7-28 48z" fill="#e0fa0f"/><path d="M4120 910l28-29-21-4-28 29z" fill="#a2f50f"/><path d="M3740 1003l30-9-19-1-30 8z" fill="#234104"/><path d="M4672 579l27-59-22-8-28 58z" fill="#f7f40f"/><path d="M4286 836l27-37-21-5-27 37z" fill="#bbf70f"/><path d="M3906 977l28-17-19-2-29 17z" fill="#77cf0d"/><path d="M4843 432l28-68-23-9-27 67z" fill="#ffd309"/><path d="M4453 742l27-47-21-6-27 46z" fill="#d9fa0f"/><path d="M4071 932l28-26-20-4-28 25z" fill="#9bf40f"/><path d="M4622 625l27-55-22-8-27 55z" fill="#eff80f"/><path d="M4237 865l28-34-21-6-28 35z" fill="#b2f60f"/><path d="M3857 989l29-14-20-3-29 14z" fill="#5ea90a"/><path d="M4793 487l28-65-23-9-27 64z" fill="#ffe20c"/><path d="M4404 778l28-43-22-7-27 43z" fill="#cff90f"/><path d="M4023 951l28-24-20-3-29 23z" fill="#96f30f"/><path d="M4967 325l27-74-23-10-27 73z" fill="#fdb303"/><path d="M4573 669l27-52-22-8-27 52z" fill="#e7fa0f"/><path d="M4189 892l27-32-20-5-28 31z" fill="#aaf50f"/><path d="M3808 998l29-12-19-1-29 11z" fill="#468008"/><path d="M4743 539l28-62-23-9-27 61z" fill="#ffef0f"/><path d="M4355 812l28-41-21-6-28 40z" fill="#c4f80f"/><path d="M3974 967l28-20-19-4-29 20z" fill="#91f30f"/><path d="M4916 385l28-71-23-10-28 71z" fill="#ffc306"/><path d="M4524 711l27-50-22-7-27 49z" fill="#e0fa0f"/><path d="M4140 915l28-29-20-5-28 29z" fill="#a3f50f"/><path d="M3759 1005l30-9-19-2-30 9z" fill="#2d5305"/><path d="M4694 588l27-59-22-9-27 59z" fill="#f7f40f"/><path d="M4307 843l27-38-21-6-27 37z" fill="#bbf70f"/><path d="M3925 981l29-18-20-3-28 17z" fill="#81e00e"/><path d="M4866 443l27-68-22-11-28 68z" fill="#ffd409"/><path d="M4475 749l27-46-22-8-27 47z" fill="#d9fa0f"/><path d="M4091 936l29-26-21-4-28 26z" fill="#9cf40f"/><path d="M3710 1009l30-6-19-2-30 6z" fill="#132302"/><path d="M4644 634l28-55-23-9-27 55z" fill="#eff80f"/><path d="M4258 871l28-35-21-5-28 34z" fill="#b2f60f"/><path d="M3877 992l29-15-20-2-29 14z" fill="#69ba0c"/><path d="M4816 497l27-65-22-10-28 65z" fill="#ffe20c"/><path d="M4426 785l27-43-21-7-28 43z" fill="#cff90f"/><path d="M4043 955l28-23-20-5-28 24z" fill="#97f40f"/><path d="M4990 337l28-75-24-11-27 74z" fill="#fdb503"/><path d="M4595 678l27-53-22-8-27 52z" fill="#e7fa0f"/><path d="M4209 897l28-32-21-5-27 32z" fill="#aaf60f"/><path d="M3828 1001l29-12-20-3-29 12z" fill="#509109"/><path d="M4766 549l27-62-22-10-28 62z" fill="#fff00f"/><path d="M4377 819l27-41-21-7-28 41z" fill="#c5f80f"/><path d="M3994 971l29-20-21-4-28 20z" fill="#92f30f"/><path d="M4939 397l28-72-23-11-28 71z" fill="#ffc506"/><path d="M4546 719l27-50-22-8-27 50z" fill="#dffa0f"/><path d="M4161 921l28-29-21-6-28 29z" fill="#a3f50f"/><path d="M3779 1007l29-9-19-2-30 9z" fill="#376506"/><path d="M4716 598l27-59-22-10-27 59z" fill="#f7f40f"/><path d="M4328 850l27-38-21-7-27 38z" fill="#bbf70f"/><path d="M3945 985l29-18-20-4-29 18z" fill="#8cf00f"/><path d="M4889 454l27-69-23-10-27 68z" fill="#ffd50a"/><path d="M4496 758l28-47-22-8-27 46z" fill="#d8fa0f"/><path d="M4112 942l28-27-20-5-29 26z" fill="#9df40f"/><path d="M3730 1011l29-6-19-2-30 6z" fill="#1d3503"/><path d="M4666 644l28-56-22-9-28 55z" fill="#eef80f"/><path d="M4279 878l28-35-21-7-28 35z" fill="#b3f60f"/><path d="M3896 996l29-15-19-4-29 15z" fill="#74cb0d"/><path d="M4839 508l27-65-23-11-27 65z" fill="#ffe30c"/><path d="M4447 794l28-45-22-7-27 43z" fill="#cff90f"/><path d="M4063 960l28-24-20-4-28 23z" fill="#98f40f"/><path d="M5014 349l27-75-23-12-28 75z" fill="#fdb603"/><path d="M3680 1012l30-3-19-2-30 4z" fill="#010300"/><path d="M4617 688l27-54-22-9-27 53z" fill="#e6fa0f"/><path d="M4230 904l28-33-21-6-28 32z" fill="#abf60f"/><path d="M3847 1004l30-12-20-3-29 12z" fill="#5ba30a"/><path d="M4789 559l27-62-23-10-27 62z" fill="#fff00f"/><path d="M4398 827l28-42-22-7-27 41z" fill="#c5f80f"/><path d="M4014 976l29-21-20-4-29 20z" fill="#93f30f"/><path d="M4963 409l27-72-23-12-28 72z" fill="#ffc607"/><path d="M4567 728l28-50-22-9-27 50z" fill="#dffa0f"/><path d="M4181 927l28-30-20-5-28 29z" fill="#a4f50f"/><path d="M3798 1010l30-9-20-3-29 9z" fill="#427607"/><path d="M4739 608l27-59-23-10-27 59z" fill="#f6f50f"/><path d="M4349 858l28-39-22-7-27 38z" fill="#bbf70f"/><path d="M3965 989l29-18-20-4-29 18z" fill="#8ff30f"/><path d="M4912 465l27-68-23-12-27 69z" fill="#ffd70a"/><path d="M4518 767l28-48-22-8-28 47z" fill="#d8fa0f"/><path d="M4132 948l29-27-21-6-28 27z" fill="#9ef40f"/><path d="M3749 1014l30-7-20-2-29 6z" fill="#274704"/><path d="M4689 654l27-56-22-10-28 56z" fill="#eef90f"/><path d="M4300 886l28-36-21-7-28 35z" fill="#b3f60f"/><path d="M3916 1000l29-15-20-4-29 15z" fill="#7fdc0e"/><path d="M4862 520l27-66-23-11-27 65z" fill="#ffe40d"/><path d="M4469 802l27-44-21-9-28 45z" fill="#cef90f"/><path d="M4083 966l29-24-21-6-28 24z" fill="#98f40f"/><path d="M5037 362l28-76-24-12-27 75z" fill="#feb704"/><path d="M3700 1015l30-4-20-2-30 3z" fill="#0b1501"/><path d="M4639 698l27-54-22-10-27 54z" fill="#e6fa0f"/><path d="M4251 911l28-33-21-7-28 33z" fill="#abf60f"/><path d="M3867 1008l29-12-19-4-30 12z" fill="#66b40b"/><path d="M4811 571l28-63-23-11-27 62z" fill="#fef10f"/><path d="M4420 835l27-41-21-9-28 42z" fill="#c4f80f"/><path d="M4034 981l29-21-20-5-29 21z" fill="#94f30f"/><path d="M4986 421l28-72-24-12-27 72z" fill="#ffc807"/><path d="M3650 1013l30-1-19-1-30 0z" fill="#000"/><path d="M4589 738l28-50-22-10-28 50z" fill="#dffa0f"/><path d="M4202 934l28-30-21-7-28 30z" fill="#a4f50f"/><path d="M3818 1014l29-10-19-3-30 9z" fill="#4d8808"/><path d="M4761 619l28-60-23-10-27 59z" fill="#f5f50f"/><path d="M4370 866l28-39-21-8-28 39z" fill="#bbf70f"/><path d="M3985 995l29-19-20-5-29 18z" fill="#90f30f"/><path d="M4935 478l28-69-24-12-27 68z" fill="#ffd80a"/><path d="M4540 776l27-48-21-9-28 48z" fill="#d8fa0f"/><path d="M4153 954l28-27-20-6-29 27z" fill="#9ef40f"/><path d="M3768 1017l30-7-19-3-30 7z" fill="#325906"/><path d="M4711 665l28-57-23-10-27 56z" fill="#edf90f"/><path d="M4321 894l28-36-21-8-28 36z" fill="#b3f60f"/><path d="M3936 1005l29-16-20-4-29 15z" fill="#8aee0f"/><path d="M4885 532l27-67-23-11-27 66z" fill="#ffe60d"/><path d="M4491 812l27-45-22-9-27 44z" fill="#cef90f"/><path d="M4104 972l28-24-20-6-29 24z" fill="#99f40f"/><path d="M5060 375l28-76-23-13-28 76z" fill="#feb904"/><path d="M3719 1018l30-4-19-3-30 4z" fill="#162702"/><path d="M4661 708l28-54-23-10-27 54z" fill="#e5fa0f"/><path d="M4272 919l28-33-21-8-28 33z" fill="#abf60f"/><path d="M3887 1013l29-13-20-4-29 12z" fill="#71c60c"/><path d="M4834 583l28-63-23-12-28 63z" fill="#fdf10f"/><path d="M4441 844l28-42-22-8-27 41z" fill="#c4f80f"/><path d="M4055 988l28-22-20-6-29 21z" fill="#94f30f"/><path d="M5009 435l28-73-23-13-28 72z" fill="#ffca07"/><path d="M3669 1016l31-1-20-3-30 1z" fill="#000"/><path d="M4612 749l27-51-22-10-28 50z" fill="#defa0f"/><path d="M4223 941l28-30-21-7-28 30z" fill="#a5f50f"/><path d="M3838 1018l29-10-20-4-29 10z" fill="#579a0a"/><path d="M4784 631l27-60-22-12-28 60z" fill="#f5f50f"/><path d="M4392 875l28-40-22-8-28 39z" fill="#bbf70f"/><path d="M4006 1000l28-19-20-5-29 19z" fill="#91f30f"/><path d="M4958 491l28-70-23-12-28 69z" fill="#ffda0b"/><path d="M3619 1012l31 1-19-2-31-2z" fill="#000"/><path d="M4562 787l27-49-22-10-27 48z" fill="#d7fa0f"/><path d="M4174 962l28-28-21-7-28 27z" fill="#9ff40f"/><path d="M3788 1021l30-7-20-4-30 7z" fill="#3c6b07"/><path d="M4734 677l27-58-22-11-28 57z" fill="#ecf90f"/><path d="M4343 902l27-36-21-8-28 36z" fill="#b3f60f"/><path d="M3956 1010l29-15-20-6-29 16z" fill="#8ef30f"/><path d="M4908 545l27-67-23-13-27 67z" fill="#ffe70d"/><path d="M4512 822l28-46-22-9-27 45z" fill="#cdf90f"/><path d="M4125 979l28-25-21-6-28 24z" fill="#99f40f"/><path d="M5084 389l28-76-24-14-28 76z" fill="#febb04"/><path d="M3738 1022l30-5-19-3-30 4z" fill="#203904"/><path d="M4684 720l27-55-22-11-28 54z" fill="#e5fa0f"/><path d="M4293 927l28-33-21-8-28 33z" fill="#abf60f"/><path d="M3907 1018l29-13-20-5-29 13z" fill="#7cd70d"/><path d="M4857 595l28-63-23-12-28 63z" fill="#fcf10f"/><path d="M4463 854l28-42-22-10-28 42z" fill="#c4f80f"/><path d="M4075 994l29-22-21-6-28 22z" fill="#95f30f"/><path d="M5033 449l27-74-23-13-28 73z" fill="#ffcc08"/><path d="M3689 1019l30-1-19-3-31 1z" fill="#030500"/><path d="M4634 760l27-52-22-10-27 51z" fill="#defa0f"/><path d="M4244 950l28-31-21-8-28 30z" fill="#a5f50f"/><path d="M3857 1023l30-10-20-5-29 10z" fill="#62ac0b"/><path d="M4807 644l27-61-23-12-27 60z" fill="#f4f60f"/><path d="M4413 884l28-40-21-9-28 40z" fill="#bbf70f"/><path d="M4026 1007l29-19-21-7-28 19z" fill="#91f30f"/><path d="M4982 505l27-70-23-14-28 70z" fill="#ffdb0b"/><path d="M3639 1015l30 1-19-3-31-1z" fill="#000"/><path d="M4584 797l28-48-23-11-27 49z" fill="#d7fa0f"/><path d="M4195 969l28-28-21-7-28 28z" fill="#9ff40f"/><path d="M3808 1026l30-8-20-4-30 7z" fill="#477d08"/><path d="M4756 689l28-58-23-12-27 58z" fill="#ecfa0f"/><path d="M4364 911l28-36-22-9-27 36z" fill="#b3f60f"/><path d="M3977 1017l29-17-21-5-29 15z" fill="#8ef30f"/><path d="M4931 558l27-67-23-13-27 67z" fill="#ffe90e"/><path d="M3588 1007l31 5-19-3-31-4z" fill="#000"/><path d="M4534 832l28-45-22-11-28 46z" fill="#cdf90f"/><path d="M4145 987l29-25-21-8-28 25z" fill="#9af40f"/><path d="M5108 404l28-76-24-15-28 76z" fill="#ffbd05"/><path d="M3758 1026l30-5-20-4-30 5z" fill="#2b4b05"/><path d="M4706 732l28-55-23-12-27 55z" fill="#e4fa0f"/><path d="M4315 936l28-34-22-8-28 33z" fill="#abf60f"/><path d="M3927 1024l29-14-20-5-29 13z" fill="#87ea0e"/><path d="M4880 609l28-64-23-13-28 63z" fill="#fbf20f"/><path d="M4485 865l27-43-21-10-28 42z" fill="#c3f80f"/><path d="M4096 1001l29-22-21-7-29 22z" fill="#95f30f"/><path d="M5056 463l28-74-24-14-27 74z" fill="#ffce08"/><path d="M3708 1023l30-1-19-4-30 1z" fill="#0d1701"/><path d="M4656 772l28-52-23-12-27 52z" fill="#ddfa0f"/><path d="M4265 958l28-31-21-8-28 31z" fill="#a5f50f"/><path d="M3877 1029l30-11-20-5-30 10z" fill="#6dbe0c"/><path d="M4829 657l28-62-23-12-27 61z" fill="#f3f60f"/><path d="M4435 894l28-40-22-10-28 40z" fill="#baf70f"/><path d="M4046 1014l29-20-20-6-29 19z" fill="#92f30f"/><path d="M5005 519l28-70-24-14-27 70z" fill="#ffdd0b"/><path d="M3658 1018l31 1-20-3-30-1z" fill="#000"/><path d="M4606 809l28-49-22-11-28 48z" fill="#d6fa0f"/><path d="M4216 978l28-28-21-9-28 28z" fill="#9ff40f"/><path d="M3828 1031l29-8-19-5-30 8z" fill="#529009"/><path d="M4779 702l28-58-23-13-28 58z" fill="#ebfa0f"/><path d="M4386 921l27-37-21-9-28 36z" fill="#b2f60f"/><path d="M3997 1023l29-16-20-7-29 17z" fill="#8ff30f"/><path d="M4954 572l28-67-24-14-27 67z" fill="#ffea0e"/><path d="M3607 1011l32 4-20-3-31-5z" fill="#000"/><path d="M4556 843l28-46-22-10-28 45z" fill="#ccf90f"/><path d="M4166 995l29-26-21-7-29 25z" fill="#9af40f"/><path d="M5132 420l28-77-24-15-28 76z" fill="#ffbf05"/><path d="M3778 1031l30-5-20-5-30 5z" fill="#365e06"/><path d="M4729 744l27-55-22-12-28 55z" fill="#e3fa0f"/><path d="M4336 946l28-35-21-9-28 34z" fill="#abf60f"/><path d="M3947 1030l30-13-21-7-29 14z" fill="#8df30f"/><path d="M4903 623l28-65-23-13-28 64z" fill="#faf20f"/><path d="M4507 876l27-44-22-10-27 43z" fill="#c2f80f"/><path d="M3557 1000l31 7-19-2-31-8z" fill="#000"/><path d="M4117 1009l28-22-20-8-29 22z" fill="#95f30f"/><path d="M5080 478l28-74-24-15-28 74z" fill="#ffd009"/><path d="M3728 1028l30-2-20-4-30 1z" fill="#182a03"/><path d="M4679 784l27-52-22-12-28 52z" fill="#dcfa0f"/><path d="M4286 968l29-32-22-9-28 31z" fill="#a4f50f"/><path d="M3897 1035l30-11-20-6-30 11z" fill="#79d10d"/><path d="M4852 670l28-61-23-14-28 62z" fill="#f2f70f"/><path d="M4457 905l28-40-22-11-28 40z" fill="#b9f70f"/><path d="M4067 1021l29-20-21-7-29 20z" fill="#92f30f"/><path d="M5029 534l27-71-23-14-28 70z" fill="#ffdf0c"/><path d="M3677 1022l31 1-19-4-31-1z" fill="#000"/><path d="M4629 821l27-49-22-12-28 49z" fill="#d5fa0f"/><path d="M4237 987l28-29-21-8-28 28z" fill="#9ff40f"/><path d="M3848 1037l29-8-20-6-29 8z" fill="#5da30a"/><path d="M4802 715l27-58-22-13-28 58z" fill="#eafa0f"/><path d="M4407 932l28-38-22-10-27 37z" fill="#b1f60f"/><path d="M4017 1030l29-16-20-7-29 16z" fill="#8ff30f"/><path d="M4977 587l28-68-23-14-28 67z" fill="#ffec0e"/><path d="M3627 1014l31 4-19-3-32-4z" fill="#000"/><path d="M4579 855l27-46-22-12-28 46z" fill="#caf90f"/><path d="M4187 1004l29-26-21-9-29 26z" fill="#9af40f"/><path d="M5156 436l28-78-24-15-28 77z" fill="#ffc206"/><path d="M3797 1036l31-5-20-5-30 5z" fill="#417107"/><path d="M4751 757l28-55-23-13-27 55z" fill="#e2fa0f"/><path d="M4357 956l29-35-22-10-28 35z" fill="#aaf60f"/><path d="M3968 1037l29-14-20-6-30 13z" fill="#8df30f"/><path d="M4926 637l28-65-23-14-28 65z" fill="#f9f30f"/><path d="M3576 1004l31 7-19-4-31-7z" fill="#000"/><path d="M4529 887l27-44-22-11-27 44z" fill="#c1f80f"/><path d="M5104 494l28-74-24-16-28 74z" fill="#ffd309"/><path d="M4138 1018l28-23-21-8-28 22z" fill="#96f30f"/><path d="M3747 1033l31-2-20-5-30 2z" fill="#233d04"/><path d="M4701 797l28-53-23-12-27 52z" fill="#dbfa0f"/><path d="M4308 977l28-31-21-10-29 32z" fill="#a4f50f"/><path d="M3918 1041l29-11-20-6-30 11z" fill="#83e40e"/><path d="M4876 685l27-62-23-14-28 61z" fill="#f0f70f"/><path d="M3525 990l32 10-19-3-32-10z" fill="#000"/><path d="M4479 916l28-40-22-11-28 40z" fill="#b8f70f"/><path d="M4088 1029l29-20-21-8-29 20z" fill="#92f30f"/><path d="M5052 550l28-72-24-15-27 71z" fill="#ffe10c"/><path d="M3697 1027l31 1-20-5-31-1z" fill="#040700"/><path d="M4651 834l28-50-23-12-27 49z" fill="#d3fa0f"/><path d="M4258 997l28-29-21-10-28 29z" fill="#9ef40f"/><path d="M3868 1043l29-8-20-6-29 8z" fill="#69b50b"/><path d="M4825 729l27-59-23-13-27 58z" fill="#e9fa0f"/><path d="M4429 943l28-38-22-11-28 38z" fill="#b1f60f"/><path d="M4038 1038l29-17-21-7-29 16z" fill="#90f30f"/><path d="M5001 603l28-69-24-15-28 68z" fill="#ffee0f"/><path d="M3646 1019l31 3-19-4-31-4z" fill="#000"/><path d="M4601 868l28-47-23-12-27 46z" fill="#c9f90f"/><path d="M4208 1013l29-26-21-9-29 26z" fill="#99f40f"/><path d="M5180 453l28-78-24-17-28 78z" fill="#ffc506"/><path d="M3817 1042l31-5-20-6-31 5z" fill="#4c8408"/><path d="M4774 771l28-56-23-13-28 55z" fill="#e1fa0f"/><path d="M4379 967l28-35-21-11-29 35z" fill="#a9f50f"/><path d="M3988 1045l29-15-20-7-29 14z" fill="#8ef30f"/><path d="M4950 653l27-66-23-15-28 65z" fill="#f7f40f"/><path d="M3595 1008l32 6-20-3-31-7z" fill="#000"/><path d="M4551 899l28-44-23-12-27 44z" fill="#c0f80f"/><path d="M4159 1027l28-23-21-9-28 23z" fill="#95f30f"/><path d="M5128 511l28-75-24-16-28 74z" fill="#ffd50a"/><path d="M3767 1039l30-3-19-5-31 2z" fill="#2f5005"/><path d="M4724 811l27-54-22-13-28 53z" fill="#dafa0f"/><path d="M4329 988l28-32-21-10-28 31z" fill="#a3f50f"/><path d="M3938 1049l30-12-21-7-29 11z" fill="#8df30f"/><path d="M4899 700l27-63-23-14-27 62z" fill="#eff80f"/><path d="M3544 994l32 10-19-4-32-10z" fill="#000"/><path d="M4501 928l28-41-22-11-28 40z" fill="#b7f70f"/><path d="M4109 1038l29-20-21-9-29 20z" fill="#92f30f"/><path d="M5076 566l28-72-24-16-28 72z" fill="#ffe30c"/><path d="M3717 1032l30 1-19-5-31-1z" fill="#0f1a02"/><path d="M4674 847l27-50-22-13-28 50z" fill="#d2f90f"/><path d="M4279 1007l29-30-22-9-28 29z" fill="#9ef40f"/><path d="M3888 1050l30-9-21-6-29 8z" fill="#74c90c"/><path d="M4848 744l28-59-24-15-27 59z" fill="#e7fa0f"/><path d="M3493 978l32 12-19-3-32-12z" fill="#000"/><path d="M4451 955l28-39-22-11-28 38z" fill="#b0f60f"/><path d="M4059 1047l29-18-21-8-29 17z" fill="#90f30f"/><path d="M5025 619l27-69-23-16-28 69z" fill="#fff00f"/><path d="M4623 881l28-47-22-13-28 47z" fill="#c8f80f"/><path d="M3666 1024l31 3-20-5-31-3z" fill="#000"/><path d="M4230 1023l28-26-21-10-29 26z" fill="#99f40f"/><path d="M5204 470l28-78-24-17-28 78z" fill="#ffc807"/><path d="M3838 1049l30-6-20-6-31 5z" fill="#589709"/><path d="M4797 786l28-57-23-14-28 56z" fill="#e0fa0f"/><path d="M4401 978l28-35-22-11-28 35z" fill="#a9f50f"/><path d="M4009 1053l29-15-21-8-29 15z" fill="#8ef30f"/><path d="M4973 669l28-66-24-16-27 66z" fill="#f6f50f"/><path d="M3615 1012l31 7-19-5-32-6z" fill="#000"/><path d="M4573 912l28-44-22-13-28 44z" fill="#bef80f"/><path d="M4180 1037l28-24-21-9-28 23z" fill="#95f30f"/><path d="M5152 528l28-75-24-17-28 75z" fill="#ffd80a"/><path d="M3787 1045l30-3-20-6-30 3z" fill="#3a6306"/><path d="M4747 825l27-54-23-14-27 54z" fill="#d9fa0f"/><path d="M4351 999l28-32-22-11-28 32z" fill="#a2f50f"/><path d="M3959 1057l29-12-20-8-30 12z" fill="#8df30f"/><path d="M4922 715l28-62-24-16-27 63z" fill="#eef90f"/><path d="M3564 998l31 10-19-4-32-10z" fill="#000"/><path d="M4523 941l28-42-22-12-28 41z" fill="#b6f70f"/><path d="M4130 1048l29-21-21-9-29 20z" fill="#92f30f"/><path d="M5100 583l28-72-24-17-28 72z" fill="#ffe60d"/><path d="M3736 1038l31 1-20-6-30-1z" fill="#1a2d03"/><path d="M4696 861l28-50-23-14-27 50z" fill="#d0f90f"/><path d="M4301 1018l28-30-21-11-29 30z" fill="#9df40f"/><path d="M3908 1058l30-9-20-8-30 9z" fill="#80dc0e"/><path d="M4871 760l28-60-23-15-28 59z" fill="#e6fa0f"/><path d="M4473 967l28-39-22-12-28 39z" fill="#aef60f"/><path d="M3512 982l32 12-19-4-32-12z" fill="#000"/><path d="M4080 1056l29-18-21-9-29 18z" fill="#8ff30f"/><path d="M5048 636l28-70-24-16-27 69z" fill="#fdf10f"/><path d="M3685 1029l32 3-20-5-31-3z" fill="#000"/><path d="M4646 895l28-48-23-13-28 47z" fill="#c6f80f"/><path d="M4251 1034l28-27-21-10-28 26z" fill="#98f40f"/><path d="M5228 489l28-79-24-18-28 78z" fill="#ffcb08"/><path d="M3858 1056l30-6-20-7-30 6z" fill="#63ab0b"/><path d="M4820 801l28-57-23-15-28 57z" fill="#dffa0f"/><path d="M3460 962l33 16-19-3-33-16z" fill="#101701"/><path d="M4423 990l28-35-22-12-28 35z" fill="#a7f50f"/><path d="M4029 1062l30-15-21-9-29 15z" fill="#8ef30f"/><path d="M4997 685l28-66-24-16-28 66z" fill="#f4f50f"/><path d="M3634 1018l32 6-20-5-31-7z" fill="#000"/><path d="M4595 926l28-45-22-13-28 44z" fill="#bdf70f"/><path d="M4201 1047l29-24-22-10-28 24z" fill="#95f30f"/><path d="M5176 546l28-76-24-17-28 75z" fill="#ffdb0b"/><path d="M3807 1052l31-3-21-7-30 3z" fill="#467607"/><path d="M4770 840l27-54-23-15-27 54z" fill="#d8fa0f"/><path d="M4373 1011l28-33-22-11-28 32z" fill="#a1f50f"/><path d="M3979 1065l30-12-21-8-29 12z" fill="#8df30f"/><path d="M4945 732l28-63-23-16-28 62z" fill="#ecf90f"/><path d="M3583 1003l32 9-20-4-31-10z" fill="#000"/><path d="M4545 954l28-42-22-13-28 42z" fill="#b5f70f"/><path d="M4151 1058l29-21-21-10-29 21z" fill="#91f30f"/><path d="M5124 601l28-73-24-17-28 72z" fill="#ffe80d"/><path d="M3756 1045l31 0-20-6-31-1z" fill="#264004"/><path d="M4719 876l28-51-23-14-28 50z" fill="#cef90f"/><path d="M4323 1029l28-30-22-11-28 30z" fill="#9cf40f"/><path d="M3929 1066l30-9-21-8-30 9z" fill="#8bef0f"/><path d="M4894 776l28-61-23-15-28 60z" fill="#e5fa0f"/><path d="M3531 986l33 12-20-4-32-12z" fill="#000"/><path d="M4495 980l28-39-22-13-28 39z" fill="#adf60f"/><path d="M4101 1066l29-18-21-10-29 18z" fill="#8ff30f"/><path d="M5072 653l28-70-24-17-28 70z" fill="#fbf20f"/><path d="M4668 909l28-48-22-14-28 48z" fill="#c4f80f"/><path d="M3705 1036l31 2-19-6-32-3z" fill="#050901"/><path d="M4272 1045l29-27-22-11-28 27z" fill="#98f40f"/><path d="M5252 508l29-80-25-18-28 79z" fill="#ffce08"/><path d="M3878 1064l30-6-20-8-30 6z" fill="#6fbe0c"/><path d="M4843 817l28-57-23-16-28 57z" fill="#ddfa0f"/><path d="M3480 967l32 15-19-4-33-16z" fill="#060901"/><path d="M4445 1003l28-36-22-12-28 35z" fill="#a6f50f"/><path d="M4050 1071l30-15-21-9-30 15z" fill="#8ef30f"/><path d="M5020 702l28-66-23-17-28 66z" fill="#f3f60f"/><path d="M3654 1023l31 6-19-5-32-6z" fill="#000"/><path d="M4618 940l28-45-23-14-28 45z" fill="#bbf70f"/><path d="M4222 1058l29-24-21-11-29 24z" fill="#94f30f"/><path d="M5200 565l28-76-24-19-28 76z" fill="#ffde0b"/><path d="M3827 1059l31-3-20-7-31 3z" fill="#518a08"/><path d="M4793 855l27-54-23-15-27 54z" fill="#d6fa0f"/><path d="M4395 1024l28-34-22-12-28 33z" fill="#a0f50f"/><path d="M3427 944l33 18-19-3-33-18z" fill="#223003"/><path d="M4000 1074l29-12-20-9-30 12z" fill="#8df30f"/><path d="M4969 749l28-64-24-16-28 63z" fill="#ebfa0f"/><path d="M3603 1009l31 9-19-6-32-9z" fill="#000"/><path d="M4568 968l27-42-22-14-28 42z" fill="#b3f60f"/><path d="M4172 1068l29-21-21-10-29 21z" fill="#91f30f"/><path d="M5148 620l28-74-24-18-28 73z" fill="#ffeb0e"/><path d="M3776 1052l31 0-20-7-31 0z" fill="#325305"/><path d="M4742 891l28-51-23-15-28 51z" fill="#ccf90f"/><path d="M4344 1041l29-30-22-12-28 30z" fill="#9bf40f"/><path d="M3949 1075l30-10-20-8-30 9z" fill="#8df30f"/><path d="M4918 793l27-61-23-17-28 61z" fill="#e3fa0f"/><path d="M3551 991l32 12-19-5-33-12z" fill="#000"/><path d="M4517 994l28-40-22-13-28 39z" fill="#abf60f"/><path d="M4122 1076l29-18-21-10-29 18z" fill="#8ff30f"/><path d="M5096 671l28-70-24-18-28 70z" fill="#faf30f"/><path d="M3725 1042l31 3-20-7-31-2z" fill="#111c02"/><path d="M4691 924l28-48-23-15-28 48z" fill="#c2f80f"/><path d="M4294 1057l29-28-22-11-29 27z" fill="#97f40f"/><path d="M5277 527l28-80-24-19-29 80z" fill="#ffd209"/><path d="M3899 1072l30-6-21-8-30 6z" fill="#7ad20d"/><path d="M4867 834l27-58-23-16-28 57z" fill="#dcfa0f"/><path d="M3499 971l32 15-19-4-32-15z" fill="#000"/><path d="M4467 1016l28-36-22-13-28 36z" fill="#a5f50f"/><path d="M4071 1081l30-15-21-10-30 15z" fill="#8df30f"/><path d="M5044 720l28-67-24-17-28 66z" fill="#f1f70f"/><path d="M3674 1030l31 6-20-7-31-6z" fill="#000"/><path d="M4641 955l27-46-22-14-28 45z" fill="#b9f70f"/><path d="M4244 1069l28-24-21-11-29 24z" fill="#93f30f"/><path d="M5224 584l28-76-24-19-28 76z" fill="#ffe00c"/><path d="M3848 1067l30-3-20-8-31 3z" fill="#5d9d0a"/><path d="M4816 872l27-55-23-16-27 54z" fill="#d4fa0f"/><path d="M3447 949l33 18-20-5-33-18z" fill="#182202"/><path d="M4417 1037l28-34-22-13-28 34z" fill="#9ff40f"/><path d="M4021 1084l29-13-21-9-29 12z" fill="#8df30f"/><path d="M4993 767l27-65-23-17-28 64z" fill="#e9fa0f"/><path d="M3622 1015l32 8-20-5-31-9z" fill="#000"/><path d="M4590 983l28-43-23-14-27 42z" fill="#b1f60f"/><path d="M4193 1080l29-22-21-11-29 21z" fill="#90f30f"/><path d="M5172 639l28-74-24-19-28 74z" fill="#ffee0f"/><path d="M3797 1060l30-1-20-7-31 0z" fill="#3e6606"/><path d="M4765 907l28-52-23-15-28 51z" fill="#caf90f"/><path d="M3394 923l33 21-19-3-33-22z" fill="#344704"/><path d="M4366 1054l29-30-22-13-29 30z" fill="#9af40f"/><path d="M3970 1084l30-10-21-9-30 10z" fill="#8df30f"/><path d="M4941 810l28-61-24-17-27 61z" fill="#e1fa0f"/><path d="M3570 997l33 12-20-6-32-12z" fill="#000"/><path d="M4540 1008l28-40-23-14-28 40z" fill="#aaf50f"/><path d="M4143 1087l29-19-21-10-29 18z" fill="#8ef30f"/><path d="M5120 690l28-70-24-19-28 70z" fill="#f8f40f"/><path d="M3745 1050l31 2-20-7-31-3z" fill="#1d2f03"/><path d="M4714 940l28-49-23-15-28 48z" fill="#c0f80f"/><path d="M4316 1069l28-28-21-12-29 28z" fill="#95f30f"/><path d="M5301 548l29-81-25-20-28 80z" fill="#ffd50a"/><path d="M3919 1081l30-6-20-9-30 6z" fill="#86e50e"/><path d="M4890 851l28-58-24-17-27 58z" fill="#dafa0f"/><path d="M3518 977l33 14-20-5-32-15z" fill="#000"/><path d="M4489 1030l28-36-22-14-28 36z" fill="#a3f50f"/><path d="M4092 1092l30-16-21-10-30 15z" fill="#8df30f"/><path d="M5068 739l28-68-24-18-28 67z" fill="#eff80f"/><path d="M3694 1037l31 5-20-6-31-6z" fill="#000"/><path d="M4663 970l28-46-23-15-27 46z" fill="#b7f70f"/><path d="M4265 1082l29-25-22-12-28 24z" fill="#92f30f"/><path d="M5249 605l28-78-25-19-28 76z" fill="#ffe40d"/><path d="M3868 1076l31-4-21-8-30 3z" fill="#68b10b"/><path d="M4839 889l28-55-24-17-27 55z" fill="#d1f90f"/><path d="M3466 954l33 17-19-4-33-18z" fill="#0f1401"/><path d="M4439 1050l28-34-22-13-28 34z" fill="#9df40f"/><path d="M4042 1094l29-13-21-10-29 13z" fill="#8cf30f"/><path d="M5016 785l28-65-24-18-27 65z" fill="#e7fa0f"/><path d="M3642 1022l32 8-20-7-32-8z" fill="#000"/><path d="M4613 998l28-43-23-15-28 43z" fill="#aff60f"/><path d="M4215 1091l29-22-22-11-29 22z" fill="#8ff30f"/><path d="M5196 659l28-75-24-19-28 74z" fill="#fef00f"/><path d="M3817 1068l31-1-21-8-30 1z" fill="#497a08"/><path d="M4788 924l28-52-23-17-28 52z" fill="#c7f80f"/><path d="M3413 928l34 21-20-5-33-21z" fill="#2b3a04"/><path d="M4388 1068l29-31-22-13-29 30z" fill="#98f40f"/><path d="M3991 1094l30-10-21-10-30 10z" fill="#8cf30f"/><path d="M4965 828l28-61-24-18-28 61z" fill="#e0fa0f"/><path d="M3590 1003l32 12-19-6-33-12z" fill="#000"/><path d="M4562 1023l28-40-22-15-28 40z" fill="#a8f50f"/><path d="M4164 1099l29-19-21-12-29 19z" fill="#8df30f"/><path d="M5144 710l28-71-24-19-28 70z" fill="#f6f50f"/><path d="M3766 1058l31 2-21-8-31-2z" fill="#284204"/><path d="M4737 957l28-50-23-16-28 49z" fill="#bef70f"/><path d="M4338 1082l28-28-22-13-28 28z" fill="#94f30f"/><path d="M3940 1091l30-7-21-9-30 6z" fill="#8df30f"/><path d="M4913 869l28-59-23-17-28 58z" fill="#d9fa0f"/><path d="M3538 983l32 14-19-6-33-14z" fill="#000"/><path d="M4511 1045l29-37-23-14-28 36z" fill="#a1f50f"/><path d="M4114 1103l29-16-21-11-30 16z" fill="#8cf20f"/><path d="M5092 758l28-68-24-19-28 68z" fill="#edf90f"/><path d="M3714 1045l31 5-20-8-31-5z" fill="#060a01"/><path d="M4686 987l28-47-23-16-28 46z" fill="#b5f70f"/><path d="M4287 1095l29-26-22-12-29 25z" fill="#91f30f"/><path d="M5273 625l28-77-24-21-28 78z" fill="#ffe70d"/><path d="M3889 1086l30-5-20-9-31 4z" fill="#74c50c"/><path d="M4862 906l28-55-23-17-28 55z" fill="#cff90f"/><path d="M3485 959l33 18-19-6-33-17z" fill="#050600"/><path d="M4461 1065l28-35-22-14-28 34z" fill="#9cf40f"/><path d="M4063 1105l29-13-21-11-29 13z" fill="#8cf20f"/><path d="M5040 804l28-65-24-19-28 65z" fill="#e5fa0f"/><path d="M3662 1029l32 8-20-7-32-8z" fill="#000"/><path d="M4635 1014l28-44-22-15-28 43z" fill="#adf60f"/><path d="M4236 1104l29-22-21-13-29 22z" fill="#8ef30f"/><path d="M5220 679l29-74-25-21-28 75z" fill="#fcf10f"/><path d="M3838 1077l30-1-20-9-31 1z" fill="#558e09"/><path d="M4811 941l28-52-23-17-28 52z" fill="#c5f80f"/><path d="M3432 933l34 21-19-5-34-21z" fill="#212d03"/><path d="M4410 1082l29-32-22-13-29 31z" fill="#97f40f"/><path d="M4012 1105l30-11-21-10-30 10z" fill="#8cf20f"/><path d="M4988 847l28-62-23-18-28 61z" fill="#defa0f"/><path d="M3610 1010l32 12-20-7-32-12z" fill="#000"/><path d="M4585 1038l28-40-23-15-28 40z" fill="#a6f50f"/><path d="M4186 1111l29-20-22-11-29 19z" fill="#8cf30f"/><path d="M5168 730l28-71-24-20-28 71z" fill="#f3f60f"/><path d="M3786 1067l31 1-20-8-31-2z" fill="#345505"/><path d="M4760 974l28-50-23-17-28 50z" fill="#bbf70f"/><path d="M4360 1096l28-28-22-14-28 28z" fill="#93f30f"/><path d="M3961 1101l30-7-21-10-30 7z" fill="#8df30f"/><path d="M4937 887l28-59-24-18-28 59z" fill="#d7fa0f"/><path d="M3558 989l32 14-20-6-32-14z" fill="#000"/><path d="M4534 1060l28-37-22-15-29 37z" fill="#a0f40f"/><path d="M4135 1115l29-16-21-12-29 16z" fill="#8bf20f"/><path d="M5116 778l28-68-24-20-28 68z" fill="#ebfa0f"/><path d="M3734 1053l32 5-21-8-31-5z" fill="#121d02"/><path d="M4709 1003l28-46-23-17-28 47z" fill="#b3f60f"/><path d="M4309 1108l29-26-22-13-29 26z" fill="#8ff30f"/><path d="M3910 1096l30-5-21-10-30 5z" fill="#80d90d"/><path d="M4886 925l27-56-23-18-28 55z" fill="#ccf90f"/><path d="M3505 965l33 18-20-6-33-18z" fill="#000"/><path d="M4483 1080l28-35-22-15-28 35z" fill="#9af40f"/><path d="M4084 1117l30-14-22-11-29 13z" fill="#8bf20f"/><path d="M5064 824l28-66-24-19-28 65z" fill="#e3fa0f"/><path d="M3682 1037l32 8-20-8-32-8z" fill="#000"/><path d="M4658 1030l28-43-23-17-28 44z" fill="#abf60f"/><path d="M4258 1117l29-22-22-13-29 22z" fill="#8df30f"/><path d="M5245 700l28-75-24-20-29 74z" fill="#faf30f"/><path d="M3858 1087l31-1-21-10-30 1z" fill="#61a20a"/><path d="M4834 959l28-53-23-17-28 52z" fill="#c2f80f"/><path d="M3452 939l33 20-19-5-34-21z" fill="#171f02"/><path d="M4432 1097l29-32-22-15-29 32z" fill="#95f30f"/><path d="M4033 1116l30-11-21-11-30 11z" fill="#8bf20f"/><path d="M5012 867l28-63-24-19-28 62z" fill="#dcfa0f"/><path d="M3630 1018l32 11-20-7-32-12z" fill="#000"/><path d="M4607 1055l28-41-22-16-28 40z" fill="#a4f50f"/><path d="M4207 1124l29-20-21-13-29 20z" fill="#8bf20f"/><path d="M5192 751l28-72-24-20-28 71z" fill="#f1f70f"/><path d="M3806 1076l32 1-21-9-31-1z" fill="#406906"/><path d="M4783 991l28-50-23-17-28 50z" fill="#b8f70f"/><path d="M4382 1111l28-29-22-14-28 28z" fill="#91f30f"/><path d="M3982 1112l30-7-21-11-30 7z" fill="#8cf30f"/><path d="M4961 906l27-59-23-19-28 59z" fill="#d4fa0f"/><path d="M3578 996l32 14-20-7-32-14z" fill="#000"/><path d="M4556 1076l29-38-23-15-28 37z" fill="#9df40f"/><path d="M4156 1128l30-17-22-12-29 16z" fill="#8af20f"/><path d="M5140 799l28-69-24-20-28 68z" fill="#e9fa0f"/><path d="M3755 1062l31 5-20-9-32-5z" fill="#1e3003"/><path d="M4732 1021l28-47-23-17-28 46z" fill="#b0f60f"/><path d="M4331 1122l29-26-22-14-29 26z" fill="#8ef30f"/><path d="M3930 1106l31-5-21-10-30 5z" fill="#8bee0f"/><path d="M4909 944l28-57-24-18-27 56z" fill="#c9f90f"/><path d="M3525 972l33 17-20-6-33-18z" fill="#000"/><path d="M4506 1096l28-36-23-15-28 35z" fill="#98f40f"/><path d="M4105 1129l30-14-21-12-30 14z" fill="#8af20f"/><path d="M5088 844l28-66-24-20-28 66z" fill="#e1fa0f"/><path d="M3703 1045l31 8-20-8-32-8z" fill="#000"/><path d="M4681 1048l28-45-23-16-28 43z" fill="#a8f50f"/><path d="M4280 1131l29-23-22-13-29 22z" fill="#8bf20f"/><path d="M3879 1097l31-1-21-10-31 1z" fill="#6db60b"/><path d="M4858 978l28-53-24-19-28 53z" fill="#bff80f"/><path d="M3472 945l33 20-20-6-33-20z" fill="#0d1201"/><path d="M4455 1112l28-32-22-15-29 32z" fill="#93f30f"/><path d="M4054 1128l30-11-21-12-30 11z" fill="#8af20f"/><path d="M5036 887l28-63-24-20-28 63z" fill="#dafa0f"/><path d="M3650 1026l32 11-20-8-32-11z" fill="#000"/><path d="M4630 1072l28-42-23-16-28 41z" fill="#a1f50f"/><path d="M4229 1137l29-20-22-13-29 20z" fill="#8af20f"/><path d="M5217 773l28-73-25-21-28 72z" fill="#eff80f"/><path d="M3827 1086l31 1-20-10-32-1z" fill="#4d7d08"/><path d="M4806 1010l28-51-23-18-28 50z" fill="#b6f70f"/><path d="M4404 1126l28-29-22-15-28 29z" fill="#8ff30f"/><path d="M4003 1124l30-8-21-11-30 7z" fill="#8cf20f"/><path d="M4984 926l28-59-24-20-27 59z" fill="#d0f90f"/><path d="M3598 1004l32 14-20-8-32-14z" fill="#000"/><path d="M4579 1093l28-38-22-17-29 38z" fill="#9bf40f"/><path d="M4178 1141l29-17-21-13-30 17z" fill="#89f20f"/><path d="M5164 821l28-70-24-21-28 69z" fill="#e7fa0f"/><path d="M3775 1072l31 4-20-9-31-5z" fill="#2a4304"/><path d="M4755 1039l28-48-23-17-28 47z" fill="#adf60f"/><path d="M4353 1137l29-26-22-15-29 26z" fill="#8cf30f"/><path d="M3951 1118l31-6-21-11-31 5z" fill="#8ef30f"/><path d="M4933 963l28-57-24-19-28 57z" fill="#c6f80f"/><path d="M3545 980l33 16-20-7-33-17z" fill="#000"/><path d="M4528 1112l28-36-22-16-28 36z" fill="#96f30f"/><path d="M4127 1142l29-14-21-13-30 14z" fill="#89f20f"/><path d="M5112 865l28-66-24-21-28 66z" fill="#dffa0f"/><path d="M3723 1055l32 7-21-9-31-8z" fill="#070a01"/><path d="M4704 1066l28-45-23-18-28 45z" fill="#a6f50f"/><path d="M4302 1146l29-24-22-14-29 23z" fill="#8af20f"/><path d="M3900 1108l30-2-20-10-31 1z" fill="#79cb0d"/><path d="M4881 998l28-54-23-19-28 53z" fill="#bcf70f"/><path d="M3491 952l34 20-20-7-33-20z" fill="#030400"/><path d="M4477 1128l29-32-23-16-28 32z" fill="#91f30f"/><path d="M4076 1141l29-12-21-12-30 11z" fill="#89f20f"/><path d="M5060 908l28-64-24-20-28 63z" fill="#d8fa0f"/><path d="M3670 1035l33 10-21-8-32-11z" fill="#000"/><path d="M4653 1089l28-41-23-18-28 42z" fill="#9ff40f"/><path d="M4251 1152l29-21-22-14-29 20z" fill="#88f20f"/><path d="M3848 1096l31 1-21-10-31-1z" fill="#599109"/><path d="M4830 1029l28-51-24-19-28 51z" fill="#b3f60f"/><path d="M4426 1142l29-30-23-15-28 29z" fill="#8df30f"/><path d="M4024 1136l30-8-21-12-30 8z" fill="#8bf20f"/><path d="M5008 947l28-60-24-20-28 59z" fill="#cdf90f"/><path d="M3618 1013l32 13-20-8-32-14z" fill="#000"/><path d="M4602 1110l28-38-23-17-28 38z" fill="#99f40f"/><path d="M4200 1155l29-18-22-13-29 17z" fill="#87f20f"/><path d="M5189 843l28-70-25-22-28 70z" fill="#e4fa0f"/><path d="M3796 1082l31 4-21-10-31-4z" fill="#375705"/><path d="M4778 1058l28-48-23-19-28 48z" fill="#aaf60f"/><path d="M4375 1153l29-27-22-15-29 26z" fill="#8af20f"/><path d="M3973 1129l30-5-21-12-31 6z" fill="#8df30f"/><path d="M4956 984l28-58-23-20-28 57z" fill="#c2f80f"/><path d="M3565 988l33 16-20-8-33-16z" fill="#000"/><path d="M4551 1129l28-36-23-17-28 36z" fill="#93f30f"/><path d="M4148 1156l30-15-22-13-29 14z" fill="#87f20f"/><path d="M5136 887l28-66-24-22-28 66z" fill="#ddfa0f"/><path d="M3743 1065l32 7-20-10-32-7z" fill="#131d02"/><path d="M4727 1084l28-45-23-18-28 45z" fill="#a3f50f"/><path d="M4324 1161l29-24-22-15-29 24z" fill="#88f20f"/><path d="M3921 1120l30-2-21-12-30 2z" fill="#84e00e"/><path d="M4905 1018l28-55-24-19-28 54z" fill="#b8f70f"/><path d="M3511 960l34 20-20-8-34-20z" fill="#000"/><path d="M4500 1145l28-33-22-16-29 32z" fill="#8ff30f"/><path d="M4097 1154l30-12-22-13-29 12z" fill="#88f20f"/><path d="M5084 929l28-64-24-21-28 64z" fill="#d4fa0f"/><path d="M3691 1045l32 10-20-10-33-10z" fill="#000"/><path d="M4676 1108l28-42-23-18-28 41z" fill="#9cf40f"/><path d="M4273 1167l29-21-22-15-29 21z" fill="#86f20f"/><path d="M4853 1049l28-51-23-20-28 51z" fill="#aff60f"/><path d="M3869 1108l31 0-21-11-31-1z" fill="#65a60a"/><path d="M4449 1158l28-30-22-16-29 30z" fill="#8bf20f"/><path d="M4045 1149l31-8-22-13-30 8z" fill="#8af20f"/><path d="M5032 968l28-60-24-21-28 60z" fill="#c9f90f"/><path d="M3638 1022l32 13-20-9-32-13z" fill="#000"/><path d="M4625 1128l28-39-23-17-28 38z" fill="#96f40f"/><path d="M4222 1170l29-18-22-15-29 18z" fill="#86f20f"/><path d="M3817 1093l31 3-21-10-31-4z" fill="#436b07"/><path d="M4802 1077l28-48-24-19-28 48z" fill="#a7f50f"/><path d="M4397 1169l29-27-22-16-29 27z" fill="#88f20f"/><path d="M3994 1142l30-6-21-12-30 5z" fill="#8cf20f"/><path d="M4980 1005l28-58-24-21-28 58z" fill="#bff80f"/><path d="M3585 996l33 17-20-9-33-16z" fill="#000"/><path d="M4573 1147l29-37-23-17-28 36z" fill="#91f30f"/><path d="M4170 1170l30-15-22-14-30 15z" fill="#86f20f"/><path d="M5160 910l29-67-25-22-28 66z" fill="#dafa0f"/><path d="M3764 1075l32 7-21-10-32-7z" fill="#1f3003"/><path d="M4750 1103l28-45-23-19-28 45z" fill="#a0f40f"/><path d="M4346 1177l29-24-22-16-29 24z" fill="#86f20f"/><path d="M3942 1132l31-3-22-11-30 2z" fill="#8ff30f"/><path d="M4928 1038l28-54-23-21-28 55z" fill="#b5f70f"/><path d="M3531 968l34 20-20-8-34-20z" fill="#000"/><path d="M4522 1162l29-33-23-17-28 33z" fill="#8cf30f"/><path d="M4119 1168l29-12-21-14-30 12z" fill="#87f20f"/><path d="M5108 951l28-64-24-22-28 64z" fill="#d0f90f"/><path d="M3711 1055l32 10-20-10-32-10z" fill="#000"/><path d="M4699 1127l28-43-23-18-28 42z" fill="#99f40f"/><path d="M4295 1182l29-21-22-15-29 21z" fill="#85f20f"/><path d="M4877 1069l28-51-24-20-28 51z" fill="#acf60f"/><path d="M3890 1120l31 0-21-12-31 0z" fill="#71ba0c"/><path d="M4471 1175l29-30-23-17-28 30z" fill="#89f20f"/><path d="M4067 1163l30-9-21-13-31 8z" fill="#88f20f"/><path d="M5056 990l28-61-24-21-28 60z" fill="#c5f80f"/><path d="M3658 1032l33 13-21-10-32-13z" fill="#000"/><path d="M4648 1147l28-39-23-19-28 39z" fill="#93f30f"/><path d="M4243 1185l30-18-22-15-29 18z" fill="#84f20f"/><path d="M3837 1104l32 4-21-12-31-3z" fill="#4f7f08"/><path d="M4825 1098l28-49-23-20-28 48z" fill="#a4f50f"/><path d="M4420 1186l29-28-23-16-29 27z" fill="#86f20f"/><path d="M4015 1155l30-6-21-13-30 6z" fill="#8bf20f"/><path d="M5004 1026l28-58-24-21-28 58z" fill="#bbf70f"/><path d="M3605 1006l33 16-20-9-33-17z" fill="#000"/><path d="M4596 1165l29-37-23-18-29 37z" fill="#8ef30f"/><path d="M4192 1185l30-15-22-15-30 15z" fill="#84f20f"/><path d="M3785 1086l32 7-21-11-32-7z" fill="#2c4404"/><path d="M4774 1123l28-46-24-19-28 45z" fill="#9df40f"/><path d="M4368 1193l29-24-22-16-29 24z" fill="#84f20f"/><path d="M3963 1145l31-3-21-13-31 3z" fill="#8ef30f"/><path d="M4952 1060l28-55-24-21-28 54z" fill="#b1f60f"/><path d="M3551 977l34 19-20-8-34-20z" fill="#000"/><path d="M4545 1180l28-33-22-18-29 33z" fill="#8af20f"/><path d="M4140 1182l30-12-22-14-29 12z" fill="#85f20f"/><path d="M5132 974l28-64-24-23-28 64z" fill="#ccf90f"/><path d="M3732 1066l32 9-21-10-32-10z" fill="#070a01"/><path d="M4722 1146l28-43-23-19-28 43z" fill="#96f40f"/><path d="M4317 1198l29-21-22-16-29 21z" fill="#83f20f"/><path d="M4900 1091l28-53-23-20-28 51z" fill="#a8f50f"/><path d="M3911 1132l31 0-21-12-31 0z" fill="#7dcf0d"/><path d="M4494 1193l28-31-22-17-29 30z" fill="#86f20f"/><path d="M4089 1177l30-9-22-14-30 9z" fill="#87f20f"/><path d="M5080 1013l28-62-24-22-28 61z" fill="#c1f80f"/><path d="M3679 1042l32 13-20-10-33-13z" fill="#000"/><path d="M4671 1167l28-40-23-19-28 39z" fill="#90f30f"/><path d="M4266 1201l29-19-22-15-30 18z" fill="#82f20f"/><path d="M3858 1117l32 3-21-12-32-4z" fill="#5c9409"/><path d="M4849 1119l28-50-24-20-28 49z" fill="#a0f50f"/><path d="M4442 1203l29-28-22-17-29 28z" fill="#84f20f"/><path d="M4037 1169l30-6-22-14-30 6z" fill="#89f20f"/><path d="M5028 1049l28-59-24-22-28 58z" fill="#b7f70f"/><path d="M3625 1016l33 16-20-10-33-16z" fill="#000"/><path d="M4619 1184l29-37-23-19-29 37z" fill="#8bf20f"/><path d="M4214 1201l29-16-21-15-30 15z" fill="#82f20f"/><path d="M3806 1098l31 6-20-11-32-7z" fill="#385805"/><path d="M4797 1144l28-46-23-21-28 46z" fill="#99f40f"/><path d="M4391 1211l29-25-23-17-29 24z" fill="#82f10f"/><path d="M3984 1159l31-4-21-13-31 3z" fill="#8df30f"/><path d="M4976 1082l28-56-24-21-28 55z" fill="#adf60f"/><path d="M3572 987l33 19-20-10-34-19z" fill="#000"/><path d="M4568 1199l28-34-23-18-28 33z" fill="#87f20f"/><path d="M4162 1198l30-13-22-15-30 12z" fill="#83f20f"/><path d="M3753 1077l32 9-21-11-32-9z" fill="#131d02"/><path d="M4745 1167l29-44-24-20-28 43z" fill="#93f30f"/><path d="M4339 1215l29-22-22-16-29 21z" fill="#80f10f"/><path d="M4924 1112l28-52-24-22-28 53z" fill="#a5f50f"/><path d="M3932 1145l31 0-21-13-31 0z" fill="#88e40e"/><path d="M4516 1212l29-32-23-18-28 31z" fill="#84f20f"/><path d="M4110 1192l30-10-21-14-30 9z" fill="#85f20f"/><path d="M5104 1036l28-62-24-23-28 62z" fill="#bdf70f"/><path d="M3700 1053l32 13-21-11-32-13z" fill="#000"/><path d="M4694 1187l28-41-23-19-28 40z" fill="#8df30f"/><path d="M4288 1217l29-19-22-16-29 19z" fill="#80f10f"/><path d="M3880 1129l31 3-21-12-32-3z" fill="#68a80a"/><path d="M4872 1140l28-49-23-22-28 50z" fill="#9df40f"/><path d="M4465 1221l29-28-23-18-29 28z" fill="#81f10f"/><path d="M4058 1184l31-7-22-14-30 6z" fill="#88f20f"/><path d="M5052 1072l28-59-24-23-28 59z" fill="#b3f60f"/><path d="M3646 1026l33 16-21-10-33-16z" fill="#000"/><path d="M4642 1204l29-37-23-20-29 37z" fill="#88f20f"/><path d="M4236 1217l30-16-23-16-29 16z" fill="#80f10f"/><path d="M3827 1111l31 6-21-13-31-6z" fill="#456c07"/><path d="M4821 1165l28-46-24-21-28 46z" fill="#96f30f"/><path d="M4413 1228l29-25-22-17-29 25z" fill="#7ff10f"/><path d="M4006 1173l31-4-22-14-31 4z" fill="#8bf20f"/><path d="M5000 1105l28-56-24-23-28 56z" fill="#a9f50f"/><path d="M3592 997l33 19-20-10-33-19z" fill="#000"/><path d="M4591 1219l28-35-23-19-28 34z" fill="#84f20f"/><path d="M4184 1214l30-13-22-16-30 13z" fill="#81f10f"/><path d="M3774 1089l32 9-21-12-32-9z" fill="#203103"/><path d="M4769 1188l28-44-23-21-29 44z" fill="#8ff30f"/><path d="M4362 1233l29-22-23-18-29 22z" fill="#7ef10f"/><path d="M3954 1159l30 0-21-14-31 0z" fill="#8ff30f"/><path d="M4948 1135l28-53-24-22-28 52z" fill="#a1f50f"/><path d="M4539 1231l29-32-23-19-29 32z" fill="#81f10f"/><path d="M4132 1208l30-10-22-16-30 10z" fill="#83f20f"/><path d="M3720 1065l33 12-21-11-32-13z" fill="#000"/><path d="M4717 1207l28-40-23-21-28 41z" fill="#8af20f"/><path d="M4310 1235l29-20-22-17-29 19z" fill="#7ef10f"/><path d="M3901 1143l31 2-21-13-31-3z" fill="#73bd0c"/><path d="M4896 1162l28-50-24-21-28 49z" fill="#99f40f"/><path d="M4488 1240l28-28-22-19-29 28z" fill="#7ef10f"/><path d="M4080 1199l30-7-21-15-31 7z" fill="#86f20f"/><path d="M5076 1096l28-60-24-23-28 59z" fill="#aff60f"/><path d="M3667 1038l33 15-21-11-33-16z" fill="#000"/><path d="M4666 1224l28-37-23-20-29 37z" fill="#85f20f"/><path d="M4258 1234l30-17-22-16-30 16z" fill="#7ef10f"/><path d="M3848 1124l32 5-22-12-31-6z" fill="#518008"/><path d="M4844 1187l28-47-23-21-28 46z" fill="#92f30f"/><path d="M4436 1247l29-26-23-18-29 25z" fill="#7cf10f"/><path d="M4028 1188l30-4-21-15-31 4z" fill="#8af20f"/><path d="M5024 1128l28-56-24-23-28 56z" fill="#a5f50f"/><path d="M3613 1008l33 18-21-10-33-19z" fill="#000"/><path d="M4614 1239l28-35-23-20-28 35z" fill="#81f10f"/><path d="M4206 1230l30-13-22-16-30 13z" fill="#7ff10f"/><path d="M3795 1102l32 9-21-13-32-9z" fill="#2d4404"/><path d="M4792 1209l29-44-24-21-28 44z" fill="#8cf20f"/><path d="M4384 1251l29-23-22-17-29 22z" fill="#7bf10f"/><path d="M3975 1174l31-1-22-14-30 0z" fill="#8ef30f"/><path d="M4972 1158l28-53-24-23-28 53z" fill="#9df40f"/><path d="M4562 1251l29-32-23-20-29 32z" fill="#7ef10f"/><path d="M4154 1224l30-10-22-16-30 10z" fill="#81f10f"/><path d="M3741 1077l33 12-21-12-33-12z" fill="#070a01"/><path d="M4741 1229l28-41-24-21-28 40z" fill="#86f20f"/><path d="M4332 1253l30-20-23-18-29 20z" fill="#7bf10f"/><path d="M3922 1157l32 2-22-14-31-2z" fill="#7fd20d"/><path d="M4920 1185l28-50-24-23-28 50z" fill="#95f30f"/><path d="M4510 1260l29-29-23-19-28 28z" fill="#7bf10f"/><path d="M4102 1215l30-7-22-16-30 7z" fill="#84f20f"/><path d="M3688 1050l32 15-20-12-33-15z" fill="#000"/><path d="M4689 1246l28-39-23-20-28 37z" fill="#82f10f"/><path d="M4280 1251l30-16-22-18-30 17z" fill="#7cf10f"/><path d="M3869 1138l32 5-21-14-32-5z" fill="#5d9509"/><path d="M4868 1210l28-48-24-22-28 47z" fill="#8ef30f"/><path d="M4459 1266l29-26-23-19-29 26z" fill="#7af10f"/><path d="M4049 1203l31-4-22-15-30 4z" fill="#88f20f"/><path d="M5048 1153l28-57-24-24-28 56z" fill="#a1f50f"/><path d="M3633 1019l34 19-21-12-33-18z" fill="#000"/><path d="M4637 1260l29-36-24-20-28 35z" fill="#7ef10f"/><path d="M4228 1247l30-13-22-17-30 13z" fill="#7df10f"/><path d="M3816 1115l32 9-21-13-32-9z" fill="#395805"/><path d="M4816 1232l28-45-23-22-29 44z" fill="#88f20f"/><path d="M4407 1270l29-23-23-19-29 23z" fill="#79f10f"/><path d="M3997 1189l31-1-22-15-31 1z" fill="#8cf30f"/><path d="M4996 1182l28-54-24-23-28 53z" fill="#99f40f"/><path d="M4585 1271l29-32-23-20-29 32z" fill="#7bf10f"/><path d="M4176 1241l30-11-22-16-30 10z" fill="#7ff10f"/><path d="M3762 1090l33 12-21-13-33-12z" fill="#141d02"/><path d="M4764 1251l28-42-23-21-28 41z" fill="#83f20f"/><path d="M4355 1271l29-20-22-18-30 20z" fill="#79f10f"/><path d="M3944 1172l31 2-21-15-32-2z" fill="#8ae80e"/><path d="M4944 1209l28-51-24-23-28 50z" fill="#91f30f"/><path d="M4533 1280l29-29-23-20-29 29z" fill="#78f10f"/><path d="M4124 1232l30-8-22-16-30 7z" fill="#82f20f"/><path d="M3708 1062l33 15-21-12-32-15z" fill="#000"/><path d="M4712 1267l29-38-24-22-28 39z" fill="#7ef10f"/><path d="M4303 1270l29-17-22-18-30 16z" fill="#79f10f"/><path d="M3891 1152l31 5-21-14-32-5z" fill="#69aa0a"/><path d="M4892 1233l28-48-24-23-28 48z" fill="#8af20f"/><path d="M4482 1286l28-26-22-20-29 26z" fill="#77f00f"/><path d="M4071 1220l31-5-22-16-31 4z" fill="#86f20f"/><path d="M3654 1032l34 18-21-12-34-19z" fill="#000"/><path d="M4660 1281l29-35-23-22-29 36z" fill="#7af10f"/><path d="M4251 1265l29-14-22-17-30 13z" fill="#7bf10f"/><path d="M3837 1129l32 9-21-14-32-9z" fill="#466c07"/><path d="M4840 1255l28-45-24-23-28 45z" fill="#84f20f"/><path d="M4430 1290l29-24-23-19-29 23z" fill="#76f00f"/><path d="M4018 1205l31-2-21-15-31 1z" fill="#8af20f"/><path d="M5020 1207l28-54-24-25-28 54z" fill="#94f30f"/><path d="M4608 1292l29-32-23-21-29 32z" fill="#77f00f"/><path d="M4198 1258l30-11-22-17-30 11z" fill="#7df10f"/><path d="M3784 1104l32 11-21-13-33-12z" fill="#203003"/><path d="M4788 1274l28-42-24-23-28 42z" fill="#7ff10f"/><path d="M4378 1290l29-20-23-19-29 20z" fill="#76f00f"/><path d="M3965 1187l32 2-22-15-31-2z" fill="#90f30f"/><path d="M4968 1233l28-51-24-24-28 51z" fill="#8df30f"/><path d="M4556 1301l29-30-23-20-29 29z" fill="#75f00f"/><path d="M4146 1249l30-8-22-17-30 8z" fill="#80f10f"/><path d="M3730 1076l32 14-21-13-33-15z" fill="#000"/><path d="M4736 1290l28-39-23-22-29 38z" fill="#7af10f"/><path d="M4325 1289l30-18-23-18-29 17z" fill="#77f00f"/><path d="M3912 1167l32 5-22-15-31-5z" fill="#76be0c"/><path d="M4916 1257l28-48-24-24-28 48z" fill="#86f20f"/><path d="M4504 1307l29-27-23-20-28 26z" fill="#73f00f"/><path d="M4093 1237l31-5-22-17-31 5z" fill="#84f20f"/><path d="M3675 1045l33 17-20-12-34-18z" fill="#000"/><path d="M4684 1303l28-36-23-21-29 35z" fill="#77f00f"/><path d="M4273 1284l30-14-23-19-29 14z" fill="#78f10f"/><path d="M3859 1144l32 8-22-14-32-9z" fill="#528008"/><path d="M4863 1279l29-46-24-23-28 45z" fill="#80f10f"/><path d="M4452 1310l30-24-23-20-29 24z" fill="#73f00f"/><path d="M4040 1221l31-1-22-17-31 2z" fill="#88f20f"/><path d="M4632 1314l28-33-23-21-29 32z" fill="#74f00f"/><path d="M4221 1277l30-12-23-18-30 11z" fill="#7af10f"/><path d="M3805 1118l32 11-21-14-32-11z" fill="#2d4304"/><path d="M4811 1297l29-42-24-23-28 42z" fill="#7bf10f"/><path d="M4400 1310l30-20-23-20-29 20z" fill="#73f00f"/><path d="M3987 1204l31 1-21-16-32-2z" fill="#8ef30f"/><path d="M4992 1259l28-52-24-25-28 51z" fill="#88f20f"/><path d="M4580 1322l28-30-23-21-29 30z" fill="#71f00f"/><path d="M4168 1267l30-9-22-17-30 8z" fill="#7ef10f"/><path d="M3751 1090l33 14-22-14-32-14z" fill="#060901"/><path d="M4759 1313l29-39-24-23-28 39z" fill="#76f00f"/><path d="M4348 1308l30-18-23-19-30 18z" fill="#74f00f"/><path d="M3934 1183l31 4-21-15-32-5z" fill="#81d40d"/><path d="M4940 1282l28-49-24-24-28 48z" fill="#82f10f"/><path d="M4528 1328l28-27-23-21-29 27z" fill="#70f00f"/><path d="M4115 1254l31-5-22-17-31 5z" fill="#81f10f"/><path d="M3696 1058l34 18-22-14-33-17z" fill="#000"/><path d="M4707 1326l29-36-24-23-28 36z" fill="#73f00f"/><path d="M4296 1303l29-14-22-19-30 14z" fill="#75f00f"/><path d="M3880 1160l32 7-21-15-32-8z" fill="#5f9509"/><path d="M4887 1303l29-46-24-24-29 46z" fill="#7cf10f"/><path d="M4475 1331l29-24-22-21-30 24z" fill="#6ff00f"/><path d="M4062 1239l31-2-22-17-31 1z" fill="#86f20f"/><path d="M4655 1337l29-34-24-22-28 33z" fill="#70f00f"/><path d="M4243 1296l30-12-22-19-30 12z" fill="#78f00f"/><path d="M3826 1133l33 11-22-15-32-11z" fill="#3a5705"/><path d="M4835 1321l28-42-23-24-29 42z" fill="#77f00f"/><path d="M4423 1331l29-21-22-20-30 20z" fill="#6ff00f"/><path d="M4009 1221l31 0-22-16-31-1z" fill="#8cf20f"/><path d="M4603 1345l29-31-24-22-28 30z" fill="#6df010"/><path d="M4190 1285l31-8-23-19-30 9z" fill="#7bf10f"/><path d="M3772 1104l33 14-21-14-33-14z" fill="#131c02"/><path d="M4783 1337l28-40-23-23-29 39z" fill="#72f00f"/><path d="M4371 1329l29-19-22-20-30 18z" fill="#70f00f"/><path d="M3956 1200l31 4-22-17-31-4z" fill="#8cea0e"/><path d="M4964 1308l28-49-24-26-28 49z" fill="#7df10f"/><path d="M4551 1350l29-28-24-21-28 27z" fill="#6cf010"/><path d="M4138 1272l30-5-22-18-31 5z" fill="#7ff10f"/><path d="M3718 1072l33 18-21-14-34-18z" fill="#000"/><path d="M4731 1350l28-37-23-23-29 36z" fill="#6ef010"/><path d="M4318 1323l30-15-23-19-29 14z" fill="#72f00f"/><path d="M3902 1176l32 7-22-16-32-7z" fill="#6baa0a"/><path d="M4911 1328l29-46-24-25-29 46z" fill="#77f00f"/><path d="M4498 1353l30-25-24-21-29 24z" fill="#6cf010"/><path d="M4084 1257l31-3-22-17-31 2z" fill="#84f20f"/><path d="M4679 1360l28-34-23-23-29 34z" fill="#6bf010"/><path d="M4266 1315l30-12-23-19-30 12z" fill="#75f00f"/><path d="M3848 1149l32 11-21-16-33-11z" fill="#466b07"/><path d="M4859 1346l28-43-24-24-28 42z" fill="#72f00f"/><path d="M4446 1352l29-21-23-21-29 21z" fill="#6cf010"/><path d="M4031 1238l31 1-22-18-31 0z" fill="#89f20f"/><path d="M4626 1368l29-31-23-23-29 31z" fill="#69f010"/><path d="M4213 1305l30-9-22-19-31 8z" fill="#78f10f"/><path d="M3794 1120l32 13-21-15-33-14z" fill="#202f03"/><path d="M4807 1362l28-41-24-24-28 40z" fill="#6ef010"/><path d="M4394 1350l29-19-23-21-29 19z" fill="#6df010"/><path d="M3978 1217l31 4-22-17-31-4z" fill="#90f30f"/><path d="M4574 1373l29-28-23-23-29 28z" fill="#68f010"/><path d="M4160 1291l30-6-22-18-30 5z" fill="#7cf10f"/><path d="M3739 1087l33 17-21-14-33-18z" fill="#000"/><path d="M4754 1374l29-37-24-24-28 37z" fill="#6af010"/><path d="M4341 1344l30-15-23-21-30 15z" fill="#6ff00f"/><path d="M3924 1193l32 7-22-17-32-7z" fill="#76bf0c"/><path d="M4935 1354l29-46-24-26-29 46z" fill="#73f00f"/><path d="M4522 1375l29-25-23-22-30 25z" fill="#68f010"/><path d="M4107 1275l31-3-23-18-31 3z" fill="#81f10f"/><path d="M4702 1384l29-34-24-24-28 34z" fill="#67f010"/><path d="M4288 1336l30-13-22-20-30 12z" fill="#72f00f"/><path d="M3870 1166l32 10-22-16-32-11z" fill="#537f08"/><path d="M4883 1372l28-44-24-25-28 43z" fill="#6df010"/><path d="M4469 1374l29-21-23-22-29 21z" fill="#68f010"/><path d="M4053 1256l31 1-22-18-31-1z" fill="#87f20f"/><path d="M4650 1391l29-31-24-23-29 31z" fill="#65f011"/><path d="M4235 1325l31-10-23-19-30 9z" fill="#75f00f"/><path d="M3815 1136l33 13-22-16-32-13z" fill="#2d4204"/><path d="M4831 1387l28-41-24-25-28 41z" fill="#69f010"/><path d="M4417 1371l29-19-23-21-29 19z" fill="#69f010"/><path d="M4000 1235l31 3-22-17-31-4z" fill="#8df30f"/><path d="M4597 1396l29-28-23-23-29 28z" fill="#64f011"/><path d="M4182 1311l31-6-23-20-30 6z" fill="#79f10f"/><path d="M3760 1103l34 17-22-16-33-17z" fill="#060800"/><path d="M4778 1399l29-37-24-25-29 37z" fill="#65f011"/><path d="M4364 1365l30-15-23-21-30 15z" fill="#6bf010"/><path d="M3946 1210l32 7-22-17-32-7z" fill="#81d40d"/><path d="M4545 1398l29-25-23-23-29 25z" fill="#64f011"/><path d="M4129 1295l31-4-22-19-31 3z" fill="#7ef10f"/><path d="M4726 1409l28-35-23-24-29 34z" fill="#63f011"/><path d="M4311 1357l30-13-23-21-30 13z" fill="#6ef010"/><path d="M3892 1183l32 10-22-17-32-10z" fill="#5e9409"/><path d="M4907 1398l28-44-24-26-28 44z" fill="#68f010"/><path d="M4492 1397l30-22-24-22-29 21z" fill="#64f011"/><path d="M4076 1275l31 0-23-18-31-1z" fill="#84f20f"/><path d="M4673 1416l29-32-23-24-29 31z" fill="#61f011"/><path d="M4258 1346l30-10-22-21-31 10z" fill="#72f00f"/><path d="M3837 1153l33 13-22-17-33-13z" fill="#395505"/><path d="M4855 1413l28-41-24-26-28 41z" fill="#64f011"/><path d="M4440 1394l29-20-23-22-29 19z" fill="#65f011"/><path d="M4022 1253l31 3-22-18-31-3z" fill="#8bf20f"/><path d="M4621 1420l29-29-24-23-29 28z" fill="#60f011"/><path d="M4205 1332l30-7-22-20-31 6z" fill="#76f00f"/><path d="M3782 1119l33 17-21-16-34-17z" fill="#131a02"/><path d="M4802 1425l29-38-24-25-29 37z" fill="#60f011"/><path d="M4387 1388l30-17-23-21-30 15z" fill="#68f010"/><path d="M3968 1228l32 7-22-18-32-7z" fill="#8dea0e"/><path d="M4568 1422l29-26-23-23-29 25z" fill="#5ff011"/><path d="M4152 1315l30-4-22-20-31 4z" fill="#7cf10f"/><path d="M4750 1434l28-35-24-25-28 35z" fill="#5ef011"/><path d="M4334 1379l30-14-23-21-30 13z" fill="#6bf010"/><path d="M3913 1201l33 9-22-17-32-10z" fill="#6aa90a"/><path d="M4516 1421l29-23-23-23-30 22z" fill="#60f011"/><path d="M4098 1295l31 0-22-20-31 0z" fill="#81f10f"/><path d="M4697 1441l29-32-24-25-29 32z" fill="#5cf012"/><path d="M4281 1367l30-10-23-21-30 10z" fill="#6ff00f"/><path d="M3859 1170l33 13-22-17-33-13z" fill="#466906"/><path d="M4879 1440l28-42-24-26-28 41z" fill="#5ff011"/><path d="M4463 1417l29-20-23-23-29 20z" fill="#61f011"/><path d="M4044 1273l32 2-23-19-31-3z" fill="#88f20f"/><path d="M4644 1445l29-29-23-25-29 29z" fill="#5bf012"/><path d="M4228 1353l30-7-23-21-30 7z" fill="#73f00f"/><path d="M3804 1137l33 16-22-17-33-17z" fill="#202d03"/><path d="M4826 1451l29-38-24-26-29 38z" fill="#5bf012"/><path d="M4410 1410l30-16-23-23-30 17z" fill="#64f011"/><path d="M3990 1247l32 6-22-18-32-7z" fill="#8ff30f"/><path d="M4592 1446l29-26-24-24-29 26z" fill="#5bf012"/><path d="M4174 1335l31-3-23-21-30 4z" fill="#78f10f"/><path d="M4773 1461l29-36-24-26-28 35z" fill="#59f012"/><path d="M4357 1401l30-13-23-23-30 14z" fill="#67f010"/><path d="M3936 1219l32 9-22-18-33-9z" fill="#76be0c"/><path d="M4539 1445l29-23-23-24-29 23z" fill="#5cf012"/><path d="M4120 1315l32 0-23-20-31 0z" fill="#7ef10f"/><path d="M4721 1467l29-33-24-25-29 32z" fill="#57f012"/><path d="M4304 1389l30-10-23-22-30 10z" fill="#6bf010"/><path d="M3881 1188l32 13-21-18-33-13z" fill="#537e08"/><path d="M4486 1441l30-20-24-24-29 20z" fill="#5df011"/><path d="M4067 1293l31 2-22-20-32-2z" fill="#85f20f"/><path d="M4668 1471l29-30-24-25-29 29z" fill="#56f012"/><path d="M4250 1374l31-7-23-21-30 7z" fill="#70f00f"/><path d="M3826 1154l33 16-22-17-33-16z" fill="#2c4004"/><path d="M4850 1479l29-39-24-27-29 38z" fill="#56f012"/><path d="M4433 1434l30-17-23-23-30 16z" fill="#60f011"/><path d="M4012 1267l32 6-22-20-32-6z" fill="#8df30f"/><path d="M4615 1471l29-26-23-25-29 26z" fill="#56f012"/><path d="M4197 1357l31-4-23-21-31 3z" fill="#75f00f"/><path d="M4797 1487l29-36-24-26-29 36z" fill="#54f012"/><path d="M4380 1424l30-14-23-22-30 13z" fill="#63f011"/><path d="M3958 1239l32 8-22-19-32-9z" fill="#81d30d"/><path d="M4563 1470l29-24-24-24-29 23z" fill="#57f012"/><path d="M4143 1337l31-2-22-20-32 0z" fill="#7bf10f"/><path d="M4745 1493l28-32-23-27-29 33z" fill="#52f013"/><path d="M4327 1412l30-11-23-22-30 10z" fill="#67f010"/><path d="M3903 1207l33 12-23-18-32-13z" fill="#5e9209"/><path d="M4510 1465l29-20-23-24-30 20z" fill="#59f012"/><path d="M4089 1313l31 2-22-20-31-2z" fill="#82f20f"/><path d="M4692 1497l29-30-24-26-29 30z" fill="#51f013"/><path d="M4273 1397l31-8-23-22-31 7z" fill="#6cf010"/><path d="M3848 1173l33 15-22-18-33-16z" fill="#395305"/><path d="M4457 1458l29-17-23-24-30 17z" fill="#5bf012"/><path d="M4035 1287l32 6-23-20-32-6z" fill="#8af20f"/><path d="M4639 1497l29-26-24-26-29 26z" fill="#51f013"/><path d="M4220 1379l30-5-22-21-31 4z" fill="#72f00f"/><path d="M4821 1515l29-36-24-28-29 36z" fill="#4ef013"/><path d="M4403 1448l30-14-23-24-30 14z" fill="#5ff011"/><path d="M3980 1259l32 8-22-20-32-8z" fill="#8ce90e"/><path d="M4586 1495l29-24-23-25-29 24z" fill="#52f013"/><path d="M4166 1358l31-1-23-22-31 2z" fill="#78f00f"/><path d="M4769 1521l28-34-24-26-28 32z" fill="#4df013"/><path d="M4350 1436l30-12-23-23-30 11z" fill="#63f011"/><path d="M3925 1227l33 12-22-20-33-12z" fill="#6aa70a"/><path d="M4533 1491l30-21-24-25-29 20z" fill="#54f012"/><path d="M4112 1335l31 2-23-22-31-2z" fill="#7ff10f"/><path d="M4716 1524l29-31-24-26-29 30z" fill="#4cf013"/><path d="M4296 1420l31-8-23-23-31 8z" fill="#68f010"/><path d="M3870 1192l33 15-22-19-33-15z" fill="#456706"/><path d="M4480 1483l30-18-24-24-29 17z" fill="#57f012"/><path d="M4057 1308l32 5-22-20-32-6z" fill="#87f20f"/><path d="M4663 1524l29-27-24-26-29 26z" fill="#4cf013"/><path d="M4243 1402l30-5-23-23-30 5z" fill="#6ef010"/><path d="M4427 1473l30-15-24-24-30 14z" fill="#5af012"/><path d="M4003 1279l32 8-23-20-32-8z" fill="#8ff30f"/><path d="M4610 1522l29-25-24-26-29 24z" fill="#4ef013"/><path d="M4189 1381l31-2-23-22-31 1z" fill="#75f00f"/><path d="M4793 1549l28-34-24-28-28 34z" fill="#47f014"/><path d="M4373 1460l30-12-23-24-30 12z" fill="#5ff011"/><path d="M3948 1247l32 12-22-20-33-12z" fill="#75bc0c"/><path d="M4557 1517l29-22-23-25-30 21z" fill="#4ff013"/><path d="M4134 1357l32 1-23-21-31-2z" fill="#7cf10f"/><path d="M4740 1551l29-30-24-28-29 31z" fill="#47f014"/><path d="M4320 1444l30-8-23-24-31 8z" fill="#64f011"/><path d="M3892 1212l33 15-22-20-33-15z" fill="#517b08"/><path d="M4503 1509l30-18-23-26-30 18z" fill="#52f013"/><path d="M4080 1330l32 5-23-22-32-5z" fill="#83f20f"/><path d="M4687 1551l29-27-24-27-29 27z" fill="#47f014"/><path d="M4266 1425l30-5-23-23-30 5z" fill="#6af010"/><path d="M4450 1498l30-15-23-25-30 15z" fill="#56f012"/><path d="M4025 1301l32 7-22-21-32-8z" fill="#8cf20f"/><path d="M4634 1549l29-25-24-27-29 25z" fill="#48f014"/><path d="M4212 1404l31-2-23-23-31 2z" fill="#71f00f"/><path d="M4397 1485l30-12-24-25-30 12z" fill="#5af012"/><path d="M3970 1268l33 11-23-20-32-12z" fill="#80d10d"/><path d="M4580 1543l30-21-24-27-29 22z" fill="#4af014"/><path d="M4157 1380l32 1-23-23-32-1z" fill="#78f00f"/><path d="M4764 1580l29-31-24-28-29 30z" fill="#43ef14"/><path d="M4343 1469l30-9-23-24-30 8z" fill="#5ff011"/><path d="M3915 1233l33 14-23-20-33-15z" fill="#5d8f09"/><path d="M4527 1535l30-18-24-26-30 18z" fill="#4df013"/><path d="M4103 1353l31 4-22-22-32-5z" fill="#80f10f"/><path d="M4711 1579l29-28-24-27-29 27z" fill="#43ef14"/><path d="M4289 1450l31-6-24-24-30 5z" fill="#66f010"/><path d="M4474 1524l29-15-23-26-30 15z" fill="#51f013"/><path d="M4048 1323l32 7-23-22-32-7z" fill="#89f20f"/><path d="M4658 1576l29-25-24-27-29 25z" fill="#44ef14"/><path d="M4235 1428l31-3-23-23-31 2z" fill="#6df010"/><path d="M4420 1511l30-13-23-25-30 12z" fill="#56f012"/><path d="M3993 1290l32 11-22-22-33-11z" fill="#8be70e"/><path d="M4604 1571l30-22-24-27-30 21z" fill="#45f014"/><path d="M4180 1403l32 1-23-23-32-1z" fill="#74f00f"/><path d="M4366 1494l31-9-24-25-30 9z" fill="#5bf012"/><path d="M3937 1254l33 14-22-21-33-14z" fill="#69a40a"/><path d="M4551 1562l29-19-23-26-30 18z" fill="#48f014"/><path d="M4126 1376l31 4-23-23-31-4z" fill="#7cf10f"/><path d="M4735 1608l29-28-24-29-29 28z" fill="#3fee14"/><path d="M4312 1475l31-6-23-25-31 6z" fill="#61f011"/><path d="M4497 1551l30-16-24-26-29 15z" fill="#4cf013"/><path d="M4071 1346l32 7-23-23-32-7z" fill="#85f20f"/><path d="M4682 1605l29-26-24-28-29 25z" fill="#40ee14"/><path d="M4258 1453l31-3-23-25-31 3z" fill="#68f010"/><path d="M4444 1537l30-13-24-26-30 13z" fill="#51f013"/><path d="M4016 1312l32 11-23-22-32-11z" fill="#8ff30f"/><path d="M4628 1599l30-23-24-27-30 22z" fill="#42ef14"/><path d="M4204 1428l31 0-23-24-32-1z" fill="#70f00f"/><path d="M4390 1520l30-9-23-26-31 9z" fill="#56f012"/><path d="M3960 1276l33 14-23-22-33-14z" fill="#74b90b"/><path d="M4575 1590l29-19-24-28-29 19z" fill="#44ef14"/><path d="M4149 1400l31 3-23-23-31-4z" fill="#78f10f"/><path d="M4336 1501l30-7-23-25-31 6z" fill="#5df011"/><path d="M4521 1579l30-17-24-27-30 16z" fill="#47f014"/><path d="M4094 1369l32 7-23-23-32-7z" fill="#81f10f"/><path d="M4706 1634l29-26-24-29-29 26z" fill="#3ced14"/><path d="M4281 1478l31-3-23-25-31 3z" fill="#64f011"/><path d="M4467 1564l30-13-23-27-30 13z" fill="#4cf013"/><path d="M4038 1336l33 10-23-23-32-11z" fill="#8bf20f"/><path d="M4652 1628l30-23-24-29-30 23z" fill="#3dee14"/><path d="M4227 1453l31 0-23-25-31 0z" fill="#6cf010"/><path d="M4413 1547l31-10-24-26-30 9z" fill="#51f013"/><path d="M3983 1299l33 13-23-22-33-14z" fill="#7ecd0d"/><path d="M4599 1619l29-20-24-28-29 19z" fill="#40ee14"/><path d="M4172 1425l32 3-24-25-31-3z" fill="#74f00f"/><path d="M4359 1527l31-7-24-26-30 7z" fill="#58f012"/><path d="M4545 1607l30-17-24-28-30 17z" fill="#43ef14"/><path d="M4117 1394l32 6-23-24-32-7z" fill="#7df10f"/><path d="M4305 1504l31-3-24-26-31 3z" fill="#5ff011"/><path d="M4491 1592l30-13-24-28-30 13z" fill="#46f014"/><path d="M4061 1359l33 10-23-23-33-10z" fill="#87f20f"/><path d="M4676 1657l30-23-24-29-30 23z" fill="#39ed14"/><path d="M4250 1479l31-1-23-25-31 0z" fill="#67f010"/><path d="M4437 1575l30-11-23-27-31 10z" fill="#4cf013"/><path d="M4006 1322l32 14-22-24-33-13z" fill="#89e30e"/><path d="M4623 1648l29-20-24-29-29 20z" fill="#3ced14"/><path d="M4195 1450l32 3-23-25-32-3z" fill="#70f00f"/><path d="M4383 1554l30-7-23-27-31 7z" fill="#53f013"/><path d="M4569 1636l30-17-24-29-30 17z" fill="#3fee14"/><path d="M4140 1419l32 6-23-25-32-6z" fill="#79f10f"/><path d="M4328 1531l31-4-23-26-31 3z" fill="#5af012"/><path d="M4515 1621l30-14-24-28-30 13z" fill="#42ef14"/><path d="M4085 1384l32 10-23-25-33-10z" fill="#83f20f"/><path d="M4274 1505l31-1-24-26-31 1z" fill="#62f011"/><path d="M4461 1603l30-11-24-28-30 11z" fill="#47f014"/><path d="M4029 1347l32 12-23-23-32-14z" fill="#8ef30f"/><path d="M4647 1678l29-21-24-29-29 20z" fill="#37ec14"/><path d="M4219 1476l31 3-23-26-32-3z" fill="#6bf010"/><path d="M4407 1582l30-7-24-28-30 7z" fill="#4ef013"/><path d="M4593 1665l30-17-24-29-30 17z" fill="#3aed14"/><path d="M4163 1444l32 6-23-25-32-6z" fill="#75f00f"/><path d="M4352 1559l31-5-24-27-31 4z" fill="#55f012"/><path d="M4539 1650l30-14-24-29-30 14z" fill="#3eee14"/><path d="M4108 1410l32 9-23-25-32-10z" fill="#7ff10f"/><path d="M4297 1532l31-1-23-27-31 1z" fill="#5df011"/><path d="M4485 1632l30-11-24-29-30 11z" fill="#43ef14"/><path d="M4052 1372l33 12-24-25-32-12z" fill="#8af20f"/><path d="M4242 1503l32 2-24-26-31-3z" fill="#67f010"/><path d="M4430 1611l31-8-24-28-30 7z" fill="#48f014"/><path d="M4617 1696l30-18-24-30-30 17z" fill="#36ec14"/><path d="M4187 1471l32 5-24-26-32-6z" fill="#71f00f"/><path d="M4376 1587l31-5-24-28-31 5z" fill="#50f013"/><path d="M4563 1680l30-15-24-29-30 14z" fill="#3aed14"/><path d="M4131 1436l32 8-23-25-32-9z" fill="#7bf10f"/><path d="M4321 1560l31-1-24-28-31 1z" fill="#58f012"/><path d="M4509 1662l30-12-24-29-30 11z" fill="#3eee14"/><path d="M4075 1398l33 12-23-26-33-12z" fill="#86f20f"/><path d="M4266 1531l31 1-23-27-32-2z" fill="#62f011"/><path d="M4454 1640l31-8-24-29-31 8z" fill="#44ef14"/><path d="M4210 1498l32 5-23-27-32-5z" fill="#6cf010"/><path d="M4400 1616l30-5-23-29-31 5z" fill="#4af014"/><path d="M4587 1711l30-15-24-31-30 15z" fill="#36ec14"/><path d="M4155 1463l32 8-24-27-32-8z" fill="#76f00f"/><path d="M4345 1589l31-2-24-28-31 1z" fill="#53f013"/><path d="M4533 1692l30-12-24-30-30 12z" fill="#3aed14"/><path d="M4099 1424l32 12-23-26-33-12z" fill="#81f10f"/><path d="M4290 1559l31 1-24-28-31-1z" fill="#5cf012"/><path d="M4478 1671l31-9-24-30-31 8z" fill="#3fee14"/><path d="M4234 1526l32 5-24-28-32-5z" fill="#67f010"/><path d="M4424 1646l30-6-24-29-30 5z" fill="#45f014"/><path d="M4178 1490l32 8-23-27-32-8z" fill="#72f00f"/><path d="M4369 1619l31-3-24-29-31 2z" fill="#4df013"/><path d="M4557 1724l30-13-24-31-30 12z" fill="#36ec14"/><path d="M4122 1451l33 12-24-27-32-12z" fill="#7df10f"/><path d="M4313 1588l32 1-24-29-31-1z" fill="#57f012"/><path d="M4503 1702l30-10-24-30-31 9z" fill="#3bed14"/><path d="M4258 1555l32 4-24-28-32-5z" fill="#61f011"/><path d="M4448 1677l30-6-24-31-30 6z" fill="#41ef14"/><path d="M4202 1519l32 7-24-28-32-8z" fill="#6cf010"/><path d="M4393 1649l31-3-24-30-31 3z" fill="#48f014"/><path d="M4146 1479l32 11-23-27-33-12z" fill="#78f10f"/><path d="M4337 1618l32 1-24-30-32-1z" fill="#51f013"/><path d="M4527 1733l30-9-24-32-30 10z" fill="#36ec14"/><path d="M4282 1585l31 3-23-29-32-4z" fill="#5cf012"/><path d="M4472 1708l31-6-25-31-30 6z" fill="#3cee14"/><path d="M4226 1548l32 7-24-29-32-7z" fill="#67f010"/><path d="M4417 1680l31-3-24-31-31 3z" fill="#43ef14"/><path d="M4170 1508l32 11-24-29-32-11z" fill="#73f00f"/><path d="M4361 1649l32 0-24-30-32-1z" fill="#4cf013"/><path d="M4306 1615l31 3-24-30-31-3z" fill="#56f012"/><path d="M4496 1740l31-7-24-31-31 6z" fill="#38ec14"/><path d="M4250 1578l32 7-24-30-32-7z" fill="#61f011"/><path d="M4441 1712l31-4-24-31-31 3z" fill="#3eee14"/><path d="M4193 1538l33 10-24-29-32-11z" fill="#6ef010"/><path d="M4386 1680l31 0-24-31-32 0z" fill="#46f014"/><path d="M4330 1646l31 3-24-31-31-3z" fill="#50f013"/><path d="M4274 1609l32 6-24-30-32-7z" fill="#5cf012"/><path d="M4465 1744l31-4-24-32-31 4z" fill="#3aed14"/><path d="M4217 1568l33 10-24-30-33-10z" fill="#68f010"/><path d="M4410 1712l31 0-24-32-31 0z" fill="#41ef14"/><path d="M4354 1678l32 2-25-31-31-3z" fill="#4af014"/><path d="M4298 1640l32 6-24-31-32-6z" fill="#56f012"/><path d="M4242 1599l32 10-24-31-33-10z" fill="#62f011"/><path d="M4434 1745l31-1-24-32-31 0z" fill="#3cee14"/><path d="M4378 1710l32 2-24-32-32-2z" fill="#44f014"/><path d="M4322 1672l32 6-24-32-32-6z" fill="#50f013"/><path d="M4266 1631l32 9-24-31-32-10z" fill="#5cf012"/><path d="M4403 1744l31 1-24-33-32-2z" fill="#40ee14"/><path d="M4347 1705l31 5-24-32-32-6z" fill="#49f014"/><path d="M4290 1664l32 8-24-32-32-9z" fill="#56f012"/><path d="M4371 1739l32 5-25-34-31-5z" fill="#44ef14"/><path d="M4315 1697l32 8-25-33-32-8z" fill="#50f013"/><path d="M4339 1731l32 8-24-34-32-8z" fill="#49f014"/></g>
<polyline points="433.9,173.1 432.1,170.6 430.3,168.1 428.5,165.7 426.7,163.3 425,161 423.2,158.7 421.4,156.4 419.7,154.2 417.9,152 416.2,149.9 414.4,147.8 412.7,145.7 411,143.7 409.2,141.7 407.5,139.8 405.8,137.9 404.1,136 402.4,134.2 400.7,132.4 399,130.7 397.4,129 395.7,127.3 394,125.7 392.4,124.1 390.7,122.6 389.1,121.1 387.4,119.6 385.8,118.2 384.2,116.8 382.6,115.4 381,114.1 379.4,112.8 377.8,111.6 376.2,110.4 374.6,109.3 373,108.1 371.5,107.1 369.9,106 368.4,105 366.8,104 365.3,103.1 363.8,102.2 362.2,101.3 360.7,100.5 359.2,99.7 357.7,98.9 356.2,98.2 354.7,97.5 353.3,96.9 351.8,96.2 350.3,95.7 348.9,95.1 347.4,94.6 346,94.1 344.5,93.7 343.1,93.2 341.7,92.9 340.3,92.5 338.9,92.2 337.5,91.9" fill="none" stroke="#000" stroke-width="0.9"/>
<polyline points="433.9,173.1 435.7,173.6 437.5,174 439.3,174.3 441.1,174.4 442.9,174.5 444.7,174.5 446.4,174.4 448.2,174.2 449.9,174 451.7,173.6 453.4,173.1 455.1,172.6 456.8,171.9 458.5,171.2 460.2,170.4 461.9,169.5 463.6,168.5 465.3,167.4 466.9,166.2 468.6,165 470.3,163.7 471.9,162.2 473.6,160.7 475.2,159.1 476.9,157.5 478.5,155.7 480.1,153.9 481.8,152 483.4,150 485,147.9 486.6,145.7 488.2,143.4 489.8,141.1 491.5,138.7 493.1,136.2 494.7,133.6 496.3,130.9 497.9,128.2 499.5,125.4 501.1,122.4 502.7,119.4 504.3,116.4 505.8,113.2 507.4,110 509,106.6 510.6,103.2 512.2,99.7 513.8,96.2 515.4,92.5 517,88.8 518.6,84.9 520.2,81 521.8,77 523.4,73 525,68.8 526.5,64.6 528.1,60.2 529.7,55.8 531.3,51.3 533,46.7" fill="none" stroke="#000" stroke-width="0.9"/>
<polyline points="533,46.7 531.2,45.2 529.4,43.8 527.6,42.4 525.8,41.1 524,39.8 522.2,38.5 520.4,37.2 518.7,36 516.9,34.9 515.2,33.7 513.4,32.7 511.7,31.6 509.9,30.6 508.2,29.6 506.5,28.6 504.7,27.7 503,26.8 501.3,26 499.6,25.2 497.9,24.4 496.2,23.7 494.5,22.9 492.8,22.3 491.2,21.6 489.5,21 487.8,20.5 486.2,19.9 484.5,19.4 482.8,18.9 481.2,18.5 479.6,18.1 477.9,17.7 476.3,17.4 474.7,17.1 473.1,16.8 471.5,16.6 469.9,16.3 468.3,16.2 466.7,16 465.1,15.9 463.5,15.8 462,15.8 460.4,15.7 458.8,15.7 457.3,15.8 455.7,15.8 454.2,15.9 452.7,16 451.1,16.2 449.6,16.4 448.1,16.6 446.6,16.8 445.1,17.1 443.6,17.4 442.1,17.7 440.6,18.1 439.2,18.5 437.7,18.9 436.2,19.3 434.8,19.8" fill="none" stroke="#000" stroke-width="0.9"/>
<polyline points="337.5,91.9 339.4,93.2 341.3,94.3 343.1,95.4 345,96.3 346.8,97.2 348.7,98 350.5,98.7 352.3,99.3 354.1,99.8 355.9,100.3 357.7,100.6 359.4,100.9 361.2,101 362.9,101.1 364.6,101.1 366.3,101 368,100.9 369.7,100.6 371.4,100.3 373.1,99.9 374.8,99.4 376.4,98.8 378.1,98.2 379.7,97.5 381.3,96.6 383,95.8 384.6,94.8 386.2,93.7 387.8,92.6 389.4,91.4 391,90.1 392.6,88.8 394.1,87.3 395.7,85.8 397.3,84.2 398.8,82.6 400.4,80.8 401.9,79 403.4,77.1 405,75.1 406.5,73.1 408,71 409.6,68.8 411.1,66.5 412.6,64.1 414.1,61.7 415.6,59.2 417.1,56.6 418.6,54 420.1,51.3 421.5,48.4 423,45.6 424.5,42.6 426,39.6 427.5,36.5 428.9,33.3 430.4,30 431.9,26.7 433.3,23.3 434.8,19.8" fill="none" stroke="#000" stroke-width="0.9"/></g>
<g><text x="34.1" y="42.7" font-size="11" text-anchor="end" textLength="22.8">2.50</text>
<text x="34.1" y="70.5" font-size="11" text-anchor="end" textLength="22.8">2.17</text>
<text x="34.1" y="98.3" font-size="11" text-anchor="end" textLength="22.8">1.85</text>
<text x="34.1" y="126" font-size="11" text-anchor="end" textLength="22.8">1.53</text>
<text x="34.1" y="153.8" font-size="11" text-anchor="end" textLength="22.8">1.20</text>
<text transform="translate(14.9,106.9) rotate(-90)" font-size="14.5" text-anchor="middle" textLength="34.2">MRR</text>
<text x="28.25" y="187.5" font-size="11" textLength="12.6">40</text>
<text x="53.949999999999996" y="200.5" font-size="11" textLength="12.6">39</text>
<text x="80.14999999999999" y="213" font-size="11" textLength="12.6">38</text>
<text x="106.95" y="225.5" font-size="11" textLength="12.6">37</text>
<text x="133.05" y="238" font-size="11" textLength="12.6">36</text>
<text x="158.55" y="238" font-size="11" textLength="23.6">0.60</text>
<text x="184.45000000000002" y="225.2" font-size="11" textLength="23.6">0.65</text>
<text x="211.15" y="212.7" font-size="11" textLength="23.6">0.70</text>
<text x="237.55" y="200" font-size="11" textLength="23.6">0.75</text>
<text x="263.85" y="187.4" font-size="11" textLength="23.6">0.80</text>
<text x="36.5" y="229.9" font-size="14.1" textLength="45.2">B: Toff</text>
<text x="223.3" y="229.9" font-size="14.1" textLength="44.2">A: Ton</text>
<text x="145.3" y="266" font-size="13.5" text-anchor="middle" class="cap">(a)</text>
<text x="330" y="39.6" font-size="10.7" text-anchor="end" textLength="20.4">2.72</text>
<text x="330" y="65.8" font-size="10.7" text-anchor="end" textLength="20.4">2.58</text>
<text x="330" y="92.7" font-size="10.7" text-anchor="end" textLength="20.4">2.45</text>
<text x="330" y="119.1" font-size="10.7" text-anchor="end" textLength="20.4">2.31</text>
<text x="330" y="144.8" font-size="10.7" text-anchor="end" textLength="20.4">2.17</text>
<text transform="translate(313.2,102.5) rotate(-90)" font-size="14.1" text-anchor="middle" textLength="32.6">MRR</text>
<text x="329.40000000000003" y="179.8" font-size="10.7">5</text>
<text x="351.8" y="192" font-size="10.7">4</text>
<text x="375.6" y="203.6" font-size="10.7">3</text>
<text x="398.90000000000003" y="216.1" font-size="10.7">2</text>
<text x="422.6" y="227.6" font-size="10.7">1</text>
<text x="439.29999999999995" y="227.7" font-size="10.7">12</text>
<text x="463.09999999999997" y="215.8" font-size="10.7">13</text>
<text x="486.4" y="203.6" font-size="10.7">13</text>
<text x="509.9" y="191.4" font-size="10.7">14</text>
<text x="533.1999999999999" y="179" font-size="10.7">14</text>
<text x="333.5" y="220.7" font-size="14.1" textLength="34" lengthAdjust="spacingAndGlyphs">D: TA</text>
<text x="497.6" y="221" font-size="14.1" textLength="38" lengthAdjust="spacingAndGlyphs">C: WT</text>
<text x="423.4" y="267.5" font-size="14" text-anchor="middle" class="cap">(b)</text>
<line x1="40.6" y1="60.2" x2="42.2" y2="60.2" stroke="#222" stroke-width="1"/>
<line x1="41.9" y1="88.0" x2="43.5" y2="88.0" stroke="#222" stroke-width="1"/>
<line x1="43.1" y1="115.8" x2="44.7" y2="115.8" stroke="#222" stroke-width="1"/>
<line x1="44.4" y1="143.6" x2="46.0" y2="143.6" stroke="#222" stroke-width="1"/>
<line x1="334.2" y1="56.6" x2="335.8" y2="56.6" stroke="#222" stroke-width="1"/>
<line x1="335.4" y1="82.9" x2="337.0" y2="82.9" stroke="#222" stroke-width="1"/>
<line x1="336.5" y1="109.3" x2="338.1" y2="109.3" stroke="#222" stroke-width="1"/>
<line x1="337.7" y1="135.6" x2="339.3" y2="135.6" stroke="#222" stroke-width="1"/></g>
</svg>
</body></html>
